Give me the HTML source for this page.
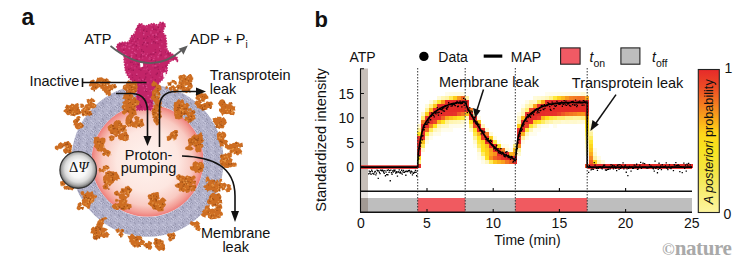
<!DOCTYPE html><html><head><meta charset="utf-8"><style>html,body{margin:0;padding:0;background:#fff;width:751px;height:265px;overflow:hidden}svg{display:block}</style></head><body><svg width="751" height="265" viewBox="0 0 751 265" font-family='"Liberation Sans", sans-serif' fill="#111"><text x="21.5" y="24.8" font-size="23" font-weight="bold">a</text><text x="314.5" y="27" font-size="22" font-weight="bold">b</text><defs>
<radialGradient id="lumen" cx="147.5" cy="160.8" r="56" gradientUnits="userSpaceOnUse">
<stop offset="0" stop-color="#fef3ef"/><stop offset="0.55" stop-color="#fde7e1"/>
<stop offset="0.8" stop-color="#f9cac2"/><stop offset="0.93" stop-color="#f39d95"/><stop offset="1" stop-color="#ee7c7a"/>
</radialGradient>
<filter id="bsoft" x="-2%" y="-2%" width="104%" height="104%"><feGaussianBlur stdDeviation="0.45"/></filter>
<radialGradient id="sph" cx="0.5" cy="0.47" r="0.52">
<stop offset="0" stop-color="#ffffff"/><stop offset="0.45" stop-color="#f7f7f7"/><stop offset="0.7" stop-color="#dcdcdc"/><stop offset="0.86" stop-color="#ababab"/><stop offset="0.96" stop-color="#767676"/><stop offset="1" stop-color="#555555"/>
</radialGradient>
<pattern id="memtex" width="8" height="8" patternUnits="userSpaceOnUse"><rect width="8" height="8" fill="#afafc8"/><rect x="2" y="0" width="1" height="1" fill="#c2c2d8"/><rect x="3" y="0" width="1" height="1" fill="#c2c2d8"/><rect x="7" y="0" width="1" height="1" fill="#9a9ab3"/><rect x="3" y="1" width="1" height="1" fill="#c2c2d8"/><rect x="5" y="1" width="1" height="1" fill="#9a9ab3"/><rect x="3" y="2" width="1" height="1" fill="#9a9ab3"/><rect x="4" y="2" width="1" height="1" fill="#c2c2d8"/><rect x="5" y="2" width="1" height="1" fill="#c2c2d8"/><rect x="7" y="2" width="1" height="1" fill="#9a9ab3"/><rect x="0" y="3" width="1" height="1" fill="#9a9ab3"/><rect x="4" y="3" width="1" height="1" fill="#9a9ab3"/><rect x="5" y="3" width="1" height="1" fill="#c2c2d8"/><rect x="6" y="3" width="1" height="1" fill="#9a9ab3"/><rect x="7" y="3" width="1" height="1" fill="#c2c2d8"/><rect x="3" y="4" width="1" height="1" fill="#c2c2d8"/><rect x="2" y="5" width="1" height="1" fill="#9a9ab3"/><rect x="5" y="5" width="1" height="1" fill="#c2c2d8"/><rect x="6" y="6" width="1" height="1" fill="#9a9ab3"/><rect x="6" y="7" width="1" height="1" fill="#9a9ab3"/><rect x="7" y="7" width="1" height="1" fill="#9a9ab3"/></pattern>
</defs><circle cx="147.5" cy="160.8" r="56" fill="url(#lumen)"/><circle cx="147.5" cy="160.8" r="66" fill="none" stroke="url(#memtex)" stroke-width="20"/><circle cx="147.5" cy="160.8" r="66" fill="none" stroke="#c4c5da" stroke-width="5" opacity="0.3"/><path d="M136.4,29.1 L138.3,24.4 L141.1,23.5 L144.9,26.3 L149.6,24.4 L153.3,23.5 L158,25.4 L160,22.5 L163.7,22.5 L165.6,25.4 L163.7,29.1 L162.8,32.9 L165.6,35.7 L166.5,43.3 L166.5,48 L168.4,51.7 L173.1,54.6 L176.9,57.4 L177.8,62.1 L175.4,59.2 L170.3,61.2 L167.1,65.4 L167.1,71.6 L165,75.8 L162,80 L158.8,83 L157.8,86.2 L154.7,88.2 L153,100 L152,110 L137,110 L136,102.8 L137,92.4 L136,87.2 L133.9,83 L130.8,80 L127.7,75.8 L125.6,71.6 L124.5,63.3 L124.1,60.2 L124.1,55.5 L121.3,52.7 L117.5,50.8 L116.6,46.1 L118.5,43.3 L123.2,42.3 L128.8,42.3 L129.8,39.5 L131.7,35.7 L134.5,33.8 Z" fill="#c22468" stroke="#c22468" stroke-width="1.6" stroke-dasharray="1.5 1.2"/><g clip-path="url(#synclip)"><path fill="#a01856" d="M172.8 63.2h1.3v1.3h-1.3zM169.8 67.6h1.3v1.3h-1.3zM157.6 26.7h1.3v1.3h-1.3zM172.1 81.7h1.3v1.3h-1.3zM159.3 50.0h1.3v1.3h-1.3zM163.7 98.7h1.3v1.3h-1.3zM116.4 30.6h1.3v1.3h-1.3zM153.8 34.9h1.3v1.3h-1.3zM155.9 74.0h1.3v1.3h-1.3zM148.3 69.8h1.3v1.3h-1.3zM161.8 23.0h1.3v1.3h-1.3zM169.6 51.3h1.3v1.3h-1.3zM149.7 100.2h1.3v1.3h-1.3zM169.2 107.4h1.3v1.3h-1.3zM171.6 101.1h1.3v1.3h-1.3zM147.2 42.3h1.3v1.3h-1.3zM148.5 57.8h1.3v1.3h-1.3zM128.2 68.6h1.3v1.3h-1.3zM154.3 67.3h1.3v1.3h-1.3zM145.3 90.1h1.3v1.3h-1.3zM169.1 90.0h1.3v1.3h-1.3zM123.7 27.1h1.3v1.3h-1.3zM142.6 32.4h1.3v1.3h-1.3zM160.4 54.8h1.3v1.3h-1.3zM129.9 32.6h1.3v1.3h-1.3zM157.4 86.3h1.3v1.3h-1.3zM124.9 89.9h1.3v1.3h-1.3zM127.1 23.1h1.3v1.3h-1.3zM122.6 87.7h1.3v1.3h-1.3zM159.5 39.3h1.3v1.3h-1.3zM164.6 99.5h1.3v1.3h-1.3zM156.2 90.2h1.3v1.3h-1.3zM127.6 83.7h1.3v1.3h-1.3zM171.8 43.7h1.3v1.3h-1.3zM135.4 58.7h1.3v1.3h-1.3zM140.2 69.4h1.3v1.3h-1.3zM157.7 68.7h1.3v1.3h-1.3zM157.3 66.3h1.3v1.3h-1.3zM145.9 90.6h1.3v1.3h-1.3zM132.8 29.9h1.3v1.3h-1.3zM151.0 102.0h1.3v1.3h-1.3zM171.5 80.4h1.3v1.3h-1.3zM153.3 85.7h1.3v1.3h-1.3zM124.4 91.5h1.3v1.3h-1.3zM117.6 76.0h1.3v1.3h-1.3zM121.0 95.7h1.3v1.3h-1.3zM177.9 39.3h1.3v1.3h-1.3zM146.1 30.7h1.3v1.3h-1.3zM140.3 63.1h1.3v1.3h-1.3zM143.2 61.5h1.3v1.3h-1.3zM149.1 35.2h1.3v1.3h-1.3zM143.4 37.4h1.3v1.3h-1.3zM141.0 49.3h1.3v1.3h-1.3zM155.0 51.7h1.3v1.3h-1.3zM119.5 59.7h1.3v1.3h-1.3zM152.7 21.3h1.3v1.3h-1.3zM158.2 22.7h1.3v1.3h-1.3zM121.7 82.6h1.3v1.3h-1.3zM135.8 74.5h1.3v1.3h-1.3zM140.8 106.1h1.3v1.3h-1.3zM145.0 76.4h1.3v1.3h-1.3zM167.2 31.0h1.3v1.3h-1.3zM167.2 81.6h1.3v1.3h-1.3zM141.0 79.8h1.3v1.3h-1.3zM166.5 39.3h1.3v1.3h-1.3zM144.8 85.8h1.3v1.3h-1.3zM137.2 38.1h1.3v1.3h-1.3zM131.5 95.6h1.3v1.3h-1.3zM136.8 59.3h1.3v1.3h-1.3zM145.1 73.3h1.3v1.3h-1.3zM173.7 67.2h1.3v1.3h-1.3zM124.2 68.2h1.3v1.3h-1.3zM176.7 90.9h1.3v1.3h-1.3zM142.8 51.1h1.3v1.3h-1.3zM141.9 44.2h1.3v1.3h-1.3zM133.3 36.0h1.3v1.3h-1.3zM127.3 81.9h1.3v1.3h-1.3zM117.9 72.1h1.3v1.3h-1.3zM135.6 45.1h1.3v1.3h-1.3zM131.5 108.2h1.3v1.3h-1.3zM146.7 106.2h1.3v1.3h-1.3zM159.3 31.2h1.3v1.3h-1.3zM155.1 93.8h1.3v1.3h-1.3zM174.4 107.7h1.3v1.3h-1.3zM132.6 69.6h1.3v1.3h-1.3zM156.1 33.7h1.3v1.3h-1.3zM127.3 23.3h1.3v1.3h-1.3zM139.8 104.5h1.3v1.3h-1.3zM154.1 36.8h1.3v1.3h-1.3zM119.4 65.0h1.3v1.3h-1.3zM140.7 54.2h1.3v1.3h-1.3zM116.0 26.7h1.3v1.3h-1.3zM143.0 38.5h1.3v1.3h-1.3zM143.4 81.7h1.3v1.3h-1.3zM153.1 28.6h1.3v1.3h-1.3zM143.0 29.6h1.3v1.3h-1.3zM172.6 77.2h1.3v1.3h-1.3zM128.5 55.9h1.3v1.3h-1.3zM168.2 49.1h1.3v1.3h-1.3zM136.3 43.0h1.3v1.3h-1.3zM119.3 106.9h1.3v1.3h-1.3zM154.9 60.4h1.3v1.3h-1.3zM167.1 39.1h1.3v1.3h-1.3zM150.3 53.5h1.3v1.3h-1.3zM147.3 35.9h1.3v1.3h-1.3zM165.0 86.3h1.3v1.3h-1.3zM122.1 83.6h1.3v1.3h-1.3zM130.0 61.7h1.3v1.3h-1.3zM128.6 35.1h1.3v1.3h-1.3zM132.1 28.7h1.3v1.3h-1.3zM170.8 33.3h1.3v1.3h-1.3zM132.3 83.4h1.3v1.3h-1.3zM167.7 53.2h1.3v1.3h-1.3zM143.3 42.1h1.3v1.3h-1.3zM140.3 56.2h1.3v1.3h-1.3zM165.3 65.5h1.3v1.3h-1.3zM117.3 23.0h1.3v1.3h-1.3zM154.8 28.9h1.3v1.3h-1.3zM147.8 106.6h1.3v1.3h-1.3zM131.0 37.2h1.3v1.3h-1.3zM124.6 99.2h1.3v1.3h-1.3zM155.8 85.8h1.3v1.3h-1.3zM154.0 63.2h1.3v1.3h-1.3zM156.1 84.7h1.3v1.3h-1.3zM128.1 100.3h1.3v1.3h-1.3zM176.7 33.3h1.3v1.3h-1.3zM135.6 60.4h1.3v1.3h-1.3zM135.6 55.3h1.3v1.3h-1.3zM162.7 94.0h1.3v1.3h-1.3zM172.7 70.6h1.3v1.3h-1.3zM131.6 32.1h1.3v1.3h-1.3zM153.2 40.9h1.3v1.3h-1.3zM123.1 49.2h1.3v1.3h-1.3zM177.9 36.0h1.3v1.3h-1.3zM127.5 108.3h1.3v1.3h-1.3zM135.5 53.3h1.3v1.3h-1.3zM168.0 96.2h1.3v1.3h-1.3zM137.6 64.1h1.3v1.3h-1.3zM177.9 81.2h1.3v1.3h-1.3zM122.8 88.9h1.3v1.3h-1.3zM128.5 30.3h1.3v1.3h-1.3zM119.1 60.2h1.3v1.3h-1.3zM163.5 83.1h1.3v1.3h-1.3zM169.3 83.5h1.3v1.3h-1.3zM173.1 76.7h1.3v1.3h-1.3zM153.2 53.4h1.3v1.3h-1.3zM154.8 42.2h1.3v1.3h-1.3zM134.0 79.7h1.3v1.3h-1.3zM137.3 26.7h1.3v1.3h-1.3zM152.0 42.2h1.3v1.3h-1.3zM173.1 95.9h1.3v1.3h-1.3zM138.6 21.7h1.3v1.3h-1.3zM130.2 99.6h1.3v1.3h-1.3zM121.7 54.6h1.3v1.3h-1.3zM143.8 78.7h1.3v1.3h-1.3zM176.9 30.9h1.3v1.3h-1.3zM156.7 72.6h1.3v1.3h-1.3zM121.2 93.9h1.3v1.3h-1.3zM177.3 80.8h1.3v1.3h-1.3zM150.6 59.5h1.3v1.3h-1.3zM120.4 43.5h1.3v1.3h-1.3zM169.6 25.4h1.3v1.3h-1.3zM154.7 79.2h1.3v1.3h-1.3zM128.4 36.1h1.3v1.3h-1.3zM164.4 30.7h1.3v1.3h-1.3zM133.2 100.0h1.3v1.3h-1.3zM167.0 52.5h1.3v1.3h-1.3zM155.7 35.2h1.3v1.3h-1.3zM150.6 58.9h1.3v1.3h-1.3zM121.5 103.6h1.3v1.3h-1.3zM146.4 66.3h1.3v1.3h-1.3zM125.5 81.9h1.3v1.3h-1.3z"/><path fill="#dc4c90" d="M155.6 34.4h1.3v1.3h-1.3zM161.1 72.3h1.3v1.3h-1.3zM170.5 29.7h1.3v1.3h-1.3zM149.1 57.3h1.3v1.3h-1.3zM169.1 109.2h1.3v1.3h-1.3zM142.7 85.1h1.3v1.3h-1.3zM117.2 75.8h1.3v1.3h-1.3zM122.5 93.4h1.3v1.3h-1.3zM174.8 81.1h1.3v1.3h-1.3zM143.2 97.1h1.3v1.3h-1.3zM121.0 87.0h1.3v1.3h-1.3zM170.9 61.1h1.3v1.3h-1.3zM164.8 24.0h1.3v1.3h-1.3zM135.5 95.4h1.3v1.3h-1.3zM166.0 51.7h1.3v1.3h-1.3zM150.7 108.7h1.3v1.3h-1.3zM166.2 25.0h1.3v1.3h-1.3zM116.8 87.3h1.3v1.3h-1.3zM166.3 26.5h1.3v1.3h-1.3zM126.6 91.5h1.3v1.3h-1.3zM165.5 24.2h1.3v1.3h-1.3zM150.1 98.4h1.3v1.3h-1.3zM167.3 42.5h1.3v1.3h-1.3zM125.7 56.7h1.3v1.3h-1.3zM152.4 97.4h1.3v1.3h-1.3zM145.7 55.1h1.3v1.3h-1.3zM145.0 41.4h1.3v1.3h-1.3zM175.4 97.0h1.3v1.3h-1.3zM171.2 90.0h1.3v1.3h-1.3zM160.5 81.4h1.3v1.3h-1.3zM156.0 86.0h1.3v1.3h-1.3zM123.6 103.9h1.3v1.3h-1.3zM146.9 109.6h1.3v1.3h-1.3zM157.5 55.8h1.3v1.3h-1.3zM165.5 69.5h1.3v1.3h-1.3zM122.7 88.3h1.3v1.3h-1.3zM128.3 90.6h1.3v1.3h-1.3zM122.9 46.2h1.3v1.3h-1.3zM136.0 98.5h1.3v1.3h-1.3zM169.4 59.9h1.3v1.3h-1.3zM141.3 96.2h1.3v1.3h-1.3zM129.9 21.2h1.3v1.3h-1.3zM126.6 56.9h1.3v1.3h-1.3zM155.5 33.4h1.3v1.3h-1.3zM118.4 64.9h1.3v1.3h-1.3zM131.0 55.6h1.3v1.3h-1.3zM167.8 70.2h1.3v1.3h-1.3zM138.5 57.9h1.3v1.3h-1.3zM174.9 24.8h1.3v1.3h-1.3zM177.8 21.1h1.3v1.3h-1.3zM121.0 78.8h1.3v1.3h-1.3zM158.7 108.0h1.3v1.3h-1.3zM152.3 22.0h1.3v1.3h-1.3zM164.9 68.6h1.3v1.3h-1.3zM121.3 62.4h1.3v1.3h-1.3zM142.2 78.7h1.3v1.3h-1.3zM131.6 49.8h1.3v1.3h-1.3zM134.1 104.1h1.3v1.3h-1.3zM171.3 23.5h1.3v1.3h-1.3zM145.4 109.9h1.3v1.3h-1.3zM166.0 47.5h1.3v1.3h-1.3zM126.3 25.5h1.3v1.3h-1.3zM117.8 24.3h1.3v1.3h-1.3zM172.6 93.0h1.3v1.3h-1.3zM147.5 95.0h1.3v1.3h-1.3zM128.1 102.9h1.3v1.3h-1.3zM126.8 64.3h1.3v1.3h-1.3zM124.9 101.6h1.3v1.3h-1.3zM127.8 94.2h1.3v1.3h-1.3zM119.0 106.5h1.3v1.3h-1.3zM124.1 33.9h1.3v1.3h-1.3zM177.8 108.2h1.3v1.3h-1.3zM128.4 73.9h1.3v1.3h-1.3zM134.6 97.4h1.3v1.3h-1.3zM135.6 95.8h1.3v1.3h-1.3zM136.2 73.6h1.3v1.3h-1.3zM176.5 47.5h1.3v1.3h-1.3zM136.7 91.2h1.3v1.3h-1.3zM129.1 27.7h1.3v1.3h-1.3zM152.2 34.0h1.3v1.3h-1.3zM161.7 94.7h1.3v1.3h-1.3zM147.6 103.6h1.3v1.3h-1.3zM150.3 31.4h1.3v1.3h-1.3zM119.2 67.1h1.3v1.3h-1.3zM151.6 28.6h1.3v1.3h-1.3zM133.6 108.4h1.3v1.3h-1.3zM128.5 47.6h1.3v1.3h-1.3zM135.5 97.5h1.3v1.3h-1.3zM155.0 64.9h1.3v1.3h-1.3zM130.7 53.7h1.3v1.3h-1.3zM128.9 48.0h1.3v1.3h-1.3zM151.0 42.8h1.3v1.3h-1.3zM129.4 80.7h1.3v1.3h-1.3zM153.1 58.8h1.3v1.3h-1.3zM142.2 53.9h1.3v1.3h-1.3zM160.2 49.8h1.3v1.3h-1.3zM135.8 85.5h1.3v1.3h-1.3zM153.6 83.5h1.3v1.3h-1.3zM130.3 44.2h1.3v1.3h-1.3zM125.1 53.9h1.3v1.3h-1.3zM132.4 90.4h1.3v1.3h-1.3zM136.3 88.8h1.3v1.3h-1.3zM118.6 64.7h1.3v1.3h-1.3zM155.7 39.8h1.3v1.3h-1.3zM146.0 86.7h1.3v1.3h-1.3zM123.2 51.0h1.3v1.3h-1.3zM174.0 85.2h1.3v1.3h-1.3zM155.5 92.2h1.3v1.3h-1.3zM133.6 104.6h1.3v1.3h-1.3zM143.2 32.2h1.3v1.3h-1.3zM123.0 81.6h1.3v1.3h-1.3zM121.2 87.3h1.3v1.3h-1.3zM164.8 87.6h1.3v1.3h-1.3zM175.3 63.4h1.3v1.3h-1.3zM160.6 74.4h1.3v1.3h-1.3zM172.1 55.8h1.3v1.3h-1.3zM143.0 33.9h1.3v1.3h-1.3zM150.6 89.9h1.3v1.3h-1.3zM166.6 42.4h1.3v1.3h-1.3zM125.6 107.2h1.3v1.3h-1.3zM132.5 46.6h1.3v1.3h-1.3zM160.4 91.8h1.3v1.3h-1.3zM133.2 96.4h1.3v1.3h-1.3zM157.1 23.5h1.3v1.3h-1.3zM147.7 104.4h1.3v1.3h-1.3zM129.5 73.2h1.3v1.3h-1.3zM169.3 46.0h1.3v1.3h-1.3zM134.1 51.7h1.3v1.3h-1.3zM175.9 66.4h1.3v1.3h-1.3zM164.5 56.2h1.3v1.3h-1.3zM128.5 44.4h1.3v1.3h-1.3zM116.0 36.8h1.3v1.3h-1.3zM124.8 46.4h1.3v1.3h-1.3zM170.5 86.9h1.3v1.3h-1.3zM159.2 52.7h1.3v1.3h-1.3zM159.0 46.6h1.3v1.3h-1.3zM156.0 89.8h1.3v1.3h-1.3zM156.5 40.0h1.3v1.3h-1.3zM135.3 52.8h1.3v1.3h-1.3zM169.1 62.3h1.3v1.3h-1.3zM132.4 27.1h1.3v1.3h-1.3zM152.6 52.0h1.3v1.3h-1.3zM176.3 21.2h1.3v1.3h-1.3zM157.7 96.5h1.3v1.3h-1.3zM120.5 64.3h1.3v1.3h-1.3zM143.8 89.5h1.3v1.3h-1.3zM170.4 97.2h1.3v1.3h-1.3zM150.4 98.9h1.3v1.3h-1.3zM130.7 57.1h1.3v1.3h-1.3zM117.7 55.3h1.3v1.3h-1.3zM149.7 98.1h1.3v1.3h-1.3zM125.6 43.8h1.3v1.3h-1.3zM165.3 93.3h1.3v1.3h-1.3z"/><path fill="#b01c5e" d="M130.8 69.4h1.3v1.3h-1.3zM134.7 23.8h1.3v1.3h-1.3zM147.4 55.3h1.3v1.3h-1.3zM160.3 39.8h1.3v1.3h-1.3zM160.5 50.5h1.3v1.3h-1.3zM147.3 109.9h1.3v1.3h-1.3zM174.8 107.5h1.3v1.3h-1.3zM176.8 51.2h1.3v1.3h-1.3zM154.4 104.7h1.3v1.3h-1.3zM174.1 59.9h1.3v1.3h-1.3zM164.9 108.9h1.3v1.3h-1.3zM137.9 102.6h1.3v1.3h-1.3zM175.2 22.9h1.3v1.3h-1.3zM131.6 61.6h1.3v1.3h-1.3zM127.0 37.5h1.3v1.3h-1.3zM135.2 40.8h1.3v1.3h-1.3zM156.3 29.6h1.3v1.3h-1.3zM142.1 67.1h1.3v1.3h-1.3zM144.8 77.4h1.3v1.3h-1.3zM118.0 61.6h1.3v1.3h-1.3zM119.1 45.2h1.3v1.3h-1.3zM135.6 49.0h1.3v1.3h-1.3zM139.9 55.7h1.3v1.3h-1.3zM138.4 38.0h1.3v1.3h-1.3zM119.3 76.8h1.3v1.3h-1.3zM117.1 40.5h1.3v1.3h-1.3zM174.1 54.3h1.3v1.3h-1.3zM167.8 105.8h1.3v1.3h-1.3zM131.7 74.4h1.3v1.3h-1.3zM132.6 38.7h1.3v1.3h-1.3zM174.0 96.8h1.3v1.3h-1.3zM157.6 97.1h1.3v1.3h-1.3zM171.1 48.3h1.3v1.3h-1.3zM123.3 44.5h1.3v1.3h-1.3zM118.2 61.3h1.3v1.3h-1.3zM123.0 100.0h1.3v1.3h-1.3zM122.0 104.8h1.3v1.3h-1.3zM134.3 81.2h1.3v1.3h-1.3zM122.6 105.1h1.3v1.3h-1.3zM147.3 43.0h1.3v1.3h-1.3zM149.6 89.7h1.3v1.3h-1.3zM151.2 39.0h1.3v1.3h-1.3zM135.6 101.6h1.3v1.3h-1.3zM155.3 108.0h1.3v1.3h-1.3zM146.9 22.7h1.3v1.3h-1.3zM160.4 86.8h1.3v1.3h-1.3zM160.6 53.7h1.3v1.3h-1.3zM126.2 76.4h1.3v1.3h-1.3zM172.6 73.9h1.3v1.3h-1.3zM131.5 44.7h1.3v1.3h-1.3zM145.9 37.8h1.3v1.3h-1.3zM137.1 63.6h1.3v1.3h-1.3zM174.3 24.0h1.3v1.3h-1.3zM123.1 55.7h1.3v1.3h-1.3zM143.6 83.5h1.3v1.3h-1.3zM144.9 98.3h1.3v1.3h-1.3zM147.3 101.7h1.3v1.3h-1.3zM169.3 30.0h1.3v1.3h-1.3zM155.8 88.8h1.3v1.3h-1.3zM173.3 82.1h1.3v1.3h-1.3zM118.5 87.3h1.3v1.3h-1.3zM162.0 87.5h1.3v1.3h-1.3zM176.7 99.0h1.3v1.3h-1.3zM138.3 96.9h1.3v1.3h-1.3zM117.8 54.2h1.3v1.3h-1.3zM177.0 91.6h1.3v1.3h-1.3zM146.4 42.2h1.3v1.3h-1.3zM139.0 77.3h1.3v1.3h-1.3zM133.3 43.7h1.3v1.3h-1.3zM175.5 34.8h1.3v1.3h-1.3zM168.8 94.7h1.3v1.3h-1.3zM146.2 45.9h1.3v1.3h-1.3zM122.4 80.5h1.3v1.3h-1.3zM127.2 76.8h1.3v1.3h-1.3zM173.9 21.7h1.3v1.3h-1.3zM151.3 62.3h1.3v1.3h-1.3zM177.5 82.0h1.3v1.3h-1.3zM136.0 66.1h1.3v1.3h-1.3zM155.5 73.6h1.3v1.3h-1.3zM169.5 95.3h1.3v1.3h-1.3zM123.6 65.6h1.3v1.3h-1.3zM142.4 96.4h1.3v1.3h-1.3zM142.7 98.2h1.3v1.3h-1.3zM116.7 54.1h1.3v1.3h-1.3zM124.7 28.3h1.3v1.3h-1.3zM145.5 100.2h1.3v1.3h-1.3zM167.6 37.3h1.3v1.3h-1.3zM152.3 105.5h1.3v1.3h-1.3zM120.0 99.1h1.3v1.3h-1.3zM170.7 41.1h1.3v1.3h-1.3zM152.1 53.4h1.3v1.3h-1.3zM143.7 85.2h1.3v1.3h-1.3zM127.0 43.3h1.3v1.3h-1.3zM146.4 72.5h1.3v1.3h-1.3zM137.0 86.2h1.3v1.3h-1.3zM122.7 68.0h1.3v1.3h-1.3zM139.2 24.7h1.3v1.3h-1.3zM159.5 107.8h1.3v1.3h-1.3zM152.2 81.3h1.3v1.3h-1.3zM149.6 109.0h1.3v1.3h-1.3zM173.3 58.6h1.3v1.3h-1.3zM133.0 63.7h1.3v1.3h-1.3zM157.4 43.0h1.3v1.3h-1.3zM176.6 59.3h1.3v1.3h-1.3zM147.3 105.8h1.3v1.3h-1.3zM131.9 76.9h1.3v1.3h-1.3zM126.6 23.9h1.3v1.3h-1.3zM149.8 74.2h1.3v1.3h-1.3zM122.0 57.1h1.3v1.3h-1.3zM129.8 61.4h1.3v1.3h-1.3zM130.0 67.8h1.3v1.3h-1.3zM172.2 25.3h1.3v1.3h-1.3zM134.9 63.1h1.3v1.3h-1.3zM164.3 92.4h1.3v1.3h-1.3zM155.1 28.4h1.3v1.3h-1.3zM173.4 58.5h1.3v1.3h-1.3zM137.3 104.5h1.3v1.3h-1.3zM134.9 86.7h1.3v1.3h-1.3zM131.8 99.6h1.3v1.3h-1.3zM139.4 93.9h1.3v1.3h-1.3zM161.4 87.8h1.3v1.3h-1.3zM123.6 73.9h1.3v1.3h-1.3zM131.7 22.6h1.3v1.3h-1.3zM131.1 40.7h1.3v1.3h-1.3zM130.2 101.2h1.3v1.3h-1.3zM150.7 56.5h1.3v1.3h-1.3zM165.1 51.6h1.3v1.3h-1.3zM144.0 39.2h1.3v1.3h-1.3zM117.5 98.6h1.3v1.3h-1.3zM141.2 50.7h1.3v1.3h-1.3zM168.5 54.4h1.3v1.3h-1.3zM159.2 86.1h1.3v1.3h-1.3zM116.6 27.6h1.3v1.3h-1.3zM156.9 36.4h1.3v1.3h-1.3zM136.2 60.6h1.3v1.3h-1.3zM157.5 33.2h1.3v1.3h-1.3zM163.0 69.5h1.3v1.3h-1.3zM143.2 55.7h1.3v1.3h-1.3zM156.3 61.8h1.3v1.3h-1.3zM164.2 87.0h1.3v1.3h-1.3zM175.5 101.7h1.3v1.3h-1.3zM153.1 102.2h1.3v1.3h-1.3zM138.5 68.8h1.3v1.3h-1.3zM125.8 29.4h1.3v1.3h-1.3zM116.7 69.5h1.3v1.3h-1.3zM137.7 90.8h1.3v1.3h-1.3zM176.5 44.8h1.3v1.3h-1.3zM118.6 44.6h1.3v1.3h-1.3zM127.4 101.8h1.3v1.3h-1.3zM162.4 93.5h1.3v1.3h-1.3zM131.2 35.0h1.3v1.3h-1.3zM129.1 88.4h1.3v1.3h-1.3zM167.2 52.7h1.3v1.3h-1.3zM155.9 67.0h1.3v1.3h-1.3zM177.1 49.7h1.3v1.3h-1.3zM148.4 54.2h1.3v1.3h-1.3zM175.2 94.7h1.3v1.3h-1.3zM163.7 80.9h1.3v1.3h-1.3zM154.7 49.0h1.3v1.3h-1.3zM151.9 76.8h1.3v1.3h-1.3zM117.4 30.3h1.3v1.3h-1.3zM159.6 70.9h1.3v1.3h-1.3zM143.6 28.8h1.3v1.3h-1.3zM170.8 41.5h1.3v1.3h-1.3zM130.0 99.9h1.3v1.3h-1.3zM166.3 36.6h1.3v1.3h-1.3zM166.8 93.8h1.3v1.3h-1.3zM145.2 83.2h1.3v1.3h-1.3zM120.8 101.7h1.3v1.3h-1.3zM152.7 26.5h1.3v1.3h-1.3zM135.6 27.1h1.3v1.3h-1.3zM160.3 55.2h1.3v1.3h-1.3zM137.3 96.1h1.3v1.3h-1.3zM128.7 86.9h1.3v1.3h-1.3zM140.1 106.6h1.3v1.3h-1.3zM144.7 79.7h1.3v1.3h-1.3zM162.1 66.7h1.3v1.3h-1.3zM177.1 68.5h1.3v1.3h-1.3zM120.9 94.3h1.3v1.3h-1.3z"/><path fill="#d03a7e" d="M153.5 101.9h1.3v1.3h-1.3zM132.1 41.9h1.3v1.3h-1.3zM149.5 69.9h1.3v1.3h-1.3zM145.3 85.0h1.3v1.3h-1.3zM160.3 103.0h1.3v1.3h-1.3zM146.7 44.0h1.3v1.3h-1.3zM164.3 97.1h1.3v1.3h-1.3zM133.7 26.6h1.3v1.3h-1.3zM121.5 92.3h1.3v1.3h-1.3zM171.6 22.8h1.3v1.3h-1.3zM153.5 88.8h1.3v1.3h-1.3zM175.4 100.8h1.3v1.3h-1.3zM139.4 98.4h1.3v1.3h-1.3zM119.7 76.8h1.3v1.3h-1.3zM168.3 44.5h1.3v1.3h-1.3zM130.8 37.7h1.3v1.3h-1.3zM142.0 57.4h1.3v1.3h-1.3zM125.7 21.4h1.3v1.3h-1.3zM137.2 43.5h1.3v1.3h-1.3zM167.1 21.7h1.3v1.3h-1.3zM169.0 28.7h1.3v1.3h-1.3zM151.1 24.8h1.3v1.3h-1.3zM153.5 90.7h1.3v1.3h-1.3zM155.5 24.9h1.3v1.3h-1.3zM142.1 82.8h1.3v1.3h-1.3zM159.1 27.4h1.3v1.3h-1.3zM123.5 82.5h1.3v1.3h-1.3zM166.3 84.8h1.3v1.3h-1.3zM148.7 71.2h1.3v1.3h-1.3zM117.6 31.2h1.3v1.3h-1.3zM156.1 61.4h1.3v1.3h-1.3zM150.5 107.0h1.3v1.3h-1.3zM147.0 107.6h1.3v1.3h-1.3zM168.3 107.1h1.3v1.3h-1.3zM158.8 88.3h1.3v1.3h-1.3zM126.1 65.3h1.3v1.3h-1.3zM172.8 67.0h1.3v1.3h-1.3zM151.3 42.3h1.3v1.3h-1.3zM164.0 33.8h1.3v1.3h-1.3zM145.8 85.1h1.3v1.3h-1.3zM116.4 50.8h1.3v1.3h-1.3zM139.5 27.9h1.3v1.3h-1.3zM170.8 27.8h1.3v1.3h-1.3zM158.1 53.8h1.3v1.3h-1.3zM127.1 100.2h1.3v1.3h-1.3zM173.1 78.4h1.3v1.3h-1.3zM150.4 78.6h1.3v1.3h-1.3zM122.7 37.1h1.3v1.3h-1.3zM138.3 44.7h1.3v1.3h-1.3zM119.3 33.2h1.3v1.3h-1.3zM170.3 105.1h1.3v1.3h-1.3zM127.5 37.8h1.3v1.3h-1.3zM152.7 34.0h1.3v1.3h-1.3zM138.9 47.1h1.3v1.3h-1.3zM171.3 105.5h1.3v1.3h-1.3zM146.5 67.6h1.3v1.3h-1.3zM118.3 65.5h1.3v1.3h-1.3zM149.3 58.6h1.3v1.3h-1.3zM134.9 62.3h1.3v1.3h-1.3zM143.8 53.2h1.3v1.3h-1.3zM132.0 53.9h1.3v1.3h-1.3zM159.6 25.5h1.3v1.3h-1.3zM133.1 91.1h1.3v1.3h-1.3zM164.9 106.6h1.3v1.3h-1.3zM128.4 107.7h1.3v1.3h-1.3zM162.6 77.2h1.3v1.3h-1.3zM121.4 47.1h1.3v1.3h-1.3zM149.3 90.3h1.3v1.3h-1.3zM126.8 86.8h1.3v1.3h-1.3zM132.7 36.1h1.3v1.3h-1.3zM160.1 23.0h1.3v1.3h-1.3zM170.5 98.6h1.3v1.3h-1.3zM137.0 48.7h1.3v1.3h-1.3zM133.8 39.6h1.3v1.3h-1.3zM134.1 105.1h1.3v1.3h-1.3zM161.0 98.9h1.3v1.3h-1.3zM173.7 68.7h1.3v1.3h-1.3zM138.8 38.0h1.3v1.3h-1.3zM146.0 89.8h1.3v1.3h-1.3zM134.2 67.2h1.3v1.3h-1.3zM146.5 24.3h1.3v1.3h-1.3zM124.9 60.5h1.3v1.3h-1.3zM143.5 39.3h1.3v1.3h-1.3zM163.3 83.3h1.3v1.3h-1.3zM174.5 59.4h1.3v1.3h-1.3zM153.4 93.2h1.3v1.3h-1.3zM135.3 43.0h1.3v1.3h-1.3zM175.1 87.2h1.3v1.3h-1.3zM146.1 26.4h1.3v1.3h-1.3zM145.0 80.2h1.3v1.3h-1.3zM141.3 52.3h1.3v1.3h-1.3zM124.7 24.4h1.3v1.3h-1.3zM118.1 64.3h1.3v1.3h-1.3zM156.5 104.8h1.3v1.3h-1.3zM174.5 49.2h1.3v1.3h-1.3zM150.4 24.2h1.3v1.3h-1.3zM142.7 108.6h1.3v1.3h-1.3zM158.8 62.6h1.3v1.3h-1.3zM139.7 30.5h1.3v1.3h-1.3zM120.0 69.6h1.3v1.3h-1.3zM122.4 96.4h1.3v1.3h-1.3zM117.3 51.7h1.3v1.3h-1.3zM143.4 68.6h1.3v1.3h-1.3zM119.3 108.1h1.3v1.3h-1.3zM125.8 31.9h1.3v1.3h-1.3zM121.7 69.1h1.3v1.3h-1.3zM161.2 43.1h1.3v1.3h-1.3zM175.9 61.3h1.3v1.3h-1.3zM177.2 68.0h1.3v1.3h-1.3zM177.7 25.6h1.3v1.3h-1.3zM119.7 97.0h1.3v1.3h-1.3zM149.4 103.0h1.3v1.3h-1.3zM165.4 55.1h1.3v1.3h-1.3zM124.7 39.1h1.3v1.3h-1.3zM120.1 21.8h1.3v1.3h-1.3zM167.2 50.5h1.3v1.3h-1.3zM166.9 94.4h1.3v1.3h-1.3zM127.4 30.2h1.3v1.3h-1.3zM123.4 102.3h1.3v1.3h-1.3zM126.9 87.8h1.3v1.3h-1.3zM120.9 68.7h1.3v1.3h-1.3zM148.2 58.3h1.3v1.3h-1.3zM129.8 93.8h1.3v1.3h-1.3zM137.4 109.6h1.3v1.3h-1.3zM163.0 31.2h1.3v1.3h-1.3zM145.6 69.0h1.3v1.3h-1.3zM131.5 83.1h1.3v1.3h-1.3zM149.6 62.4h1.3v1.3h-1.3zM150.2 31.4h1.3v1.3h-1.3zM169.8 66.9h1.3v1.3h-1.3zM174.8 63.4h1.3v1.3h-1.3zM139.1 98.5h1.3v1.3h-1.3zM147.3 82.2h1.3v1.3h-1.3zM149.7 73.1h1.3v1.3h-1.3zM125.5 23.8h1.3v1.3h-1.3zM159.3 77.0h1.3v1.3h-1.3zM159.9 70.2h1.3v1.3h-1.3zM120.3 81.7h1.3v1.3h-1.3zM165.7 55.6h1.3v1.3h-1.3zM137.4 41.5h1.3v1.3h-1.3zM155.7 108.8h1.3v1.3h-1.3zM157.1 86.5h1.3v1.3h-1.3zM123.6 65.5h1.3v1.3h-1.3zM165.8 86.9h1.3v1.3h-1.3zM119.6 66.2h1.3v1.3h-1.3zM146.7 53.2h1.3v1.3h-1.3zM150.8 55.8h1.3v1.3h-1.3zM138.2 78.9h1.3v1.3h-1.3zM177.9 25.3h1.3v1.3h-1.3zM156.6 102.3h1.3v1.3h-1.3zM153.5 56.7h1.3v1.3h-1.3zM139.5 65.8h1.3v1.3h-1.3zM150.1 32.4h1.3v1.3h-1.3zM158.8 76.8h1.3v1.3h-1.3zM133.5 28.6h1.3v1.3h-1.3zM144.2 43.3h1.3v1.3h-1.3zM157.2 30.5h1.3v1.3h-1.3zM117.2 60.4h1.3v1.3h-1.3zM123.5 36.2h1.3v1.3h-1.3zM145.7 65.1h1.3v1.3h-1.3zM176.7 25.7h1.3v1.3h-1.3zM126.2 78.0h1.3v1.3h-1.3zM159.5 52.0h1.3v1.3h-1.3zM134.3 27.6h1.3v1.3h-1.3zM161.2 73.9h1.3v1.3h-1.3zM154.3 65.1h1.3v1.3h-1.3zM121.4 82.5h1.3v1.3h-1.3zM116.1 60.1h1.3v1.3h-1.3zM164.5 36.9h1.3v1.3h-1.3zM152.3 65.2h1.3v1.3h-1.3zM167.0 36.9h1.3v1.3h-1.3zM151.9 34.3h1.3v1.3h-1.3zM157.5 57.0h1.3v1.3h-1.3zM141.2 24.9h1.3v1.3h-1.3zM163.1 82.1h1.3v1.3h-1.3zM128.1 71.7h1.3v1.3h-1.3zM176.7 88.6h1.3v1.3h-1.3zM170.8 35.7h1.3v1.3h-1.3zM167.7 109.2h1.3v1.3h-1.3zM168.1 83.2h1.3v1.3h-1.3zM161.1 38.2h1.3v1.3h-1.3zM132.0 103.9h1.3v1.3h-1.3zM148.5 35.4h1.3v1.3h-1.3zM138.0 100.8h1.3v1.3h-1.3zM126.5 108.0h1.3v1.3h-1.3zM128.8 90.9h1.3v1.3h-1.3zM124.8 41.1h1.3v1.3h-1.3zM134.3 60.0h1.3v1.3h-1.3zM122.1 62.7h1.3v1.3h-1.3zM123.4 97.7h1.3v1.3h-1.3zM155.1 97.0h1.3v1.3h-1.3zM164.5 47.7h1.3v1.3h-1.3zM158.3 38.4h1.3v1.3h-1.3zM131.0 66.0h1.3v1.3h-1.3zM139.1 83.8h1.3v1.3h-1.3zM170.5 28.1h1.3v1.3h-1.3z"/></g><clipPath id="synclip"><path d="M136.4,29.1 L138.3,24.4 L141.1,23.5 L144.9,26.3 L149.6,24.4 L153.3,23.5 L158,25.4 L160,22.5 L163.7,22.5 L165.6,25.4 L163.7,29.1 L162.8,32.9 L165.6,35.7 L166.5,43.3 L166.5,48 L168.4,51.7 L173.1,54.6 L176.9,57.4 L177.8,62.1 L175.4,59.2 L170.3,61.2 L167.1,65.4 L167.1,71.6 L165,75.8 L162,80 L158.8,83 L157.8,86.2 L154.7,88.2 L153,100 L152,110 L137,110 L136,102.8 L137,92.4 L136,87.2 L133.9,83 L130.8,80 L127.7,75.8 L125.6,71.6 L124.5,63.3 L124.1,60.2 L124.1,55.5 L121.3,52.7 L117.5,50.8 L116.6,46.1 L118.5,43.3 L123.2,42.3 L128.8,42.3 L129.8,39.5 L131.7,35.7 L134.5,33.8 Z"/></clipPath><path d="M140,63 L143,62.8 L143.2,66.5 L140.5,67.5 Z" fill="#fff"/><path d="M163,73 L165.5,72 L166,77 L163.5,77.5 Z" fill="#fff"/><g filter="url(#bsoft)"><path d="M105.6 86.5L105.7 87.5L104.8 88.5L102.7 89.6L101.7 89.3L101.9 86.8L101.9 86.3L102.3 85.3L103.6 84.3L105.0 83.4L106.3 84.4zM102.7 82.3L102.4 83.3L101.8 83.9L100.7 83.7L99.8 84.1L99.9 82.8L99.6 81.7L99.9 81.1L101.1 81.2L101.6 80.7L102.5 81.7zM101.4 85.3L101.0 87.7L99.1 86.9L97.8 87.4L96.0 87.0L95.3 86.0L94.4 83.7L96.0 83.2L97.5 82.9L98.7 83.3L100.4 84.0zM100.4 85.3L99.2 87.0L97.8 88.4L95.5 88.9L94.6 87.9L94.4 85.8L93.6 84.0L94.8 82.7L96.4 82.2L97.9 82.3L98.3 84.7zM97.4 87.3L96.8 89.4L95.0 89.8L94.1 90.3L91.5 90.0L90.4 88.8L91.6 87.1L91.8 85.9L93.8 84.7L95.0 84.6L96.8 85.6zM95.4 83.6L95.2 85.1L93.7 87.4L92.0 85.8L89.9 86.7L88.8 85.3L90.0 82.8L91.1 82.3L92.2 81.9L94.1 81.4L94.3 82.6zM94.4 82.2L94.0 82.7L93.9 84.5L92.3 84.8L91.2 83.4L89.8 82.7L89.9 81.1L90.8 80.5L92.6 79.7L93.7 79.5L94.8 80.5zM104.8 86.0L104.9 87.3L104.3 87.8L103.3 88.0L101.9 87.4L101.2 87.0L101.7 85.3L101.8 84.4L103.2 83.8L103.9 84.9L105.6 85.0zM105.1 88.0L104.6 88.8L104.4 89.3L102.3 91.1L102.0 88.9L99.9 88.3L100.6 87.3L101.7 85.1L102.6 85.0L103.7 85.8L105.8 86.1zM108.5 87.4L107.4 90.3L106.1 91.0L104.8 90.0L102.3 91.1L102.0 88.0L100.8 87.4L102.3 85.7L103.8 84.4L106.3 84.9L107.4 85.9zM105.5 83.5L105.2 85.5L103.8 84.9L103.1 85.1L101.8 85.2L101.9 83.9L101.2 82.9L102.5 82.1L103.2 81.9L104.1 81.5L104.5 83.3zM110.8 81.5L110.0 83.0L109.0 84.7L106.1 84.8L104.4 84.4L104.3 82.6L103.1 80.8L105.7 79.8L106.6 77.7L107.7 79.1L108.6 80.5zM106.2 80.8L105.1 82.5L104.4 83.6L102.9 83.2L102.3 82.5L101.5 81.8L100.6 80.5L101.4 78.7L102.2 77.8L104.3 78.9L104.8 80.2zM106.8 80.8L107.2 82.2L106.1 82.4L105.8 82.0L104.7 82.2L104.4 81.5L104.7 80.9L104.9 80.0L105.5 79.5L106.1 79.8L107.2 80.3zM103.8 80.4L104.3 81.2L103.5 81.9L101.8 82.1L101.0 81.9L100.5 80.3L100.8 80.0L101.5 78.7L101.7 78.1L102.8 79.3L103.5 79.2zM102.8 80.5L103.3 81.6L102.8 82.4L101.4 81.4L100.3 81.6L100.2 80.5L100.3 79.7L100.8 79.3L101.7 79.2L102.7 78.3L103.0 79.5zM99.2 81.4L98.9 82.1L98.7 83.0L97.7 82.7L96.4 82.4L95.3 82.0L96.3 80.6L96.5 79.5L97.1 79.2L99.3 78.9L99.8 79.6zM104.5 80.6L103.6 82.0L103.0 83.0L101.7 82.1L100.9 82.8L100.1 81.2L100.9 80.3L101.1 79.3L101.4 78.4L102.7 79.6L103.8 79.1zM101.7 80.0L101.3 81.6L100.2 82.3L98.8 82.4L98.0 82.8L96.6 81.0L96.5 79.9L97.3 77.4L98.9 78.1L100.9 77.8L102.2 79.0zM103.4 80.7L103.0 82.1L101.7 83.7L100.2 83.1L100.0 82.5L99.7 81.4L99.7 80.8L99.1 79.4L100.6 79.6L101.3 79.8L102.3 80.2zM103.2 80.9L103.7 82.5L101.2 83.4L99.9 83.3L99.0 82.3L97.8 80.9L96.5 78.9L97.7 78.5L99.2 77.5L102.4 77.3L102.3 79.3zM105.7 81.2L105.8 82.3L104.9 83.1L103.9 82.6L102.7 82.6L102.7 82.1L103.2 81.2L103.2 80.6L103.9 80.2L104.9 80.3L105.3 80.4zM108.6 80.5L108.4 80.9L107.1 81.2L106.1 82.0L105.3 81.4L105.0 80.7L104.8 79.6L105.5 79.0L106.5 79.2L107.3 79.1L108.4 79.0zM107.2 80.6L105.5 82.5L104.4 83.2L102.3 84.4L101.4 82.4L100.7 81.4L100.4 80.3L101.4 79.0L102.9 79.0L104.8 78.8L106.1 78.8zM105.4 84.5L105.1 86.0L105.2 87.6L103.3 86.5L102.3 86.7L100.9 85.2L101.5 83.8L102.1 83.4L102.8 81.5L104.8 83.1L105.8 82.7zM111.2 89.3L110.3 90.5L109.8 90.6L109.0 91.1L107.2 90.7L106.7 89.8L107.6 88.7L107.0 87.3L108.6 87.7L109.7 87.7L110.1 88.7zM114.7 86.4L113.2 88.8L111.8 88.4L110.1 89.8L109.8 87.9L108.4 87.9L107.6 85.5L109.4 84.6L110.9 84.7L113.2 83.8L112.9 85.8zM110.3 88.1L110.6 89.2L109.6 89.7L108.3 90.3L107.5 90.6L106.5 89.4L107.2 88.2L106.9 86.5L108.6 86.7L109.5 86.5L110.7 86.7zM111.6 86.4L110.8 87.5L110.7 88.0L109.2 88.5L108.3 87.5L108.0 87.0L108.1 86.2L108.9 85.6L109.0 84.6L110.0 85.1L111.1 85.9zM114.5 86.1L114.5 87.4L113.1 88.3L112.2 88.1L111.3 87.8L111.6 86.5L111.4 86.2L111.5 85.1L112.3 85.1L113.2 85.1L113.5 85.6zM116.9 86.0L116.6 87.5L115.3 88.5L114.6 88.3L113.4 88.0L113.0 87.0L113.5 85.9L113.2 84.7L114.4 84.1L115.8 84.1L115.8 85.4zM113.1 86.6L112.7 87.5L111.9 88.4L110.4 89.2L109.1 88.2L108.3 87.4L108.5 86.2L109.6 85.4L110.4 84.5L111.5 84.7L112.6 84.6zM113.5 87.1L114.6 88.4L112.1 88.6L110.6 90.3L109.9 89.0L108.2 87.5L108.1 85.2L108.6 84.3L110.9 85.1L112.2 84.2L113.9 84.5zM109.8 91.8L110.4 93.8L108.2 93.3L106.1 95.4L105.4 93.1L104.4 92.6L103.1 89.9L104.2 88.6L106.6 86.9L107.9 88.9L110.0 89.5zM110.4 93.5L111.1 94.2L110.3 95.6L108.5 96.3L107.4 94.6L107.1 94.0L106.7 92.6L107.3 91.9L108.5 91.4L109.9 91.5L110.9 92.0zM110.0 88.9L111.1 90.7L109.5 92.4L107.9 92.0L105.7 91.3L105.7 90.2L106.1 88.7L106.8 88.1L107.5 87.1L109.3 86.4L110.8 87.3zM112.3 88.8L112.9 89.4L112.4 90.5L111.4 90.1L110.3 89.9L110.4 89.2L110.0 88.5L110.0 87.5L110.9 87.3L111.8 88.0L112.7 87.8zM112.1 86.6L111.3 88.4L110.4 89.5L109.3 89.9L108.1 87.9L106.5 87.9L106.1 86.6L108.2 85.7L109.1 85.4L110.0 85.2L111.0 86.1zM114.0 87.0L112.5 87.9L112.4 89.6L110.8 88.8L108.9 89.2L108.7 87.4L108.4 85.7L109.1 84.5L110.5 84.4L111.4 85.0L113.4 85.4zM79.6 104.7L78.4 105.7L77.6 107.2L76.2 107.4L75.1 107.1L75.6 105.3L75.0 104.3L76.0 103.6L76.5 103.5L78.2 102.7L78.4 104.2zM78.6 108.7L79.7 110.4L78.0 110.9L75.6 112.0L75.2 109.9L74.0 109.6L73.5 107.1L75.7 107.2L76.0 106.3L78.0 105.9L79.5 107.1zM85.6 111.1L85.2 113.2L85.1 114.7L83.1 113.6L82.2 113.6L81.7 112.3L81.0 110.6L81.5 109.2L83.4 109.3L84.9 109.2L85.2 110.2zM81.5 112.6L80.6 113.7L80.5 114.6L79.0 114.2L78.1 114.9L76.8 113.6L77.3 111.7L78.0 111.4L79.4 110.7L79.8 111.5L81.1 111.6zM78.8 108.8L77.8 109.7L77.7 110.1L76.9 110.7L76.0 109.9L74.8 109.1L75.4 108.5L76.0 108.0L76.9 107.8L77.2 107.5L78.7 108.0zM88.5 112.4L86.2 114.0L85.5 114.8L83.2 116.6L81.9 115.2L81.6 113.6L81.2 111.7L81.9 110.6L84.6 109.2L85.8 110.1L86.8 111.5zM89.2 109.5L89.2 110.4L88.0 110.7L87.3 110.5L86.9 110.1L86.4 109.4L86.4 108.7L86.6 108.1L87.2 107.3L88.1 108.0L88.9 108.7zM87.6 109.2L86.8 110.6L86.1 111.5L84.9 110.9L83.4 111.0L83.3 109.7L83.3 108.9L84.3 107.6L85.1 107.8L85.9 108.0L86.4 108.0zM84.4 105.4L84.2 106.5L83.1 107.5L81.5 107.9L80.1 107.3L80.5 105.8L80.2 104.6L80.6 103.4L81.9 103.7L82.9 103.7L83.6 104.4zM88.0 109.1L88.6 110.8L87.3 111.2L85.3 111.8L84.6 111.4L83.1 109.6L82.3 108.3L84.4 107.2L85.4 106.8L87.3 106.5L88.8 106.8zM89.0 112.6L88.3 113.7L87.7 115.8L86.3 114.7L84.7 114.5L83.7 113.7L83.1 111.3L85.1 111.6L86.3 109.7L87.5 111.2L89.2 111.6zM91.3 112.8L90.8 113.5L90.4 114.1L89.7 114.9L88.7 114.5L87.9 113.3L88.4 112.6L88.5 111.4L89.5 110.5L90.9 111.0L91.8 111.8zM92.4 113.5L91.0 114.5L90.5 115.3L89.2 116.3L88.1 115.1L86.8 114.0L87.7 112.9L88.6 112.2L89.2 111.9L90.4 111.6L90.5 112.5zM87.7 113.1L87.4 114.6L87.3 115.5L85.4 116.0L84.6 114.9L84.2 114.0L84.3 112.6L85.0 112.0L85.3 110.9L87.3 111.0L87.4 112.0zM88.8 109.8L89.0 110.9L88.3 111.4L87.5 111.3L86.9 111.0L86.9 110.1L86.4 109.1L86.8 108.3L87.6 108.6L88.2 108.3L89.2 109.3zM90.2 108.2L90.6 109.8L89.4 109.9L88.7 110.4L86.9 109.7L86.4 108.8L87.3 107.9L87.7 106.8L88.5 106.0L89.5 106.3L90.0 107.1zM93.1 104.4L92.5 105.5L92.6 108.4L89.7 107.2L88.0 106.5L88.6 105.2L87.4 104.1L88.8 101.9L89.7 101.5L92.0 102.0L93.2 103.3zM89.8 106.8L90.0 108.4L88.8 109.7L86.3 108.5L84.9 109.5L84.2 107.0L85.1 105.6L85.1 105.1L86.0 104.3L87.5 104.1L89.0 105.0zM92.0 107.0L91.5 108.3L90.5 108.5L90.0 108.2L88.5 108.3L88.3 107.3L88.2 106.2L89.3 106.3L89.9 105.7L90.8 105.2L91.0 106.3zM96.6 105.0L95.8 107.5L93.7 108.3L92.9 108.4L91.1 107.5L89.4 106.1L89.0 104.5L90.5 102.5L92.9 102.6L93.5 102.8L94.9 103.9zM91.1 101.9L90.8 103.6L90.2 104.1L89.2 103.5L87.9 103.6L87.7 102.6L88.1 101.8L88.1 101.1L89.2 100.8L90.1 100.4L90.7 101.6zM90.1 100.4L88.8 101.5L88.8 102.3L87.3 102.8L86.9 101.9L86.8 101.2L86.8 100.2L86.5 99.1L87.4 99.3L89.0 98.8L89.9 99.9zM80.2 111.2L79.1 112.8L78.0 114.4L76.1 114.9L74.1 113.4L74.1 112.0L74.2 110.5L75.1 109.0L76.5 109.3L77.8 107.7L79.8 109.3zM79.1 112.3L79.1 114.0L77.1 114.4L76.4 115.2L74.9 114.0L73.5 113.5L74.5 112.5L74.4 110.0L76.4 111.3L77.2 110.3L78.7 110.9zM76.1 112.8L76.7 114.6L75.0 115.7L74.3 116.2L71.7 115.0L71.4 113.4L72.0 112.0L73.0 111.3L73.7 111.4L75.2 110.4L76.3 111.9zM94.6 99.7L94.5 101.7L92.3 101.7L91.6 102.0L90.5 101.9L89.9 100.4L89.9 99.4L90.4 98.9L91.9 97.4L92.2 98.3L92.9 99.2zM91.5 102.5L91.1 103.3L90.5 104.1L89.5 103.5L88.4 103.2L87.2 102.7L88.3 102.0L87.9 100.8L89.2 101.1L90.5 100.2L90.4 101.3zM91.8 105.2L91.9 105.9L91.3 106.6L90.4 106.0L89.7 105.9L89.7 105.5L89.2 104.7L89.5 103.6L90.6 102.9L91.1 103.6L91.8 104.5zM95.4 100.6L94.8 102.0L93.7 102.0L92.8 102.1L92.6 101.6L91.7 100.9L91.5 100.2L92.4 99.5L93.0 98.6L94.0 99.5L94.2 100.3zM95.1 104.9L95.2 106.1L94.1 105.9L93.8 106.4L92.9 106.6L92.6 105.2L92.2 104.7L92.5 103.5L93.8 103.3L94.6 103.4L95.5 104.2zM75.1 106.8L75.2 108.7L73.9 109.4L72.2 110.0L71.1 109.0L69.9 107.3L68.7 106.3L70.7 105.3L71.3 103.5L73.7 103.9L75.5 105.4zM78.2 106.6L77.8 108.1L76.5 110.3L75.3 109.4L73.8 109.2L72.6 107.5L72.6 105.8L73.8 104.4L75.1 104.7L76.1 104.7L77.8 105.8zM73.6 107.3L73.2 107.6L71.7 108.2L71.2 108.3L70.2 108.2L69.6 107.7L69.5 105.9L69.5 105.3L71.2 104.6L72.5 105.2L73.3 105.2zM70.5 107.0L69.1 108.5L68.2 109.7L67.3 109.4L66.2 108.7L64.6 107.6L65.9 106.8L65.9 105.5L66.6 104.4L68.2 105.1L70.1 105.9zM70.0 110.7L69.6 111.7L68.9 112.1L67.9 111.7L67.1 112.1L66.5 110.7L66.5 109.9L66.8 109.5L68.0 109.4L68.4 109.5L69.0 110.1zM71.6 109.7L70.9 110.4L70.3 111.5L69.7 110.9L68.8 110.6L67.9 110.2L68.2 109.1L68.5 108.5L69.3 108.6L70.5 108.4L71.3 108.9zM71.0 110.6L70.9 112.8L68.3 113.7L66.7 114.4L65.2 112.6L63.2 111.3L64.0 110.1L65.4 109.1L67.1 108.2L68.6 108.0L69.1 109.8zM69.9 112.6L69.8 113.6L69.9 114.9L67.7 115.3L66.6 114.5L66.7 113.1L66.5 112.2L67.3 110.9L68.1 110.8L69.3 111.4L69.7 111.6zM72.4 110.7L72.7 112.4L72.1 112.5L70.4 112.2L68.5 112.9L68.5 111.4L68.4 109.3L69.5 108.8L70.3 107.8L72.2 108.3L72.1 109.2zM74.7 112.7L74.2 114.3L74.9 116.3L72.1 115.4L70.5 116.0L70.3 113.9L69.0 111.2L70.1 111.0L71.2 109.3L73.9 109.5L74.7 111.5zM75.5 112.2L76.0 114.9L73.9 115.1L72.7 115.8L71.8 114.3L70.9 113.0L70.8 112.5L71.4 110.6L73.2 108.9L73.6 110.9L75.3 111.5zM73.6 111.6L74.2 113.0L73.3 112.4L72.5 112.7L71.2 113.0L71.5 111.9L70.9 111.0L72.0 110.6L72.7 110.2L73.5 110.2L73.7 110.9zM74.9 110.9L74.2 111.1L73.5 111.6L72.9 112.2L71.6 112.0L72.0 110.8L71.3 110.3L72.2 109.7L72.7 109.0L73.3 109.5L74.6 109.7zM72.3 113.0L73.1 114.2L72.5 115.1L71.0 115.5L70.1 113.8L69.5 113.7L69.7 112.3L70.2 112.1L70.5 111.1L71.5 111.5L72.8 111.5zM77.2 113.8L75.6 115.1L75.0 116.5L73.9 115.5L71.7 115.5L70.3 114.2L71.6 112.6L71.5 110.8L73.8 111.1L75.2 110.4L76.6 111.4zM80.0 120.2L79.2 120.6L79.0 121.3L77.6 121.9L77.5 120.9L77.2 120.5L77.3 120.0L77.5 119.2L77.9 119.1L79.0 118.7L79.5 119.0zM80.8 117.7L79.6 118.6L78.6 119.3L77.7 120.2L76.3 120.2L76.2 118.0L76.6 117.3L76.8 116.7L77.6 116.2L78.5 116.0L80.0 116.2zM78.6 121.3L77.8 122.5L77.2 123.0L76.5 122.8L75.5 122.8L74.9 122.2L74.4 121.5L75.6 120.8L76.6 120.6L77.1 120.8L78.2 120.4zM78.1 121.9L77.8 123.8L77.5 124.7L75.7 124.3L74.7 123.8L73.1 122.6L72.9 120.7L74.4 119.7L74.9 118.8L77.4 119.3L77.4 120.9zM82.7 124.9L82.2 125.8L82.0 127.6L79.6 127.2L78.5 126.8L78.4 125.1L76.7 123.8L79.0 122.7L79.8 122.7L81.2 122.7L81.9 124.1zM81.9 124.7L82.4 126.2L81.7 126.5L80.8 125.8L79.5 126.6L79.6 125.1L79.0 124.1L80.0 123.5L80.6 123.3L81.7 123.0L82.2 124.1zM84.1 125.5L82.7 126.4L82.9 128.0L81.6 127.0L80.2 127.3L80.6 125.9L79.5 125.0L81.0 124.5L81.5 124.2L82.1 124.5L83.3 125.0zM83.8 125.4L83.2 126.8L82.2 127.8L81.6 127.1L79.7 127.4L78.5 126.4L80.0 125.3L80.2 123.1L81.1 124.1L82.7 123.6L83.1 124.3zM82.7 125.1L82.0 126.7L81.9 128.2L79.6 128.3L77.6 127.5L78.4 125.9L76.9 123.5L77.9 123.2L80.1 122.2L80.9 122.2L81.9 124.3zM77.1 124.7L76.7 125.6L76.4 126.1L75.3 126.3L74.7 125.6L73.4 125.3L73.7 123.7L74.2 122.7L75.7 122.4L76.0 123.6L77.4 123.3zM80.4 125.6L80.2 127.6L80.2 128.7L77.2 129.4L75.4 128.0L74.6 126.1L75.9 125.2L76.2 122.6L77.4 122.6L79.2 124.1L80.7 124.2zM77.5 121.8L78.0 123.0L76.8 123.2L75.8 124.0L75.3 123.0L74.0 122.3L74.2 121.6L74.6 120.7L76.1 120.3L77.0 120.6L78.2 121.0zM60.8 147.0L60.1 148.7L58.5 148.8L57.6 150.6L55.8 149.4L54.9 148.8L54.7 146.8L56.1 145.4L57.6 145.7L59.2 144.5L60.1 146.3zM62.4 147.3L62.2 147.9L62.0 148.7L61.0 148.2L60.3 148.8L59.4 147.7L60.1 146.9L60.0 146.3L61.2 146.3L62.3 145.6L62.3 146.8zM68.5 144.4L67.1 145.9L65.6 146.8L64.5 146.5L63.8 146.3L62.8 145.9L62.0 143.6L63.5 143.2L64.5 141.7L66.5 142.0L66.8 144.0zM68.6 144.6L68.9 146.5L68.0 146.9L66.7 146.3L65.1 146.9L64.1 145.8L64.6 144.2L65.6 142.8L66.3 143.0L67.7 142.8L68.0 143.7zM63.9 146.0L62.9 147.3L62.1 147.3L60.2 149.3L59.4 148.3L57.4 147.1L58.2 144.2L58.7 143.4L60.9 141.9L62.0 143.3L63.6 143.8zM66.0 144.4L65.7 145.5L65.3 146.0L64.0 145.8L63.4 145.5L63.1 144.8L63.3 143.8L63.6 143.6L64.4 143.2L65.0 143.3L65.4 143.8zM71.2 144.0L70.3 145.4L69.0 146.5L67.0 147.3L66.7 145.9L64.6 145.5L64.5 143.3L65.6 142.3L67.6 140.9L68.7 142.5L69.9 142.5zM72.1 145.0L72.0 147.6L70.7 148.4L68.1 148.5L67.1 147.5L66.8 145.9L66.2 144.1L66.9 143.2L68.8 142.4L70.5 143.4L70.7 144.4zM70.8 147.5L70.3 147.9L69.4 148.6L68.1 148.8L67.3 148.4L66.5 147.7L67.6 146.9L67.9 146.1L68.1 144.9L69.1 145.9L70.1 145.7zM71.8 147.2L71.7 148.5L71.1 151.1L68.7 150.3L67.6 150.7L66.7 148.6L66.8 146.7L67.2 145.2L69.5 144.1L70.6 145.5L72.3 145.0zM70.3 147.1L69.8 147.9L69.3 148.7L68.5 149.2L67.4 148.6L67.5 147.2L67.2 146.5L67.4 145.3L68.2 144.9L69.2 145.6L70.5 145.8zM70.1 147.6L69.0 148.5L68.5 149.2L67.9 149.0L67.1 149.0L66.2 148.9L66.7 147.4L67.2 146.4L67.9 146.1L69.0 146.3L69.3 147.0zM69.5 151.4L68.8 152.9L66.9 152.7L65.9 153.9L63.8 152.5L63.3 151.6L62.9 149.6L64.5 148.9L64.7 147.3L66.7 147.7L69.2 149.1zM68.8 148.2L68.9 149.5L67.8 150.3L66.6 150.1L66.1 149.5L65.5 149.0L65.2 148.1L65.9 147.4L66.6 146.3L68.0 146.2L68.4 147.6zM71.5 150.9L71.8 151.7L70.9 153.2L69.0 153.5L67.5 152.8L67.3 150.8L67.4 149.9L68.2 148.7L69.1 147.6L70.2 149.1L71.2 149.2zM68.6 145.9L69.0 146.6L68.0 147.3L67.0 147.7L66.2 146.7L65.5 146.4L64.8 145.4L65.5 144.0L66.6 144.2L67.6 143.6L68.6 144.7zM69.8 143.9L69.6 144.3L68.6 146.0L67.4 146.3L67.0 144.8L65.8 144.0L66.1 143.3L67.0 142.1L67.6 141.3L68.9 140.9L69.6 142.9zM69.4 145.5L69.8 146.7L68.5 147.2L67.4 147.1L66.7 146.9L65.7 146.1L66.4 145.0L66.8 143.7L67.1 142.5L69.6 142.6L69.4 144.5zM127.4 126.6L126.0 127.2L125.8 128.5L124.4 128.9L123.4 127.9L122.9 126.9L122.7 125.7L124.1 125.1L124.8 125.3L126.3 124.4L125.8 125.7zM124.6 129.4L124.1 131.3L122.9 131.2L121.6 131.9L120.9 130.5L119.8 129.9L119.3 128.7L120.7 127.9L122.0 127.9L122.8 127.9L123.2 128.8zM120.8 126.9L120.1 128.3L119.3 128.6L118.3 129.3L116.2 129.6L115.5 128.6L115.9 126.0L116.6 125.2L118.0 123.9L118.9 124.8L119.8 126.0zM122.1 129.0L122.2 130.6L121.6 131.2L120.2 130.7L118.4 131.0L118.7 129.4L118.8 128.9L118.9 127.5L119.8 126.6L121.5 127.0L121.8 128.4zM124.8 128.5L125.5 130.0L124.4 130.7L122.7 131.2L121.8 129.6L121.3 128.7L121.6 128.1L121.7 126.5L122.6 126.0L124.0 125.7L124.8 126.8zM122.0 129.2L122.1 130.7L120.9 130.5L120.5 130.9L119.8 130.2L118.5 129.6L118.5 128.6L119.9 128.2L119.8 127.0L120.9 128.1L121.5 128.7zM126.8 129.7L126.7 130.7L125.4 131.2L124.2 131.5L123.0 131.8L123.0 130.3L122.9 129.5L122.7 127.9L124.0 126.9L125.1 128.5L125.6 129.2zM121.9 129.3L123.5 131.3L121.1 131.0L120.3 132.7L118.1 132.3L117.8 130.4L116.6 128.9L118.6 128.1L120.1 127.5L121.8 126.5L123.5 127.5zM119.6 128.7L118.3 130.7L117.3 131.1L116.3 130.8L114.4 131.6L113.4 129.3L112.4 127.8L114.1 126.2L115.8 125.5L117.0 126.6L118.3 127.0zM118.9 124.3L118.3 125.5L116.9 126.4L115.9 127.9L114.1 127.0L113.9 125.7L113.2 124.1L114.4 121.6L116.2 121.7L117.3 122.5L118.8 123.4zM120.3 128.5L121.0 129.1L119.5 130.3L118.2 130.4L117.6 130.0L116.7 128.7L117.1 128.0L117.8 127.0L118.6 126.1L120.0 126.3L120.4 127.5zM121.2 123.9L120.7 124.9L119.5 125.8L118.6 125.6L117.1 125.4L116.4 124.3L116.9 123.0L118.0 122.6L118.9 121.0L119.6 121.7L121.0 122.4zM120.8 123.5L121.2 125.6L119.1 126.3L118.4 125.9L115.9 126.2L115.5 124.9L116.6 123.1L116.7 121.7L118.4 120.1L120.6 120.7L121.1 122.6zM119.9 123.2L120.0 124.9L118.7 126.2L116.4 126.2L114.9 125.7L115.1 123.9L114.6 122.5L115.0 121.6L116.5 120.1L118.6 121.1L120.0 121.4zM123.4 125.1L123.2 126.5L122.0 127.3L120.8 127.5L119.0 126.9L119.5 125.3L119.0 124.7L119.2 123.3L120.7 123.2L122.4 122.8L122.0 124.4zM125.2 127.5L125.2 128.8L123.3 131.1L122.1 130.3L119.7 130.6L120.2 128.2L119.4 126.5L120.7 125.7L121.3 123.8L123.2 125.6L124.2 126.3zM121.0 127.2L120.1 127.7L119.6 128.3L118.5 129.2L117.8 128.5L118.0 127.6L117.8 126.5L118.2 125.5L118.8 126.0L119.7 126.2L120.5 126.5zM117.4 128.0L118.3 129.0L117.3 130.2L115.8 129.1L115.2 128.8L115.0 128.1L114.7 127.7L114.6 126.6L116.3 125.6L116.9 125.4L117.6 126.7zM122.1 137.3L121.5 138.2L120.2 138.8L119.3 139.3L118.4 139.2L118.2 137.8L118.0 136.4L117.6 135.2L119.3 134.4L120.5 135.0L121.5 136.1zM125.2 138.2L125.2 139.4L124.5 140.8L123.3 141.1L122.2 140.0L121.7 139.1L121.4 138.2L121.5 136.8L123.0 136.3L124.0 136.4L124.3 137.6zM123.3 134.2L123.1 135.6L122.4 135.8L122.0 136.5L120.8 135.5L120.4 134.6L120.7 133.9L121.1 133.6L122.0 133.1L122.7 132.6L123.1 133.6zM115.5 137.1L113.2 138.5L113.2 140.7L110.5 140.5L109.9 139.1L109.0 137.8L108.5 137.1L110.3 135.8L111.1 135.2L112.6 135.6L114.3 136.2zM112.5 137.5L112.2 138.2L112.0 138.5L111.2 139.6L110.1 139.4L109.6 138.3L109.4 137.4L110.4 136.0L110.9 136.0L112.1 135.9L112.9 136.6zM112.6 138.6L112.6 139.3L112.0 140.1L110.9 140.5L109.5 140.5L109.7 139.1L109.5 137.8L109.7 136.5L110.8 136.9L112.5 136.3L113.3 137.6zM114.5 138.5L114.0 139.9L112.1 140.2L111.3 141.6L109.9 140.0L109.2 139.5L110.3 138.2L110.8 137.3L111.6 137.1L113.2 135.8L113.3 137.3zM114.9 128.7L114.0 130.3L113.6 132.5L111.9 132.3L109.9 131.5L108.2 130.0L108.1 127.6L109.9 127.0L111.7 125.1L112.7 126.3L115.2 126.5zM114.8 129.7L114.0 131.2L112.5 131.9L110.8 132.3L109.4 131.2L109.3 130.3L108.3 127.7L110.1 127.4L110.3 125.3L112.3 127.2L113.0 128.0zM113.2 125.7L112.7 126.2L112.6 127.5L111.1 127.0L109.7 127.1L109.4 126.3L109.3 125.0L110.7 124.9L111.2 123.8L111.8 124.3L112.2 125.0zM113.4 129.7L113.1 131.2L112.1 131.8L110.9 132.2L109.2 131.0L108.2 130.3L107.9 128.1L108.8 126.7L110.1 126.6L112.1 126.8L112.3 128.4zM117.4 131.9L116.7 133.3L117.0 135.2L114.5 133.8L113.8 133.8L112.4 133.0L111.1 130.8L113.1 129.8L115.1 128.8L116.7 129.4L117.4 130.6zM117.4 128.7L118.6 131.3L117.2 131.9L115.5 131.5L113.0 131.3L113.2 129.5L112.9 128.3L113.4 126.6L114.8 125.7L117.4 125.9L118.0 126.9zM120.9 132.7L119.7 134.3L118.2 134.3L116.9 134.6L116.6 134.2L114.9 133.0L114.9 131.7L116.5 130.4L117.7 130.4L119.4 129.6L120.0 131.5zM125.4 136.9L125.6 138.2L124.0 140.5L120.9 140.1L119.6 140.5L119.8 137.1L118.3 135.3L119.5 133.8L121.5 133.6L123.1 133.8L124.3 135.0zM128.8 135.3L128.8 137.9L125.9 138.3L124.8 139.8L123.7 137.4L122.1 136.5L121.8 134.0L123.4 133.3L124.7 131.3L126.7 131.6L127.6 134.3zM128.5 137.7L129.3 139.6L126.2 139.5L125.4 141.7L123.7 139.0L122.0 138.8L123.2 136.9L124.2 135.1L125.3 134.7L126.2 135.1L128.8 135.3zM128.4 137.8L128.6 138.9L127.4 140.7L124.7 141.0L123.3 141.0L121.7 138.1L123.4 137.1L123.4 133.9L125.6 134.1L127.2 135.3L128.5 134.9zM126.7 137.8L126.6 138.7L125.8 138.5L124.7 138.6L124.3 138.8L123.7 138.1L123.9 137.1L124.0 135.9L125.1 136.1L125.6 136.0L126.5 136.7zM117.6 133.9L118.4 135.2L116.8 137.0L115.6 137.0L114.2 135.3L113.2 134.4L112.9 133.1L113.6 131.6L115.3 132.3L116.2 132.1L117.3 132.5zM115.8 131.1L115.8 133.1L113.7 133.3L112.1 134.2L110.1 133.5L109.8 131.9L109.8 130.0L111.1 129.1L112.5 126.9L114.0 127.8L114.5 129.9zM117.3 129.1L116.3 129.9L114.7 130.4L113.4 132.6L111.5 131.4L111.5 128.9L111.8 128.2L112.2 126.7L113.5 125.4L114.8 126.3L116.8 127.0zM113.9 129.0L114.0 130.8L113.3 132.0L110.6 131.3L109.2 130.5L108.1 129.2L107.5 127.0L108.7 125.8L110.1 125.0L113.4 124.9L115.0 126.8zM113.6 125.6L112.6 127.0L112.7 127.8L110.8 128.1L110.6 127.3L110.2 126.4L110.1 125.6L110.2 124.5L111.4 123.9L112.3 123.9L112.5 125.4zM114.6 128.6L113.9 129.4L113.8 130.2L112.7 129.6L112.3 129.7L111.9 129.0L111.6 128.6L112.4 127.8L112.6 127.0L113.2 127.8L114.4 128.1zM117.2 128.9L117.2 130.9L115.7 131.7L114.6 130.2L113.9 130.3L113.3 129.1L112.9 128.2L112.9 126.7L114.9 126.6L116.2 126.1L117.4 126.9zM104.2 146.0L102.1 147.0L101.4 149.1L99.5 147.9L98.6 147.2L96.6 145.8L98.1 145.0L98.9 143.8L100.2 143.2L101.1 142.4L103.2 143.8zM99.8 148.8L100.0 150.2L99.8 151.1L98.5 151.5L96.7 150.6L96.6 149.8L96.4 148.6L97.3 147.2L98.1 147.3L99.0 147.3L100.7 147.9zM104.9 149.5L103.6 149.9L102.4 151.0L101.0 152.6L99.7 150.0L98.0 149.9L97.7 148.4L98.9 146.8L100.7 146.1L102.7 145.8L103.1 147.2zM107.8 151.2L107.0 152.3L106.2 155.2L104.7 154.4L103.7 152.4L103.3 152.0L102.2 150.5L103.0 147.6L104.6 147.5L105.9 148.8L107.2 150.3zM110.1 151.8L109.6 153.6L108.0 153.4L107.2 154.6L105.8 153.8L106.1 152.8L105.9 151.9L106.4 151.0L107.3 149.8L108.2 150.2L109.4 150.8zM110.3 153.5L110.0 154.7L109.2 155.2L108.5 155.0L106.7 155.2L106.7 154.0L106.1 152.6L107.5 152.2L108.6 152.0L109.6 151.1L110.0 152.6zM110.5 153.6L110.3 154.3L109.2 155.1L108.5 157.2L106.2 155.3L105.2 154.8L106.3 152.3L106.9 151.0L107.6 150.9L108.9 151.2L110.8 151.6zM109.4 152.9L110.0 154.8L109.0 155.0L106.8 155.5L106.4 154.8L105.0 153.0L105.5 151.8L106.6 151.1L107.2 150.6L108.8 150.3L109.9 151.7zM107.1 153.3L107.0 154.2L106.2 154.5L105.7 154.1L105.0 154.2L104.4 153.4L104.9 152.6L104.2 151.8L105.8 150.9L106.6 151.4L107.2 152.2zM105.2 153.8L105.1 154.3L104.9 155.7L103.8 155.9L102.9 155.6L102.2 154.4L102.2 153.2L103.1 152.9L103.9 152.6L104.6 151.9L105.9 152.8zM104.4 143.6L103.8 145.1L103.8 146.8L101.7 146.8L100.6 145.3L99.4 145.2L100.4 143.6L100.0 141.4L102.2 141.9L103.3 142.1L105.4 142.5zM100.4 143.7L100.5 144.8L99.4 145.5L97.5 147.1L95.6 146.0L96.1 143.6L94.6 141.8L96.4 141.2L98.1 141.4L98.9 141.5L101.2 141.3zM101.5 146.2L100.2 146.9L99.7 148.9L96.5 149.1L95.2 147.7L93.7 146.4L94.5 145.2L95.6 142.8L96.9 143.5L98.2 143.0L100.0 144.3zM103.9 143.5L103.1 143.9L102.3 145.3L101.6 144.5L100.4 145.1L100.6 143.5L100.6 142.6L100.7 142.1L101.5 142.0L102.5 141.3L103.0 142.5zM101.4 139.7L99.5 141.7L100.3 144.0L97.2 142.7L95.8 142.0L94.9 141.0L94.0 139.3L95.6 137.8L97.4 137.8L98.9 137.0L99.8 139.1zM101.1 142.8L100.0 144.3L98.4 144.5L97.2 145.9L96.1 143.9L94.6 143.6L94.7 141.4L95.4 140.6L97.4 139.6L98.3 141.2L100.4 141.2zM98.6 141.2L98.5 142.3L97.8 142.8L96.5 143.4L96.2 142.3L95.6 141.6L95.8 140.5L96.3 139.8L97.0 139.8L97.7 140.0L98.5 139.7zM99.1 140.2L99.8 142.0L97.8 143.5L96.4 144.8L93.5 143.2L93.6 141.6L94.2 139.3L93.5 137.6L96.5 136.7L98.6 137.0L99.7 138.8zM100.4 141.2L100.2 142.7L98.3 142.8L97.3 143.0L95.9 143.2L96.1 142.0L94.5 141.1L95.8 139.3L97.5 139.1L98.1 139.6L99.8 140.4zM101.2 141.2L102.2 142.7L99.9 143.3L99.2 144.5L97.5 142.8L96.9 141.9L97.2 140.5L96.7 137.9L98.2 137.2L99.8 138.8L101.9 138.9zM105.4 141.8L104.3 142.6L103.7 143.7L102.3 145.3L100.1 144.2L98.5 142.4L98.5 140.3L99.7 138.8L102.1 137.4L105.0 137.9L105.5 139.6zM131.4 100.5L130.8 101.1L130.1 101.6L128.9 102.2L128.2 101.8L127.0 100.7L127.3 100.0L127.8 98.1L129.6 98.4L130.1 97.6L131.4 98.5zM134.6 103.6L135.2 104.9L134.6 105.4L132.6 105.8L132.4 104.7L132.0 103.7L131.6 103.1L132.3 101.7L132.6 100.8L133.9 101.8L135.4 102.5zM138.4 101.6L137.5 102.6L136.7 103.6L134.7 104.0L133.2 103.5L132.5 103.2L132.4 100.7L132.9 99.1L135.3 98.6L136.7 100.0L137.9 100.1zM136.9 102.7L136.3 103.5L135.2 103.8L134.3 104.6L133.9 103.7L132.8 102.9L132.2 101.6L133.7 100.5L134.8 100.9L135.7 100.5L136.2 101.7zM137.2 104.4L136.5 105.1L136.2 106.3L135.4 106.2L134.4 105.5L133.8 105.3L134.3 104.4L134.3 103.0L135.2 102.7L136.0 103.6L137.3 103.5zM139.8 101.6L139.0 104.4L137.4 105.5L135.2 105.0L133.7 103.9L132.4 102.5L131.8 100.9L133.6 98.2L135.7 99.6L136.9 99.9L137.8 99.9zM136.4 97.9L136.3 99.6L135.6 99.8L134.3 99.3L133.5 99.2L133.4 98.7L133.3 98.0L133.3 97.1L134.5 97.0L135.1 97.2L136.0 97.6zM135.1 100.9L134.2 103.1L133.0 104.7L131.0 104.6L130.2 103.0L128.6 102.4L128.9 100.8L130.3 99.8L131.6 99.4L133.1 97.9L133.3 99.9zM129.8 98.0L129.4 98.4L128.3 100.5L127.3 99.2L125.8 98.9L125.2 98.6L124.6 97.1L126.3 96.2L126.7 96.0L128.3 95.1L129.6 96.0zM129.1 97.1L127.9 98.5L126.8 99.1L125.0 99.7L124.4 98.7L122.3 99.0L123.5 96.3L123.4 94.8L125.6 93.7L127.2 94.2L127.1 96.7zM129.8 99.2L130.0 100.3L129.3 100.2L128.4 100.8L127.1 100.9L127.3 99.4L126.0 98.6L127.5 97.8L128.5 97.3L129.3 97.1L129.9 98.4zM131.1 102.9L129.9 104.3L130.0 106.5L127.3 106.0L126.0 104.9L124.6 104.2L125.7 102.4L124.9 99.7L128.0 99.0L129.7 100.3L129.8 101.4zM127.1 102.4L126.8 103.2L126.0 103.9L125.3 105.1L123.3 104.5L123.7 102.9L123.2 101.3L124.7 101.0L124.7 99.7L126.3 100.4L127.6 101.3zM127.2 106.6L126.4 107.3L126.1 108.3L124.4 108.0L122.0 108.7L121.5 106.8L122.1 105.7L123.3 104.6L124.6 104.3L125.9 104.3L127.0 105.4zM129.7 110.0L128.8 111.1L128.3 111.1L127.5 112.1L127.1 111.3L126.9 110.6L127.0 109.9L127.3 109.4L127.8 109.1L128.6 108.4L129.2 109.4zM130.1 107.7L129.9 109.8L128.6 110.7L125.8 110.5L125.5 108.8L123.5 107.7L124.8 106.1L123.4 104.4L126.7 105.0L128.1 104.9L129.7 105.7zM131.2 107.0L130.8 107.6L130.8 108.8L129.4 108.2L128.3 108.8L127.9 107.6L128.4 106.8L128.4 105.4L129.1 105.0L130.0 105.8L131.1 106.3zM136.3 110.9L135.2 112.4L133.3 113.6L130.8 114.9L130.8 112.9L130.0 111.9L129.9 110.2L129.6 108.7L132.2 108.1L134.4 107.3L134.2 110.0zM133.5 89.1L133.2 90.6L131.9 92.0L130.4 90.8L128.9 90.9L128.9 89.3L128.7 88.0L129.8 87.3L131.0 87.4L131.8 86.1L132.6 87.9zM138.1 86.8L137.7 87.7L135.7 88.6L134.4 90.6L133.2 89.3L131.3 88.2L132.6 85.6L133.4 84.1L135.1 84.6L137.0 83.1L137.2 85.7zM137.4 89.1L137.2 90.3L136.2 92.0L134.1 91.4L132.9 92.1L131.9 90.5L131.1 88.4L132.8 86.4L133.8 86.8L135.7 86.5L136.7 87.5zM135.4 91.8L134.7 93.3L134.1 93.9L133.0 94.1L131.0 94.0L130.5 93.5L130.7 91.5L131.6 90.4L132.4 89.3L134.3 90.5L134.8 90.7zM134.0 88.6L133.8 89.4L132.9 90.7L131.7 90.6L130.7 90.0L129.3 88.9L130.1 87.8L130.8 86.9L131.4 86.3L133.1 86.4L134.1 87.1zM134.7 85.2L134.7 86.9L134.6 88.0L132.7 87.5L130.4 88.6L129.6 85.7L130.6 84.3L131.5 83.1L132.2 81.4L133.7 83.0L135.1 83.9zM133.6 87.3L132.3 88.1L131.3 88.5L130.2 89.8L129.8 88.1L129.4 87.3L128.7 86.4L128.5 85.4L130.4 85.0L131.8 85.3L131.9 86.4zM136.9 84.5L136.8 85.7L135.9 86.9L133.8 86.8L133.1 85.2L131.7 84.5L132.5 83.7L133.2 82.8L133.7 80.9L136.2 81.4L137.4 82.7zM132.2 101.1L133.4 103.1L131.0 103.3L129.0 104.7L128.5 103.3L126.4 102.4L127.7 100.7L126.8 98.6L129.4 99.2L130.8 97.8L132.6 99.2zM135.7 104.6L135.9 105.4L135.5 106.4L134.3 106.0L133.5 105.8L132.2 105.4L131.7 104.3L133.2 102.8L133.8 102.3L134.9 103.1L136.2 103.4zM136.4 108.1L135.1 108.8L135.0 110.5L133.6 109.8L133.0 109.7L131.5 108.8L132.2 108.0L132.8 107.2L133.9 106.1L134.4 106.6L135.1 107.3zM134.3 104.1L134.6 105.2L134.1 105.7L132.6 106.0L132.3 105.4L131.6 104.8L131.3 104.0L132.4 103.5L132.8 103.4L134.0 102.9L134.4 103.6zM135.3 84.9L134.8 85.5L134.5 87.2L133.2 86.8L133.1 85.7L132.7 85.0L132.4 84.8L133.2 83.8L133.5 83.5L134.4 83.1L135.0 84.4zM131.3 89.2L131.2 89.7L130.9 90.3L130.3 91.0L129.4 90.5L129.2 89.4L129.3 88.9L129.2 88.0L130.1 88.1L130.7 88.2L131.1 88.6zM136.8 86.7L136.3 89.0L135.2 90.2L133.5 88.7L132.3 88.3L129.3 87.0L130.6 85.9L130.8 84.1L132.7 82.5L135.6 82.9L136.1 85.3zM130.1 105.1L129.8 106.0L127.9 107.9L126.4 107.8L125.2 106.1L124.5 105.8L123.5 103.1L124.7 102.0L126.8 102.7L127.6 103.0L130.2 103.3zM127.1 105.6L126.4 106.3L125.8 106.9L125.3 107.9L123.8 107.2L122.7 105.9L123.5 104.8L123.6 104.0L124.8 103.2L126.1 102.4L126.7 104.1zM126.6 106.9L126.6 108.1L125.8 108.7L124.3 109.3L124.1 108.5L123.1 107.7L123.3 106.8L123.5 106.1L124.7 106.1L125.8 105.7L126.0 106.8zM127.5 110.6L126.7 111.9L126.3 112.4L124.6 112.4L123.6 112.3L122.9 111.4L123.6 110.2L122.8 108.5L124.5 107.6L125.8 108.1L127.0 109.1zM127.2 112.3L126.1 113.3L125.2 113.7L124.6 114.6L123.5 114.2L121.9 113.2L122.1 111.5L122.9 110.6L124.5 110.2L125.9 110.1L126.1 111.3zM130.8 103.7L129.8 105.4L130.0 107.2L127.7 107.1L126.9 105.8L126.6 104.3L125.8 103.5L126.8 101.9L128.2 100.6L130.0 101.6L130.5 102.8zM127.6 103.1L127.7 105.2L126.0 105.7L125.1 106.1L123.1 105.0L123.4 103.9L122.0 102.5L124.1 101.5L125.0 101.5L126.0 100.0L126.4 102.1zM131.9 87.0L131.0 88.1L129.0 88.6L128.1 88.9L127.4 88.3L125.6 88.1L125.4 85.8L126.8 85.5L128.2 84.4L129.9 84.0L131.5 85.5zM126.3 88.3L126.4 88.9L125.6 89.2L124.8 90.5L124.1 89.7L122.6 88.7L122.7 87.6L123.4 86.9L124.8 85.8L125.8 86.5L126.5 87.1zM125.7 88.2L125.3 89.0L125.5 90.0L124.5 89.8L123.6 89.6L123.0 89.0L123.0 88.1L123.1 86.8L124.0 86.1L125.3 86.8L125.7 87.2zM128.8 88.7L128.4 90.2L128.1 90.7L126.5 90.7L125.3 90.8L125.2 89.8L125.5 88.5L125.7 87.3L126.4 86.3L127.6 87.5L128.5 87.6zM128.3 86.9L128.1 88.9L127.9 90.5L125.5 91.0L124.6 88.9L123.6 87.8L122.7 86.3L123.9 85.1L125.1 84.4L127.6 84.2L128.8 85.2zM131.2 84.6L132.2 86.2L131.0 87.0L129.6 87.7L129.1 86.1L128.5 85.0L128.1 84.2L128.8 83.4L130.0 82.7L131.0 82.2L132.1 82.8zM134.0 87.4L133.6 88.0L133.6 89.8L132.4 88.9L131.6 88.4L131.3 88.0L131.0 87.1L131.4 85.6L132.1 85.2L133.6 85.3L134.1 86.5zM133.4 87.5L134.5 89.7L131.8 90.1L130.1 89.9L127.6 90.7L126.6 88.4L126.6 86.3L128.2 85.2L130.2 85.7L132.1 84.0L133.3 86.0zM140.8 121.9L139.9 122.6L139.7 123.9L138.6 123.5L137.6 123.5L137.3 122.6L136.8 121.5L137.7 120.5L138.4 120.6L139.6 120.9L139.8 121.2zM140.3 123.6L140.8 124.9L139.2 126.0L138.3 126.1L136.9 125.4L135.0 124.4L134.2 121.9L135.1 120.5L137.6 119.5L139.1 120.9L140.3 122.0zM135.9 124.8L136.1 125.6L135.5 126.4L134.5 126.1L133.5 125.8L133.1 125.5L133.0 124.2L134.1 123.5L134.4 123.7L135.3 123.3L135.9 124.1zM134.6 122.8L133.8 123.6L133.1 124.2L132.2 125.5L130.5 124.6L129.7 123.4L130.7 122.7L130.4 120.9L131.9 121.2L132.8 121.5L133.7 122.1zM137.0 126.0L135.6 126.3L135.0 127.6L133.6 127.3L132.0 127.1L131.7 125.8L131.0 124.6L132.7 123.8L133.5 123.6L135.5 122.3L135.2 124.1zM131.8 124.7L131.5 125.7L130.3 126.9L129.5 126.3L128.2 127.2L128.1 125.2L126.9 123.9L128.2 122.8L129.5 121.9L130.3 123.5L131.0 123.6zM135.6 125.1L135.7 126.1L134.9 126.8L133.7 126.6L132.6 127.2L132.5 125.8L131.8 124.1L133.1 123.7L133.8 123.7L135.2 122.7L136.2 123.9zM139.0 119.2L138.8 119.9L138.3 121.6L137.4 121.1L136.2 120.5L135.0 120.0L134.0 117.6L135.0 116.6L136.8 116.0L138.0 116.8L139.7 116.9zM143.1 121.0L142.6 122.7L141.5 122.8L140.3 123.0L139.8 122.5L138.2 121.5L138.1 120.1L139.4 119.8L140.6 119.3L142.0 118.5L143.1 119.2zM144.6 125.3L143.0 126.3L142.7 126.6L141.6 127.0L140.5 126.6L139.0 126.4L138.8 124.0L140.2 123.2L140.8 122.1L143.1 121.8L143.8 123.6zM140.4 124.5L140.2 126.4L139.4 127.3L137.8 126.6L136.0 127.3L135.5 126.2L135.7 124.6L136.4 122.9L137.7 122.3L138.9 123.3L139.8 123.9zM139.9 123.0L139.4 123.7L139.0 124.3L138.1 124.2L137.7 123.9L136.8 123.6L137.4 123.1L137.0 122.0L137.8 121.6L139.4 121.6L139.7 122.1zM137.5 125.7L137.5 126.8L136.8 128.4L135.4 127.4L134.2 127.2L133.3 126.4L133.5 125.1L134.1 123.7L135.5 123.6L136.1 123.9L137.6 123.9zM133.1 121.7L132.1 122.4L131.1 123.1L130.6 123.6L129.2 123.6L128.7 121.7L128.0 121.1L129.1 119.2L130.3 119.0L131.9 119.5L132.4 120.7zM131.7 120.7L131.2 121.7L130.4 123.1L128.9 123.5L128.9 122.1L127.2 121.1L128.1 120.5L128.2 119.3L129.8 118.6L130.7 119.4L131.6 119.3zM130.8 119.4L130.7 121.3L129.3 121.7L128.5 122.5L126.4 121.9L126.9 120.2L125.8 118.4L127.4 118.5L128.7 117.5L129.6 117.1L130.5 118.6zM132.0 119.1L131.6 119.6L130.5 120.2L129.8 120.7L129.2 119.7L128.4 119.0L128.7 118.6L129.1 117.4L129.4 117.0L130.4 116.7L130.7 118.0zM129.9 123.4L130.3 124.1L129.5 125.7L127.9 126.4L126.6 124.9L126.0 124.2L125.2 122.7L126.4 120.9L127.8 121.1L129.8 120.9L129.7 121.7zM160.4 97.7L159.3 98.2L158.8 98.8L157.6 99.7L156.3 99.6L156.8 97.8L156.0 96.8L156.6 95.4L158.1 95.5L158.9 96.2L159.3 96.4zM159.5 93.5L159.6 94.0L159.2 95.0L158.3 94.6L156.9 94.8L156.6 94.1L157.3 92.8L157.2 91.8L158.2 92.2L159.4 91.9L160.4 92.4zM156.8 117.7L157.1 119.0L156.2 119.5L155.6 119.1L154.7 118.6L153.6 118.2L153.6 117.0L154.5 116.3L155.7 115.9L156.5 115.5L157.4 116.4zM156.5 116.7L155.8 117.4L155.5 118.1L154.2 119.0L153.3 118.1L152.0 117.6L153.1 116.2L153.1 114.0L154.1 114.0L155.9 114.0L156.3 115.2zM156.4 114.3L155.6 115.2L154.9 115.7L153.1 116.2L152.6 115.7L152.0 114.4L151.8 113.6L152.0 112.0L153.1 111.6L154.5 112.3L156.0 112.6zM156.3 109.7L155.4 110.6L154.4 111.8L153.4 111.5L151.2 111.8L152.1 110.3L152.1 109.4L152.7 108.6L153.8 108.0L154.5 107.3L155.8 108.6zM160.7 105.9L160.1 108.1L158.4 107.8L158.0 108.9L156.6 107.4L156.2 106.8L156.1 105.8L156.7 104.5L158.0 104.1L158.8 104.3L159.9 104.7zM161.0 109.0L160.4 110.7L159.1 112.3L157.9 111.2L155.9 111.6L155.3 110.6L155.5 108.7L156.3 107.5L157.9 108.0L158.9 107.4L160.1 107.7zM162.3 107.4L160.9 108.1L159.8 108.9L158.4 110.5L157.6 109.8L157.7 108.0L157.5 106.5L157.8 106.0L159.1 105.5L159.8 105.7L161.5 106.0zM159.2 109.7L159.4 110.1L158.9 111.1L157.8 110.7L157.0 110.7L155.9 110.0L155.8 109.1L156.5 108.2L157.6 107.2L158.3 107.9L158.7 108.8zM158.0 121.3L158.1 122.7L157.3 122.6L156.5 123.5L155.4 122.8L153.7 121.7L154.5 121.1L155.4 120.4L155.8 119.5L157.1 120.1L158.9 120.2zM157.0 120.4L156.7 121.2L155.8 121.8L155.1 121.6L154.5 121.3L153.6 121.2L153.1 119.6L153.5 119.0L155.1 119.1L156.1 118.6L156.1 120.0zM158.4 118.9L158.2 120.3L157.5 120.6L156.6 120.8L155.0 120.7L155.5 119.7L154.8 118.9L155.7 118.2L156.4 118.1L157.3 117.9L157.8 118.6zM157.0 116.8L156.7 117.4L156.4 118.3L154.7 119.0L154.1 118.3L153.9 117.4L153.9 116.5L154.5 115.3L154.8 114.3L156.0 115.2L157.0 115.6zM156.1 115.2L155.0 115.5L155.1 116.6L153.6 116.8L152.6 116.6L152.7 115.5L152.1 114.4L153.5 113.9L153.8 113.4L154.6 113.9L155.6 114.1zM154.6 111.0L154.6 112.2L153.7 112.7L153.2 113.1L152.2 112.7L152.1 111.3L152.4 110.9L151.9 109.9L153.0 110.2L153.6 110.2L154.6 110.0zM157.4 110.5L157.2 112.3L156.4 112.9L154.9 112.8L153.6 112.5L153.5 110.6L152.1 109.6L153.6 109.2L154.8 107.2L155.8 108.5L157.5 108.2zM158.4 110.3L157.9 111.0L157.7 111.6L156.5 111.4L156.0 110.9L155.4 110.3L155.3 109.6L156.0 108.8L156.6 108.3L157.5 109.0L157.9 109.3zM157.5 115.7L158.1 116.9L157.1 116.6L156.4 117.8L155.1 117.4L154.6 115.8L155.1 114.9L155.2 113.6L156.2 113.1L157.3 113.3L157.9 114.1zM161.6 111.6L161.3 112.2L160.9 113.7L159.3 112.8L158.3 112.5L156.4 111.9L157.5 110.4L158.5 110.1L159.4 109.0L160.1 108.9L160.5 110.6zM161.3 115.1L160.6 115.9L159.7 116.2L159.2 115.9L158.1 116.5L158.1 114.9L157.3 114.0L158.4 113.2L158.6 112.9L159.7 113.8L160.7 113.6zM161.0 116.4L160.8 117.5L160.2 118.0L159.7 117.8L158.2 117.9L158.3 117.2L158.6 116.1L158.7 115.6L159.3 115.4L160.2 115.4L161.6 115.0zM161.9 116.4L161.4 117.4L160.0 118.1L158.9 118.4L157.6 117.8L157.2 116.8L157.2 115.5L158.6 114.6L159.1 113.7L160.7 114.1L160.9 115.5zM159.7 114.9L158.8 115.6L158.8 116.2L157.7 116.2L156.2 116.1L156.2 114.8L156.5 114.1L156.6 113.3L157.6 113.2L158.5 113.5L160.0 113.7zM156.5 114.7L156.1 115.0L155.3 115.8L154.3 116.0L152.8 116.8L152.8 115.0L151.6 113.7L153.3 113.0L154.3 111.4L155.6 111.8L156.9 113.2zM157.4 91.9L156.9 92.8L156.5 93.2L155.9 93.1L155.1 93.5L154.5 92.3L154.8 91.8L155.4 91.5L156.0 90.8L156.6 91.1L157.4 91.3zM157.1 116.8L157.9 117.6L156.1 118.2L155.1 118.0L154.7 117.8L153.7 116.9L153.2 115.6L154.5 115.1L155.5 114.6L156.4 114.1L157.0 115.5zM158.6 114.0L158.0 114.8L157.3 115.1L156.9 115.4L155.3 115.3L155.0 114.7L154.6 113.4L155.1 112.4L156.2 111.7L157.3 112.8L157.9 113.4zM158.1 98.8L157.5 99.8L156.8 101.4L155.2 100.5L153.9 101.2L153.3 99.7L152.6 97.8L153.9 97.0L154.9 97.0L155.9 97.5L157.1 97.8zM156.1 96.4L156.4 98.7L154.6 98.1L153.4 98.9L151.9 99.4L150.6 97.7L151.4 96.2L152.5 95.1L153.6 94.9L154.7 93.2L155.9 94.7zM156.4 92.5L156.3 93.3L155.6 94.2L154.9 94.2L153.8 93.4L152.3 93.8L151.8 92.0L152.7 90.5L154.0 89.5L155.9 90.6L157.0 91.2zM160.5 95.0L160.1 95.7L159.7 96.3L159.3 97.0L157.9 96.2L158.2 95.4L157.3 94.3L157.8 93.6L158.8 93.6L159.7 94.1L160.7 94.0zM182.2 83.3L181.1 84.0L180.2 84.6L179.8 84.5L178.2 84.3L178.6 83.4L178.4 82.4L178.8 81.6L179.3 80.4L180.2 81.3L182.1 81.3zM191.2 82.4L191.2 83.2L190.2 84.4L189.6 84.6L189.0 83.7L188.4 82.9L187.7 81.9L188.9 81.7L189.4 81.2L190.1 81.3L190.8 81.9zM189.8 80.5L190.1 81.5L189.1 82.2L187.9 83.0L186.5 82.6L185.8 81.0L185.2 79.8L186.2 78.7L187.7 78.3L188.6 77.8L190.2 79.3zM188.2 77.7L188.2 78.1L187.8 79.2L187.1 79.5L186.1 79.3L185.4 78.2L185.9 77.4L186.6 77.0L186.9 75.7L187.5 76.7L188.5 77.1zM192.6 77.6L191.7 78.6L191.1 79.3L189.6 79.6L187.5 79.8L186.6 78.0L188.1 76.7L188.1 75.3L189.8 73.9L190.9 74.1L192.2 76.0zM193.6 78.9L192.1 80.1L190.7 81.6L189.1 81.9L188.6 80.8L187.6 79.9L187.5 78.9L188.0 76.4L189.6 76.9L191.5 76.0L192.1 77.2zM193.6 77.7L192.0 79.3L190.5 80.2L189.6 80.3L188.0 80.5L186.4 79.2L186.7 76.6L187.7 75.7L189.8 75.9L190.7 76.2L191.7 77.2zM192.3 78.7L193.0 79.9L191.3 81.1L189.3 80.5L188.7 79.7L188.1 78.9L187.7 77.8L187.7 76.0L189.1 75.5L191.1 75.9L192.2 75.9zM190.3 79.8L190.2 80.4L189.0 82.0L188.2 81.3L186.9 81.3L186.6 80.2L187.3 79.1L187.8 78.6L188.1 77.5L189.0 78.1L189.6 78.7zM192.0 80.6L192.5 81.8L190.8 82.9L189.7 82.8L188.0 82.4L187.1 81.1L187.8 80.1L187.8 78.1L189.3 78.9L190.8 78.8L192.0 78.9zM191.6 84.6L191.3 85.5L189.8 85.5L189.0 86.2L188.3 86.1L188.4 84.7L187.8 83.8L188.7 83.2L189.4 82.4L189.9 83.5L190.3 83.7zM188.0 82.6L187.1 85.2L185.6 85.7L183.8 85.6L183.4 85.1L182.2 84.2L182.9 82.6L183.6 81.5L184.1 81.6L185.6 81.6L186.9 82.3zM183.4 78.7L183.5 80.2L182.7 81.6L181.5 80.8L179.5 80.7L179.7 79.4L179.8 78.1L180.5 77.0L181.3 76.0L182.3 77.2L183.1 77.7zM185.6 77.6L184.6 79.1L183.9 82.2L181.9 80.3L179.8 81.5L178.9 79.8L179.9 77.1L180.0 75.1L182.3 75.5L183.9 74.1L186.1 75.8zM187.5 80.4L186.6 80.9L186.5 81.3L185.5 81.6L184.2 82.0L184.4 80.5L184.3 79.9L184.0 78.0L185.1 77.2L186.3 78.0L187.2 79.4zM184.7 77.0L184.3 79.6L182.1 79.2L181.0 81.2L179.8 79.8L178.2 77.9L178.7 76.4L178.7 75.4L181.0 75.5L183.0 74.8L182.7 76.5zM175.8 87.9L175.4 89.1L174.6 90.0L173.7 90.4L172.8 89.4L172.5 88.4L171.8 87.1L172.1 85.8L173.5 85.1L174.8 86.8L176.4 87.1zM172.0 88.2L172.6 90.0L171.7 90.6L170.2 90.7L169.3 89.5L168.9 89.0L169.0 87.8L169.2 86.9L170.3 86.9L171.3 85.7L173.0 87.0zM168.0 87.4L167.9 88.3L167.1 88.3L166.3 89.3L165.2 88.6L165.6 87.6L165.4 86.7L165.9 86.5L166.4 86.0L167.3 85.6L167.4 86.7zM171.2 84.2L171.7 85.2L170.2 85.9L168.9 85.3L168.1 85.4L168.0 84.4L167.2 83.1L167.8 81.9L169.3 82.4L170.5 81.4L171.9 82.8zM175.1 80.9L175.3 82.2L173.7 82.3L173.2 82.9L171.7 82.6L171.2 82.1L171.7 80.8L171.9 79.7L173.0 79.9L173.7 80.1L174.9 80.2zM184.3 85.9L184.0 87.1L183.1 88.0L182.3 88.3L181.2 87.5L180.9 86.1L180.1 85.1L181.2 85.0L181.9 84.4L182.8 84.4L184.0 84.9zM184.9 89.6L184.7 90.6L184.4 91.1L183.0 90.9L182.1 91.2L182.3 89.9L181.5 89.0L182.1 87.5L183.1 88.3L184.3 87.9L184.8 88.7zM188.3 89.1L187.6 91.6L186.9 92.2L184.5 91.6L183.8 91.2L183.5 90.2L181.8 88.7L182.7 87.5L185.2 86.4L185.8 87.6L188.3 88.4zM183.0 87.7L182.4 88.7L182.0 90.3L180.9 89.0L179.5 88.9L178.2 87.8L179.3 87.0L179.2 85.7L180.9 85.3L181.7 85.9L183.2 86.6zM179.4 86.9L179.5 88.1L178.5 88.8L177.7 89.0L177.0 87.8L176.1 87.0L176.5 86.4L176.7 84.9L177.2 85.1L178.8 84.6L179.7 85.1zM178.8 90.6L177.7 92.3L175.9 92.3L175.2 93.0L173.4 92.0L172.5 90.9L173.8 89.9L174.1 89.4L175.1 88.1L175.9 89.0L176.7 89.5zM180.7 86.7L179.0 87.5L178.8 88.2L177.9 89.3L177.0 87.9L176.1 87.5L176.5 86.5L176.9 85.8L177.7 84.4L179.1 84.9L180.2 85.3zM176.6 83.1L177.1 84.0L175.8 85.1L175.4 84.4L174.7 84.3L174.0 83.4L173.0 83.0L174.6 82.4L174.8 81.1L176.0 81.1L176.9 82.7zM182.8 87.4L181.3 88.3L180.8 89.9L179.8 89.3L177.7 89.7L178.2 87.8L177.4 86.6L178.6 85.9L179.2 85.2L181.3 84.1L181.3 86.2zM184.6 83.1L184.8 84.6L183.1 84.6L182.4 85.0L181.2 85.0L180.2 83.9L180.9 82.7L181.2 81.8L182.4 81.7L183.4 82.0L184.8 81.8zM187.5 82.9L186.1 85.3L184.3 84.6L183.3 85.0L182.4 84.4L180.7 83.6L179.6 82.2L182.1 80.9L183.6 80.9L185.1 80.2L186.8 81.0zM189.3 82.2L189.3 83.2L187.7 84.6L186.6 84.2L185.4 84.0L185.4 82.7L184.8 82.0L185.1 80.7L186.6 80.8L187.7 80.9L188.9 81.5zM192.7 85.1L192.7 87.3L191.2 88.5L189.6 87.0L188.3 86.7L187.8 85.8L187.1 84.9L187.9 82.7L189.1 83.0L190.8 82.3L191.7 84.0zM191.7 88.5L189.8 89.9L189.9 91.7L187.5 92.1L186.1 92.2L185.5 89.5L184.2 88.2L186.8 87.1L187.6 86.1L188.7 86.8L190.3 88.0zM189.3 89.4L189.8 91.0L188.4 91.7L186.7 93.2L185.1 92.5L185.1 90.3L185.8 88.9L184.8 86.9L187.3 88.0L188.1 87.6L188.9 88.2zM188.1 89.7L188.0 90.9L186.7 91.8L184.8 92.2L183.6 91.8L182.5 90.4L182.5 89.4L183.5 87.4L184.6 85.9L186.2 87.6L188.2 88.7zM185.3 89.4L185.4 91.3L185.1 92.0L183.2 92.3L181.1 91.7L181.9 90.1L180.7 89.2L181.6 87.0L183.6 87.6L185.3 87.0L184.7 88.5zM203.7 100.3L202.9 101.3L202.5 101.9L201.4 101.5L201.1 100.8L200.4 100.7L200.5 99.6L201.2 99.5L201.6 99.0L202.5 99.3L203.6 99.4zM204.6 96.4L204.7 98.5L202.7 98.7L201.5 99.6L200.9 98.1L199.0 96.5L199.2 95.2L200.5 93.6L201.4 93.1L203.5 93.5L205.3 94.6zM202.0 97.0L200.3 98.6L199.7 100.2L197.8 99.9L196.2 99.4L195.2 97.9L196.3 96.6L196.4 94.8L198.1 93.7L199.5 95.1L201.8 95.5zM200.1 96.0L201.3 97.7L199.7 98.4L197.4 99.5L195.6 98.8L196.3 96.6L195.7 95.0L195.7 93.9L197.7 94.5L200.1 93.0L199.7 94.7zM201.0 101.6L202.0 102.8L199.9 103.1L198.8 103.8L198.4 103.0L196.8 102.2L197.8 101.1L198.3 100.4L198.7 99.1L200.5 100.0L201.0 100.4zM200.7 104.1L199.9 104.9L198.4 106.8L197.2 107.8L196.0 105.1L194.3 104.1L194.9 102.2L195.8 100.9L196.7 100.5L199.3 100.9L200.8 101.0zM201.1 105.3L200.5 106.5L199.3 107.3L198.2 108.6L197.1 107.7L196.8 106.5L196.2 105.3L197.0 103.3L198.4 104.1L199.6 104.0L200.8 104.2zM202.3 108.1L202.6 108.7L201.2 109.1L200.6 108.9L199.8 109.1L199.0 108.5L199.7 107.8L200.2 107.3L200.7 106.3L201.3 107.1L202.0 107.2zM208.6 105.7L208.5 108.1L206.1 108.4L203.8 110.0L203.3 108.1L201.1 107.8L201.7 105.7L202.4 104.1L204.4 102.9L206.5 103.0L206.6 104.9zM204.1 107.5L204.4 108.8L202.5 109.0L201.7 110.0L200.9 109.1L199.6 108.4L199.9 106.5L201.2 106.4L201.9 106.1L202.9 106.3L204.4 106.1zM205.6 107.6L205.7 108.2L204.2 108.8L203.7 109.2L201.4 109.5L202.2 108.0L201.9 107.1L202.4 105.7L203.7 104.8L204.8 104.6L205.6 106.2zM204.5 106.5L203.9 107.6L203.3 109.0L202.1 109.8L200.0 108.7L198.8 107.9L199.1 105.4L200.2 104.4L201.9 103.9L203.5 104.0L204.9 105.2zM204.5 107.3L204.8 108.4L203.7 109.6L202.6 109.2L201.0 108.9L200.8 108.2L200.7 106.8L201.4 106.1L202.6 105.7L203.3 106.3L204.5 106.7zM204.6 108.7L204.6 109.7L203.5 110.5L202.8 110.9L202.2 109.5L200.4 109.1L201.4 107.9L201.5 107.2L202.3 106.6L203.5 106.8L204.0 107.6zM207.1 107.5L207.5 109.2L205.6 110.1L203.4 110.1L202.2 109.9L201.3 107.4L201.5 106.2L202.1 105.1L203.4 105.1L206.1 103.9L207.5 104.4zM209.2 102.8L208.7 103.6L208.2 104.3L207.3 104.2L206.8 103.8L205.8 103.8L205.8 102.6L206.6 101.6L207.4 101.3L208.1 101.9L209.0 101.6zM205.5 99.7L204.7 100.3L204.4 102.5L203.3 101.6L202.8 100.9L202.3 100.1L201.4 99.4L202.4 98.7L203.2 97.8L204.3 97.6L205.5 98.4zM208.2 96.3L208.5 98.5L206.5 98.9L204.5 98.5L202.3 98.7L202.3 96.8L202.9 95.9L203.3 94.6L204.8 93.2L206.0 93.6L207.0 95.2zM204.9 96.4L204.7 97.7L203.6 97.4L202.5 97.7L201.7 98.1L201.0 97.1L201.0 96.0L201.9 95.3L202.9 94.6L203.9 94.5L204.8 95.4zM211.2 104.9L211.1 106.5L210.3 106.5L209.4 106.3L208.7 105.8L208.4 105.5L208.3 104.5L208.5 104.1L209.4 103.1L209.8 103.7L210.7 103.9zM211.2 104.9L212.2 106.6L211.5 108.9L209.3 107.3L207.8 106.8L205.4 106.4L205.5 104.1L206.9 102.2L208.5 102.4L210.3 101.6L212.6 103.6zM212.6 104.8L211.6 105.8L210.3 106.7L209.7 108.1L207.7 107.9L207.0 105.6L207.3 104.0L207.8 101.9L209.3 101.9L211.5 101.5L212.8 103.1zM186.3 108.5L186.3 109.8L184.9 109.8L183.9 110.1L183.4 109.4L182.4 109.3L183.4 108.2L183.2 107.2L184.0 106.5L184.7 107.3L185.9 108.0zM187.9 108.0L188.1 109.5L186.3 110.2L184.9 110.9L182.9 110.4L183.2 108.3L181.6 107.0L183.6 105.2L184.2 103.7L186.5 103.9L187.3 105.7zM185.7 105.2L185.3 107.3L183.8 107.1L182.8 107.4L181.8 106.9L180.3 105.6L180.1 104.3L181.8 103.9L182.6 102.1L183.5 103.8L185.7 104.0zM189.4 119.2L188.1 120.1L187.6 120.8L186.7 120.6L185.4 120.9L185.9 119.4L185.7 118.6L186.0 118.3L186.5 117.1L188.1 117.5L188.0 118.7zM192.7 119.8L192.3 121.2L191.1 122.1L190.4 122.2L189.7 121.5L188.9 120.4L187.0 119.4L188.5 118.1L190.1 117.2L191.5 118.7L192.3 119.3zM191.2 118.4L191.4 119.3L190.4 119.2L189.7 119.5L188.8 119.4L188.3 118.9L188.6 117.6L188.9 116.5L189.6 116.8L190.4 117.0L191.6 117.4zM188.7 119.2L187.5 119.5L187.7 120.9L186.3 120.3L185.2 120.8L184.1 119.6L185.0 118.4L184.9 117.0L186.1 116.5L186.8 116.8L187.7 118.1zM191.4 121.0L190.5 121.7L189.6 122.4L188.3 123.6L187.8 122.5L187.3 121.4L186.2 120.3L187.4 118.8L187.9 117.4L189.8 118.5L190.5 119.9zM194.9 117.6L194.1 118.4L193.6 120.5L191.7 120.4L190.7 119.8L190.2 118.4L191.2 116.9L191.0 115.2L192.1 115.4L193.7 115.7L194.1 116.4zM192.0 114.9L191.0 116.4L189.6 117.0L188.6 118.4L187.9 116.9L187.1 116.0L186.8 115.0L188.0 114.1L188.9 113.6L190.3 113.3L191.0 114.2zM190.0 112.5L188.7 113.4L188.3 115.4L186.3 115.1L185.3 115.1L185.6 113.2L184.9 111.5L185.0 110.8L186.9 109.7L187.8 111.2L189.8 111.3zM191.7 109.8L191.6 110.7L190.7 110.8L189.8 110.8L188.2 111.1L187.6 110.2L187.8 109.1L188.8 107.9L189.5 108.5L191.1 107.9L191.5 108.8zM194.5 112.6L194.9 114.1L193.7 114.4L192.8 114.2L192.0 113.8L191.4 112.5L190.4 111.3L191.0 110.6L192.8 110.3L193.8 110.1L195.4 110.9zM194.8 116.9L196.0 118.3L193.5 119.9L192.0 120.4L190.0 119.1L189.8 117.3L191.0 116.4L190.0 114.0L192.0 113.9L193.7 115.1L195.6 115.1zM193.5 113.8L192.6 115.3L192.0 115.4L191.1 115.9L190.0 115.9L189.6 115.0L189.2 113.8L190.1 112.3L191.1 111.5L192.4 112.5L193.6 113.0zM178.5 117.1L177.9 117.8L177.2 119.2L176.3 119.0L175.5 118.9L175.0 117.8L174.7 116.7L175.3 115.3L176.5 115.2L177.7 114.8L178.4 115.9zM182.5 117.5L181.4 117.9L180.6 118.5L179.9 119.4L179.2 118.8L178.2 118.1L178.3 116.9L179.4 116.2L180.0 115.6L180.6 116.2L182.1 116.2zM180.4 113.7L179.2 115.0L178.4 115.9L176.7 115.8L175.9 115.2L175.9 114.5L174.7 112.6L176.0 111.8L176.9 111.6L178.3 112.4L179.2 112.7zM184.1 108.9L183.7 110.8L182.5 112.8L180.9 110.8L178.7 111.6L179.6 109.8L178.9 108.8L180.1 107.1L181.3 107.6L182.3 106.2L184.1 107.4zM181.0 108.5L181.1 109.3L180.0 109.6L179.5 110.5L178.5 109.9L177.1 109.1L178.1 107.8L178.3 107.0L179.3 106.6L180.3 105.7L181.5 106.9zM182.2 111.0L181.9 111.3L181.7 111.9L180.4 112.3L180.0 111.6L179.7 111.1L179.1 110.6L179.5 109.4L180.7 109.3L181.3 109.9L182.2 110.2zM179.4 114.5L179.6 115.3L179.2 116.3L178.1 116.5L177.1 115.8L176.1 114.7L176.0 113.9L177.2 113.4L177.6 112.5L179.1 112.5L179.4 113.1zM183.4 107.7L182.6 109.3L180.9 110.9L179.5 110.7L177.3 109.3L175.4 108.0L176.0 106.6L176.6 105.2L179.7 104.5L180.7 104.9L181.0 106.2zM179.3 110.7L179.2 112.7L178.1 113.4L176.5 113.8L174.6 113.7L175.0 111.4L174.1 110.0L174.9 109.9L175.8 109.2L177.8 108.7L179.5 109.6zM184.0 113.3L183.0 115.2L182.5 116.5L180.9 115.9L180.1 115.0L179.5 114.3L177.7 112.6L179.4 110.8L181.1 110.5L181.9 112.2L183.1 111.6zM182.2 116.1L182.7 118.3L179.8 118.9L178.4 119.5L177.5 118.6L175.6 117.6L175.0 115.8L177.3 114.6L179.2 114.5L180.1 113.5L182.6 114.9zM179.6 115.1L179.4 116.4L178.9 116.5L178.0 116.5L177.2 116.6L176.2 115.5L177.2 115.0L177.4 114.1L177.7 113.7L178.4 114.5L179.3 114.8zM178.0 117.1L177.6 118.0L177.4 119.4L176.5 118.6L175.2 118.7L175.2 117.7L175.5 117.0L175.8 116.2L176.6 116.3L177.1 116.3L177.6 116.8zM179.0 113.4L178.1 114.6L176.9 115.0L175.7 116.5L174.4 116.0L174.1 113.5L174.3 112.8L174.7 111.7L175.0 110.1L176.7 111.5L179.1 112.0zM180.7 103.2L180.0 104.1L179.4 105.2L178.0 105.8L176.9 103.9L176.1 103.9L176.6 102.5L176.7 101.1L177.5 100.9L178.2 101.9L179.4 102.4zM180.3 101.4L179.4 102.2L178.8 103.4L177.8 103.2L177.3 102.9L176.0 102.2L176.8 101.0L177.5 100.2L178.2 99.3L179.3 99.3L179.9 99.9zM178.7 105.0L179.0 106.8L178.0 107.1L176.2 106.2L175.4 106.0L173.5 105.5L174.2 103.5L173.8 102.5L175.9 102.1L177.7 102.6L179.0 102.9zM179.9 106.0L179.7 106.8L178.7 109.1L176.6 109.7L174.9 109.4L174.0 107.9L173.5 105.3L175.8 103.4L177.3 102.9L179.0 103.2L180.7 103.8zM178.8 108.8L178.9 110.0L177.9 110.6L176.0 110.7L175.2 110.5L174.3 109.0L174.9 107.7L175.0 107.0L175.9 105.8L177.2 107.1L178.5 107.2zM179.3 109.1L178.8 112.0L177.5 112.0L175.9 113.4L174.4 112.5L173.7 110.6L173.4 109.0L174.1 106.6L175.8 107.8L177.3 107.0L178.0 107.8zM179.5 110.6L178.2 111.4L177.0 112.7L175.9 111.9L174.5 112.6L174.5 110.7L174.2 109.4L174.7 108.8L175.9 106.9L177.5 108.2L178.1 108.4zM178.4 111.6L178.4 112.2L178.0 113.2L176.5 114.0L176.5 112.6L175.1 112.4L176.0 111.1L175.8 109.9L176.9 109.9L177.7 109.8L179.3 110.2zM183.3 113.3L182.3 113.6L181.2 114.2L180.3 115.5L178.3 114.8L178.0 113.5L178.6 112.5L178.3 110.7L180.0 110.2L181.6 110.4L181.8 111.7zM185.7 111.4L183.7 113.3L182.8 115.1L181.3 115.2L179.4 113.8L178.4 113.2L178.0 111.2L180.5 109.7L181.8 108.8L182.5 110.0L183.5 110.5zM185.7 111.3L185.9 113.2L184.6 113.1L184.0 113.3L182.7 113.7L182.2 112.4L182.3 111.1L182.8 109.5L184.1 109.1L184.9 109.2L185.9 110.2zM182.9 112.8L182.3 113.8L181.5 114.1L181.0 115.1L180.6 114.0L179.9 113.8L179.2 112.6L180.1 111.7L181.1 112.2L181.6 111.9L181.9 112.5zM184.5 109.0L183.9 109.5L183.6 110.0L182.9 110.8L181.7 110.7L181.0 109.1L181.5 108.2L181.9 107.8L182.6 107.8L183.3 107.1L184.1 108.1zM189.8 105.1L188.7 106.3L188.0 108.0L187.3 108.6L185.8 107.8L184.9 106.1L185.3 104.7L186.5 104.5L186.9 102.8L188.0 103.1L188.8 104.6zM188.9 105.9L187.8 106.8L186.8 106.9L185.8 107.1L185.0 106.9L183.7 106.1L184.4 104.9L183.9 103.3L185.6 104.0L186.7 102.5L188.3 104.3zM183.9 102.4L184.8 103.6L182.9 104.6L181.7 103.6L180.9 104.0L179.7 102.6L179.4 101.6L180.8 100.3L181.7 99.2L183.0 99.4L183.8 100.8zM182.5 109.9L181.8 110.8L181.3 111.1L180.4 111.3L179.6 111.5L179.0 110.5L179.7 110.1L179.1 108.8L180.5 109.0L181.7 108.3L181.7 109.4zM183.6 107.1L184.0 108.0L183.4 108.9L182.2 108.8L181.3 108.7L180.8 108.1L180.3 106.6L181.3 106.0L182.4 105.9L183.2 105.7L184.1 105.9zM185.9 109.3L185.3 110.6L183.8 112.3L182.6 111.7L181.5 111.2L179.1 109.7L179.5 108.5L180.4 106.7L182.6 106.3L183.5 107.7L184.9 107.6zM181.6 108.5L181.9 109.4L180.7 109.8L179.5 110.0L178.9 109.5L177.5 108.9L177.6 108.0L178.1 106.6L179.5 106.8L180.7 106.9L181.1 107.3zM181.4 106.2L180.9 107.1L179.8 107.6L178.3 106.9L177.1 107.9L175.8 106.3L176.6 104.8L177.5 104.7L178.4 104.1L179.5 104.4L180.2 104.4zM181.6 108.7L181.8 109.8L181.1 110.2L180.4 110.4L180.0 109.8L179.6 109.3L178.9 108.6L179.2 107.3L180.5 107.8L181.1 107.1L181.6 108.1zM185.8 113.3L185.1 114.2L185.0 115.1L183.3 115.1L182.8 114.3L182.4 113.4L182.1 112.4L182.0 111.5L183.5 110.7L184.7 111.5L185.7 112.1zM181.9 105.8L180.1 106.5L179.1 107.4L177.6 108.0L176.9 107.4L175.6 106.2L176.8 105.1L177.2 103.8L178.3 102.8L179.2 103.4L180.1 104.8zM177.8 104.0L177.4 104.9L176.6 105.6L175.9 106.4L175.2 105.7L173.9 105.2L174.3 104.0L175.3 103.0L175.4 102.1L176.7 102.9L177.8 103.1zM176.7 133.7L175.3 134.4L174.5 135.5L173.4 135.5L172.5 135.4L170.9 134.4L172.5 133.0L172.6 131.6L173.6 131.4L175.4 130.7L175.8 132.7zM177.4 133.0L177.0 134.7L175.1 134.9L174.3 135.9L173.0 135.9L172.0 134.4L171.0 132.9L173.3 132.1L174.1 131.5L176.1 131.1L176.1 132.7zM178.2 132.4L177.1 133.2L177.0 134.0L175.4 134.5L174.9 133.1L174.1 132.3L173.9 131.4L174.3 130.0L175.8 130.0L177.2 130.0L177.7 130.5zM175.4 136.4L174.9 136.9L174.5 138.2L173.3 137.9L172.4 137.9L171.8 137.2L172.3 135.8L172.5 135.1L173.8 135.0L174.5 134.8L175.6 135.5zM175.3 132.9L175.1 134.2L174.8 135.2L173.4 134.4L172.3 134.6L172.2 133.3L172.2 132.3L172.5 131.5L173.1 130.9L174.3 131.1L175.2 131.9zM173.7 134.3L173.9 135.1L172.9 135.7L171.7 136.2L170.4 136.0L169.4 134.4L170.2 133.8L170.3 132.7L171.5 131.9L172.9 131.6L173.7 132.4zM172.0 137.1L172.3 138.4L171.3 138.8L170.8 139.1L170.0 138.1L169.2 138.0L169.5 137.0L169.5 135.7L170.8 136.2L171.8 135.4L172.6 136.1zM176.2 137.7L176.7 139.0L175.2 139.7L174.5 139.9L173.7 138.7L172.5 138.4L172.5 137.0L173.3 136.6L174.5 136.5L175.7 135.6L175.4 137.0zM178.1 135.4L177.1 136.6L176.6 137.7L175.7 137.8L174.8 136.9L173.8 136.1L173.7 134.9L175.0 134.7L175.6 134.4L177.1 133.3L177.6 134.3zM174.8 135.4L174.8 136.2L173.5 137.2L172.7 137.6L171.8 136.9L171.2 135.8L171.5 135.0L171.7 133.7L172.5 133.3L173.4 134.0L174.1 134.5zM170.7 137.6L171.3 139.5L169.8 140.3L168.4 141.0L166.9 140.5L166.9 138.0L166.4 136.6L167.7 136.3L168.8 135.4L169.9 135.5L171.0 136.4zM191.0 148.3L191.1 149.5L190.5 150.6L188.8 150.3L187.2 149.9L185.1 149.3L185.5 147.1L187.6 146.3L188.9 145.0L189.7 145.2L191.1 146.0zM193.8 148.5L192.7 149.7L191.0 150.5L189.7 150.3L188.4 149.8L187.5 148.9L187.5 147.2L188.0 146.0L188.8 144.4L190.6 145.4L191.6 146.7zM194.3 143.4L194.1 145.1L191.9 145.2L190.8 146.4L190.3 145.2L188.5 144.3L188.3 142.1L189.0 141.3L191.5 140.8L192.0 141.9L194.1 141.9zM193.4 142.4L193.5 143.3L192.1 143.3L191.8 143.3L191.1 142.8L190.5 142.5L189.9 141.2L190.9 140.6L191.6 140.2L192.8 140.3L192.8 141.3zM197.3 142.1L198.6 144.4L196.2 146.2L193.9 146.7L193.2 144.7L191.0 143.1L191.8 142.3L191.5 139.9L194.1 140.2L196.3 139.8L198.7 141.1zM195.0 142.5L194.1 143.2L194.0 144.0L192.8 144.2L191.9 144.2L191.9 142.7L191.7 142.1L192.2 141.2L193.2 140.5L193.7 140.8L193.9 141.7zM197.8 140.5L197.9 142.5L196.9 142.9L195.6 143.5L195.1 141.9L193.5 141.3L193.4 140.4L194.7 139.1L195.9 139.4L197.4 138.7L197.2 139.8zM202.3 137.6L201.6 139.5L200.7 140.4L198.5 140.4L197.3 140.1L196.5 138.6L197.8 136.8L198.2 135.5L198.8 135.6L200.9 134.9L201.7 135.8zM202.9 139.4L202.7 140.5L201.3 141.6L199.5 141.6L198.0 142.0L197.0 140.1L197.0 138.0L198.2 137.2L199.5 136.8L201.2 137.0L202.6 136.7zM201.6 142.9L201.1 144.0L200.5 144.8L199.4 145.5L198.4 144.1L197.0 144.0L198.4 142.5L198.5 141.6L199.6 140.3L200.2 141.2L202.2 141.7zM201.0 146.4L200.3 148.4L198.9 148.9L197.8 149.7L195.7 149.1L195.4 147.8L194.7 145.8L195.7 144.1L197.8 144.7L199.0 144.6L200.9 144.4zM200.9 150.0L201.3 151.0L200.3 152.2L199.2 152.1L197.1 151.5L196.1 150.7L196.5 149.3L198.0 148.4L199.1 147.8L199.9 146.7L200.7 148.5zM201.2 150.0L199.5 150.8L198.9 151.4L197.5 152.4L196.3 152.2L195.3 150.6L195.1 149.0L195.8 147.8L197.3 146.3L198.3 148.1L200.8 148.5zM200.4 146.2L199.2 147.2L198.9 148.0L197.8 147.6L196.1 147.6L195.2 146.3L194.6 145.1L196.1 143.4L197.7 144.3L198.8 144.0L199.6 144.5zM193.0 141.2L193.4 143.1L191.4 144.7L189.7 143.0L188.9 142.7L188.1 141.7L187.9 140.9L187.9 139.4L189.7 138.0L192.0 137.9L192.0 140.0zM193.1 139.4L193.3 140.5L192.7 141.4L191.6 141.0L191.2 140.8L190.7 140.2L190.0 138.6L190.3 138.2L192.1 137.4L192.4 138.4L192.9 138.7zM196.1 137.4L195.3 137.8L195.6 138.7L194.3 138.5L193.3 138.3L193.1 137.7L192.7 136.7L194.0 136.2L194.6 135.2L194.9 135.9L195.6 136.7zM198.2 137.1L198.3 139.4L196.8 140.7L194.0 141.0L192.4 140.2L191.3 137.9L191.2 136.9L193.1 135.4L194.5 134.1L195.9 135.5L196.9 135.9zM198.8 137.4L199.2 138.6L197.8 138.4L196.9 139.2L196.3 138.7L195.6 138.0L194.7 136.8L195.2 135.8L197.0 136.2L198.0 135.2L198.2 136.9zM199.9 140.6L199.6 141.3L198.9 142.3L197.2 143.0L196.9 142.2L195.9 141.4L195.9 139.9L196.4 138.8L197.8 138.4L198.5 139.5L199.8 139.0zM198.2 141.4L197.4 142.5L196.8 143.8L195.0 144.3L194.6 142.7L193.9 142.2L192.9 141.0L194.7 140.0L195.6 139.8L196.6 139.6L197.7 139.7zM202.6 137.9L202.2 139.7L201.1 140.1L199.9 140.5L198.0 140.1L196.9 138.6L196.2 136.1L197.9 134.7L199.0 134.8L200.9 134.0L202.3 136.5zM199.8 136.3L200.2 137.4L199.2 137.5L198.6 138.0L197.7 137.3L197.0 136.7L197.5 136.1L197.3 135.1L198.6 134.5L199.0 135.4L200.0 135.2zM198.1 139.6L197.7 140.4L196.8 141.2L196.2 140.9L195.1 141.2L193.8 140.5L194.3 138.9L194.9 137.9L195.7 137.1L196.9 138.5L197.7 138.1zM199.7 142.2L200.0 144.3L198.2 144.2L196.8 145.2L196.5 143.8L195.5 143.5L195.9 142.0L196.5 141.3L197.6 139.7L198.9 140.0L199.8 141.7zM201.4 139.2L201.6 140.1L200.9 141.2L200.1 140.8L199.1 140.2L198.4 139.6L198.6 138.9L198.6 137.4L199.9 137.8L200.6 137.7L201.8 138.2zM202.8 135.9L201.7 137.4L201.5 140.3L199.3 138.7L198.4 139.0L195.8 136.8L196.6 134.7L198.7 134.5L200.2 132.5L201.6 132.3L202.1 134.7zM201.9 139.4L201.6 141.0L200.3 142.9L198.6 141.3L197.1 141.3L197.0 140.4L195.6 138.8L197.0 136.3L198.1 136.0L200.4 135.9L202.1 137.3zM196.9 139.3L196.9 140.6L196.1 142.4L193.9 142.1L192.7 141.9L193.0 139.7L193.2 138.4L193.2 137.3L194.6 135.9L196.8 136.1L196.2 137.9zM196.4 138.4L195.5 139.0L195.2 139.1L194.0 140.2L193.9 139.0L193.0 138.5L192.4 137.9L193.8 136.8L194.4 137.2L195.4 136.8L196.4 137.1zM195.6 140.1L195.2 140.8L194.8 141.9L193.8 142.1L193.2 141.6L192.9 140.8L192.0 139.5L192.9 138.6L193.7 138.0L194.9 139.1L196.3 138.9zM199.5 141.9L199.4 142.6L199.6 143.6L198.2 143.4L196.9 143.3L197.6 142.2L196.8 141.3L197.4 141.0L198.1 140.9L199.4 140.0L199.8 140.9zM203.2 141.8L202.8 142.6L201.8 143.3L200.3 143.4L199.0 144.4L197.1 142.3L197.0 140.9L199.5 139.3L200.2 139.4L201.5 139.5L204.3 140.0zM201.2 145.6L201.9 147.2L200.3 147.0L198.9 147.3L197.4 148.1L197.0 146.4L196.7 144.6L197.3 143.7L199.3 142.5L200.3 143.7L201.7 143.9zM202.2 141.6L202.1 142.9L200.7 143.5L200.0 144.8L199.0 143.2L198.3 142.5L198.4 141.8L198.8 141.1L199.8 139.5L201.0 140.4L201.7 140.9zM203.6 146.0L202.7 147.5L201.6 148.0L200.5 148.6L199.0 148.0L197.9 147.0L198.0 145.5L198.7 144.0L200.4 144.2L201.5 143.9L202.8 144.1zM229.0 106.2L228.9 107.5L227.2 108.8L225.6 108.3L224.6 107.3L222.9 107.1L223.9 105.4L223.8 103.9L225.3 103.6L226.6 103.7L228.7 104.7zM226.0 103.6L225.5 104.3L224.4 104.7L223.3 105.0L222.1 104.1L220.9 104.3L221.7 102.9L221.4 101.5L223.0 100.6L224.3 100.4L225.1 102.0zM224.1 102.4L224.1 104.5L222.7 104.5L221.5 105.3L219.3 105.2L218.0 103.5L219.1 101.6L219.7 100.6L220.9 99.5L222.9 99.2L224.7 100.5zM225.2 110.8L225.0 111.8L224.0 112.0L223.3 113.2L221.7 112.0L220.3 111.1L220.6 110.3L222.2 109.4L222.5 108.5L224.1 109.0L224.9 109.3zM228.8 107.4L229.1 108.9L227.7 109.3L226.4 109.0L225.7 108.8L224.3 107.5L225.1 106.5L225.5 106.0L226.6 104.3L227.9 104.4L228.6 106.2zM233.1 104.1L231.1 104.7L230.8 105.4L229.8 106.1L228.2 105.8L228.3 104.6L228.6 103.0L229.2 102.3L229.6 102.3L230.6 102.3L231.7 102.7zM223.8 109.9L224.3 110.8L223.2 112.4L221.7 112.4L220.7 111.4L219.0 111.0L219.1 108.5L220.6 108.8L221.1 106.8L222.9 107.0L224.5 107.9zM226.5 112.1L225.1 113.9L223.6 114.3L222.2 116.2L221.7 114.4L221.1 113.3L219.3 111.6L220.6 109.4L222.6 108.7L223.8 110.6L224.9 111.2zM227.6 110.1L226.9 111.3L226.6 113.1L224.6 112.7L222.3 112.6L223.1 111.2L222.6 110.0L223.0 107.7L224.5 107.9L225.4 108.1L227.3 108.7zM228.4 113.0L227.4 113.8L227.0 114.3L226.0 114.0L225.5 114.0L224.5 113.4L225.3 112.8L225.6 111.8L226.0 111.9L227.1 111.7L227.3 112.1zM226.6 109.1L225.8 109.7L225.1 110.2L224.0 111.2L223.2 110.3L223.1 109.1L223.3 108.0L223.6 107.2L224.5 106.7L225.3 107.6L225.7 107.9zM232.0 108.9L230.8 110.6L231.0 112.8L228.2 111.8L226.8 111.8L225.3 110.0L225.4 108.6L226.4 106.7L228.0 107.1L230.9 106.0L231.2 108.2zM232.5 111.6L232.2 112.8L231.2 114.4L230.0 114.4L228.2 113.5L227.9 112.6L227.5 111.4L228.1 109.5L229.9 109.3L230.9 110.4L231.3 111.1zM231.9 110.1L231.6 111.1L230.7 111.7L229.4 113.3L227.3 112.5L226.0 111.7L227.4 109.4L226.7 107.3L229.0 106.9L231.3 106.6L232.2 108.8zM234.7 113.3L234.0 115.2L232.8 115.0L231.4 115.0L230.3 114.9L229.4 114.1L229.4 112.2L229.6 110.2L231.4 110.3L232.7 111.0L234.9 111.9zM224.0 105.5L223.5 106.9L222.7 107.4L221.5 108.9L220.6 106.8L219.8 106.0L219.0 105.4L220.3 104.6L221.5 103.3L222.5 104.4L223.4 104.8zM227.6 109.7L227.2 111.2L225.8 111.7L225.1 112.1L222.7 112.3L223.0 110.9L223.1 109.3L223.2 108.3L224.5 108.0L225.8 107.2L228.0 108.0zM231.3 110.7L229.9 111.9L229.4 112.8L228.1 114.3L226.2 113.2L225.7 110.9L226.1 109.6L226.9 108.6L228.1 108.6L229.1 108.0L230.6 109.4zM233.1 107.9L233.9 110.6L232.5 110.9L229.5 112.1L228.9 111.4L228.1 109.4L228.1 107.2L229.6 106.7L230.4 106.0L231.5 106.3L232.8 107.3zM231.9 105.6L231.6 106.4L231.4 106.9L230.3 107.2L229.2 107.3L228.4 106.9L228.5 105.5L229.7 105.0L230.6 104.2L230.9 104.6L231.8 105.3zM234.9 108.3L235.4 110.7L233.1 110.3L232.0 111.0L231.6 110.1L230.2 109.7L230.2 108.0L230.5 105.9L232.1 105.2L233.8 106.4L235.4 106.2zM219.9 126.3L219.8 127.0L218.5 128.0L216.9 128.1L215.9 127.4L215.0 126.5L215.9 125.7L215.7 124.3L217.5 123.9L218.5 123.3L220.2 124.1zM219.6 122.3L220.2 124.7L218.4 125.9L217.1 125.8L215.0 124.7L213.9 122.4L212.8 121.5L213.8 119.0L217.0 118.2L218.9 118.0L219.2 119.9zM223.1 125.5L223.4 127.5L220.7 127.7L219.2 129.3L218.4 127.9L217.2 126.5L217.0 124.6L217.7 123.2L219.6 122.8L221.3 122.0L222.8 124.2zM223.1 121.2L223.6 123.6L223.0 124.3L220.6 124.3L219.7 123.1L218.6 121.6L219.1 120.8L220.1 119.6L221.2 118.0L221.6 119.3L223.0 119.7zM222.5 124.4L222.8 125.5L221.6 126.8L220.0 126.6L219.1 125.7L218.4 125.3L218.8 123.5L219.3 122.1L219.9 121.3L221.3 121.9L222.8 123.1zM225.2 121.5L224.3 123.1L223.1 124.0L221.8 124.3L220.1 124.4L218.9 122.6L219.4 121.2L219.9 119.8L222.2 118.7L223.4 119.6L224.8 120.5zM226.4 120.2L225.8 121.3L223.8 121.8L223.0 121.7L220.3 122.1L220.9 121.0L220.1 118.5L221.5 118.6L223.1 117.4L223.8 117.0L224.8 118.5zM227.1 122.0L225.7 124.5L224.1 125.2L222.7 124.9L220.5 125.6L220.9 123.5L220.1 121.8L221.3 121.2L222.6 120.7L223.8 119.4L225.5 121.1zM224.7 125.8L224.0 127.4L223.3 128.4L222.2 128.2L220.8 128.2L220.4 127.1L221.3 125.6L221.0 124.2L221.8 123.9L223.8 124.3L223.6 125.4zM224.0 124.3L224.2 125.8L223.2 125.7L222.1 126.4L221.7 125.5L220.9 125.1L220.6 124.1L221.3 123.5L222.2 123.1L223.0 122.6L223.6 123.9zM220.7 122.6L220.8 123.7L220.1 124.3L218.4 124.3L217.8 123.5L216.6 123.4L216.3 122.1L217.1 120.6L218.7 120.9L219.9 120.5L221.0 121.0zM219.2 119.7L218.9 120.7L218.4 121.3L216.9 121.4L215.6 121.5L215.6 120.4L215.8 119.1L215.9 117.6L216.8 118.3L217.8 117.9L218.4 118.9zM218.7 119.6L219.3 120.6L218.2 121.1L217.1 121.2L217.0 120.3L216.3 120.2L215.7 119.1L216.4 118.1L217.1 118.0L218.7 118.0L218.7 118.6zM221.1 118.9L222.0 121.1L220.2 122.0L218.4 121.8L217.0 121.3L217.0 119.5L216.8 118.7L217.3 116.5L219.2 116.9L219.9 116.6L221.8 117.5zM217.0 119.8L216.3 120.9L215.7 122.9L215.0 121.7L212.9 122.0L213.3 120.6L212.8 119.7L212.6 118.3L214.7 117.9L215.9 117.4L216.2 119.2zM225.6 141.8L226.0 143.4L224.9 144.4L223.5 144.1L221.4 144.5L220.8 143.4L221.3 141.2L221.2 139.8L222.7 138.0L224.6 139.8L227.1 140.1zM224.5 140.8L223.9 142.2L223.0 142.0L222.4 142.8L221.5 141.6L221.0 141.6L220.6 140.3L220.9 139.2L222.1 139.5L222.9 139.7L224.1 139.8zM223.4 144.6L224.1 145.9L223.1 146.6L221.8 146.1L220.3 147.1L219.6 145.0L219.8 144.2L220.5 143.3L221.7 143.2L223.3 142.5L224.1 143.1zM227.1 143.0L226.9 144.5L226.4 145.9L224.9 145.0L224.2 144.5L223.7 143.4L223.0 142.4L223.5 140.1L225.4 140.1L226.5 140.2L228.2 140.9zM223.4 141.9L222.9 142.8L222.0 143.3L220.6 144.8L219.7 144.3L219.6 142.2L219.7 141.8L219.9 140.6L220.5 139.4L222.4 139.8L223.4 140.6zM222.3 138.6L221.6 139.1L220.8 139.8L219.3 141.0L218.8 140.0L217.2 138.6L218.1 138.0L217.4 135.8L219.1 135.8L221.6 135.4L222.8 137.0zM223.6 139.6L222.4 140.6L221.2 141.5L219.2 142.8L219.0 141.6L218.3 140.3L216.7 139.3L217.7 137.6L220.1 137.2L221.1 138.3L221.6 138.6zM222.5 135.7L221.3 136.7L220.8 137.3L219.8 138.9L219.0 137.2L218.1 136.4L217.5 135.6L218.5 134.7L219.5 134.3L221.1 133.7L221.4 135.1zM226.4 134.9L225.8 137.2L224.8 137.0L223.0 136.6L220.8 136.6L219.4 136.1L220.5 134.1L221.8 133.3L221.9 131.2L223.9 132.0L225.2 132.6zM222.7 135.0L221.8 136.0L221.3 137.5L220.2 136.6L218.2 137.0L217.8 136.3L218.0 134.6L218.8 133.6L219.8 133.5L221.4 132.9L222.0 133.9zM225.3 137.3L224.4 138.3L223.9 139.9L222.1 140.5L221.2 139.5L219.9 138.2L221.3 137.2L221.8 136.2L222.3 135.5L223.6 135.1L224.9 136.0zM222.8 135.4L222.6 136.4L220.6 137.4L219.5 137.8L218.1 137.2L217.1 136.5L216.7 134.3L217.5 132.9L219.1 132.5L221.2 132.9L221.7 134.2zM222.1 134.7L223.0 136.4L221.7 138.0L219.2 137.0L218.5 136.8L218.2 135.1L217.5 134.1L218.7 133.3L219.8 131.5L220.8 132.4L221.9 134.0zM222.0 137.7L223.2 139.0L221.1 140.5L219.4 140.4L218.5 140.0L217.3 138.1L216.8 136.0L218.6 135.8L219.3 135.2L221.2 135.8L222.2 136.3zM222.9 134.9L223.3 137.5L221.5 137.7L219.4 138.4L218.2 136.9L217.6 135.7L218.2 135.1L218.1 132.6L219.1 131.6L221.2 132.4L222.5 133.5zM222.6 135.6L222.2 137.1L221.1 137.1L220.5 137.7L219.1 137.4L218.3 136.8L218.5 134.6L219.7 134.9L220.4 134.1L221.0 134.5L221.5 134.9zM234.0 149.3L234.0 150.6L233.0 151.7L231.0 151.9L230.6 150.8L230.5 150.0L229.6 149.2L231.0 149.0L231.5 147.7L232.5 148.5L233.1 148.8zM232.5 150.7L232.5 151.3L231.8 151.8L231.5 152.3L229.8 151.9L230.0 151.2L230.1 150.5L230.2 149.4L231.0 148.7L232.3 149.3L232.6 149.8zM233.0 151.3L232.7 152.6L232.3 152.9L230.9 153.5L229.9 152.7L229.3 151.8L229.9 151.0L229.6 149.9L231.2 149.5L232.6 149.1L232.8 149.7zM237.4 152.9L237.3 153.7L236.6 154.6L235.4 153.8L234.0 154.5L233.5 153.3L234.2 152.0L234.5 151.2L234.9 150.7L236.1 150.2L236.7 151.7zM242.3 151.5L241.1 153.4L239.6 153.7L238.1 155.4L236.3 154.9L236.0 152.8L236.2 150.7L237.5 150.4L237.9 149.2L240.3 149.1L241.2 149.7zM236.6 148.4L235.8 149.0L235.3 150.0L234.2 150.0L233.2 149.9L231.8 148.8L231.9 147.7L233.3 147.2L234.2 145.5L235.1 146.5L236.9 147.3zM234.4 146.1L235.5 147.2L233.8 149.2L232.4 148.3L230.3 148.2L229.9 146.2L229.7 145.2L231.2 144.7L232.0 143.5L233.7 142.7L234.4 144.2zM236.1 147.5L236.1 148.2L235.3 148.2L234.5 148.3L233.9 148.9L232.9 148.1L233.4 146.9L233.6 146.2L234.4 146.1L235.7 145.4L235.6 146.8zM239.5 146.4L238.1 147.0L237.6 148.6L235.6 149.3L234.4 147.9L232.7 146.8L234.1 145.5L234.3 143.2L235.4 142.1L237.1 142.8L239.9 144.4zM234.5 145.9L234.3 147.6L234.9 149.6L231.7 150.0L230.3 148.0L228.7 146.4L229.9 145.0L231.3 144.1L232.4 144.0L235.0 142.6L235.3 144.3zM236.5 147.5L235.0 148.2L234.6 149.5L232.8 149.3L231.0 149.8L231.2 147.8L231.3 146.4L232.0 145.8L232.8 144.3L233.7 145.4L235.7 145.7zM240.0 149.6L239.9 151.7L239.3 153.1L236.8 153.8L235.5 152.5L233.7 151.7L235.8 149.0L236.3 147.9L237.1 147.0L238.6 147.9L239.5 148.1zM235.4 150.3L235.3 151.0L234.6 152.8L232.8 152.0L232.0 151.6L230.4 150.8L230.6 149.3L230.7 148.0L232.6 148.3L233.9 147.4L235.7 148.1zM234.9 148.4L234.7 149.6L233.4 149.8L232.4 150.3L231.6 150.5L231.5 148.9L230.8 147.4L231.6 147.2L232.9 146.7L233.6 147.2L234.3 147.3zM233.8 146.2L234.2 147.7L232.8 148.4L232.3 147.8L231.3 148.0L230.0 147.1L230.0 146.2L230.6 144.4L231.6 143.9L233.1 144.2L234.5 144.4zM232.9 146.5L232.6 147.4L232.1 149.9L230.1 149.7L227.1 149.5L227.4 147.3L227.9 145.7L229.0 144.8L230.1 144.1L231.6 144.5L232.9 144.1zM230.5 146.8L229.7 147.7L228.0 148.3L227.2 148.7L225.7 148.3L224.7 147.3L225.0 145.2L225.3 144.8L227.6 143.6L227.9 144.9L228.9 145.5zM233.3 147.2L231.7 147.3L231.1 148.2L230.1 149.4L228.8 148.6L227.7 147.2L228.4 145.9L229.0 145.6L229.6 143.3L230.9 144.0L232.1 145.4zM240.8 149.8L239.3 151.2L238.9 151.9L237.2 153.1L236.2 151.8L234.6 151.3L234.5 148.6L235.7 148.4L237.8 148.3L238.4 148.5L240.3 148.4zM242.2 145.9L242.2 146.4L241.5 146.9L239.8 147.9L239.5 147.5L238.9 146.1L239.0 145.3L238.7 144.0L240.5 143.3L242.3 142.6L242.8 144.7zM239.0 143.9L239.3 145.8L238.2 145.6L236.8 147.1L235.5 145.6L234.8 145.2L234.2 143.2L235.5 142.1L236.4 141.5L237.7 142.3L239.5 142.7zM65.8 183.6L65.2 185.0L64.1 185.3L62.7 186.4L62.3 185.5L61.4 184.4L60.8 183.4L62.1 182.3L62.8 181.7L63.8 182.5L64.6 182.8zM67.3 182.1L66.8 182.8L66.0 183.4L64.3 185.0L63.3 183.8L61.6 182.1L62.3 181.0L63.7 179.5L64.7 178.7L66.5 179.0L68.3 180.0zM63.3 183.3L63.4 184.8L62.7 184.8L61.7 185.3L60.5 185.5L60.4 184.3L60.1 182.7L60.4 181.3L62.0 181.3L62.6 182.1L63.7 182.2zM66.8 187.3L67.3 188.4L66.2 188.8L64.9 189.9L64.2 188.9L63.6 188.1L63.2 187.0L64.4 186.1L64.8 185.1L65.8 186.3L67.5 186.4zM69.8 187.6L68.7 188.6L68.3 189.3L67.3 189.6L66.0 189.8L65.9 187.7L66.3 186.9L66.6 185.9L67.2 185.3L67.8 186.2L69.0 186.7zM72.0 187.4L71.5 188.8L70.5 188.7L70.0 189.0L69.2 188.5L68.9 187.7L68.4 186.9L68.7 185.9L69.7 186.3L70.6 185.1L71.4 186.6zM73.2 187.9L73.2 188.8L72.0 188.6L71.5 188.8L70.7 189.0L70.6 188.0L69.7 187.1L70.3 186.5L71.3 186.1L72.3 186.2L73.0 186.3zM73.6 188.0L73.7 188.5L72.6 190.5L71.0 189.9L70.5 189.0L68.9 188.7L69.2 187.0L69.7 186.0L71.6 185.9L72.3 186.3L74.3 186.6zM73.2 187.0L72.4 187.3L71.7 188.1L71.3 189.1L69.8 188.5L68.8 187.1L69.9 186.3L69.4 185.0L71.2 185.1L72.1 185.4L73.2 185.6zM73.1 187.3L73.9 188.6L72.5 188.9L71.2 189.7L70.5 189.2L69.7 188.0L69.3 187.0L70.6 186.5L71.3 184.6L72.4 185.7L72.8 186.9zM69.2 187.0L68.3 187.8L67.6 188.8L66.7 188.6L65.6 188.7L66.0 187.5L65.5 187.1L66.2 185.9L67.2 186.2L67.6 185.7L68.6 186.5zM72.2 187.6L72.6 188.4L71.9 190.0L70.6 189.8L68.9 189.6L69.4 188.2L69.5 187.3L70.0 186.6L70.8 185.6L71.5 185.6L72.6 186.1zM71.5 184.0L70.8 184.6L70.8 186.0L69.1 186.4L69.1 185.1L68.6 184.0L68.0 183.3L68.5 181.9L69.3 181.4L70.2 182.2L71.7 182.0zM72.2 187.3L72.9 188.5L72.2 188.8L71.3 188.4L70.2 189.1L69.3 188.2L69.9 187.2L70.3 186.0L71.2 185.7L72.1 185.6L72.6 186.3zM73.0 187.8L72.7 188.3L72.7 189.6L71.2 189.8L70.7 189.2L70.4 188.2L70.5 187.4L70.8 186.6L71.4 185.7L72.2 186.7L73.4 186.5zM89.6 202.5L90.3 203.9L88.9 204.4L88.2 204.6L86.9 203.8L86.9 203.1L87.0 202.3L87.5 201.3L88.2 200.9L88.8 201.2L89.6 202.1zM93.9 200.1L92.8 201.4L92.0 202.3L91.3 202.3L90.1 201.5L89.1 200.7L89.1 200.0L90.3 199.2L91.3 199.1L92.0 198.9L92.6 199.6zM90.5 199.9L91.1 202.0L90.6 202.5L88.5 202.0L85.9 201.8L84.9 200.9L86.2 199.4L86.5 197.4L88.4 197.3L90.4 197.2L90.9 198.0zM92.8 195.6L92.0 197.4L90.5 199.1L88.2 198.9L87.5 198.2L86.1 197.0L85.4 195.1L87.8 194.4L88.5 192.7L90.1 193.2L92.5 193.8zM90.0 196.8L89.6 198.3L87.2 199.1L85.7 199.8L85.4 198.9L84.2 197.7L82.7 196.0L85.1 195.1L86.2 194.8L87.7 194.5L89.5 195.2zM91.6 199.9L91.7 201.2L90.9 202.6L89.2 202.8L88.1 202.1L87.6 200.3L87.5 198.7L88.1 198.3L89.0 197.3L90.7 198.2L91.2 199.1zM91.1 200.1L90.1 201.1L89.0 201.7L88.4 201.7L87.1 201.8L87.5 200.4L86.2 200.0L87.3 199.2L88.4 199.1L89.4 198.9L89.9 199.6zM86.7 202.9L86.6 204.6L85.7 205.9L84.3 206.2L83.1 204.9L81.9 204.4L82.8 202.4L83.5 201.7L83.9 201.1L85.5 201.5L87.5 201.3zM90.4 201.5L88.7 202.3L88.7 204.0L86.4 203.5L85.5 203.4L85.0 201.0L84.4 199.6L85.4 198.9L86.3 198.3L88.1 197.7L89.7 198.6zM85.5 203.7L86.7 204.8L85.6 206.1L84.1 206.1L82.5 204.9L82.1 203.8L81.6 203.0L82.7 202.1L84.0 200.6L85.1 202.1L85.9 202.2zM89.1 204.0L89.2 205.6L88.0 206.2L86.7 206.3L85.9 206.0L85.1 205.0L85.4 203.5L85.2 202.7L86.7 202.9L88.1 201.8L89.1 202.9zM90.2 205.8L90.2 206.8L89.3 209.0L87.5 208.6L87.0 207.6L85.3 206.8L86.8 205.2L87.4 204.6L88.1 203.4L88.8 204.4L90.3 205.0zM89.4 196.7L89.5 197.3L89.0 198.6L87.6 198.2L87.0 198.0L86.1 197.4L86.4 196.2L86.9 194.9L87.7 194.7L89.0 195.0L90.3 195.7zM90.0 197.6L89.6 198.3L89.7 199.8L87.5 199.7L86.6 198.8L86.7 197.7L86.7 196.9L86.6 195.5L88.1 194.1L89.0 195.2L90.0 195.8zM94.7 200.9L92.5 202.0L91.8 202.3L90.7 203.9L88.5 202.8L87.9 201.5L87.3 198.7L87.6 197.9L90.4 198.2L91.7 197.7L93.3 198.9zM91.8 198.3L92.0 199.7L90.3 201.1L88.6 200.6L87.4 200.7L87.2 198.8L87.0 197.6L87.9 196.0L89.0 195.5L90.1 196.0L91.2 197.6zM94.0 197.7L93.1 198.8L91.9 199.7L90.5 200.5L89.8 198.8L88.6 197.9L88.6 196.3L89.1 195.3L90.6 195.2L92.3 195.0L92.6 196.5zM92.6 201.5L91.5 203.3L90.6 204.4L89.9 205.4L88.1 203.4L88.2 202.7L87.5 201.3L88.4 199.3L89.4 198.5L90.6 200.1L93.2 200.5zM81.5 205.0L82.0 205.7L80.1 206.0L79.0 206.5L78.1 206.9L77.6 205.5L77.7 203.8L78.7 203.1L79.3 202.6L80.8 202.0L81.2 203.1zM80.0 208.5L80.4 209.0L79.8 210.0L79.0 210.1L77.6 209.7L77.8 208.8L78.0 207.9L78.2 207.3L78.7 207.4L79.9 206.8L80.7 207.0zM82.0 207.7L81.8 209.1L79.7 209.4L79.0 210.6L77.3 209.5L76.6 208.7L76.9 206.7L77.7 205.9L78.9 204.5L80.4 206.2L81.0 206.8zM84.0 208.1L83.5 208.7L83.3 209.7L82.5 210.0L81.8 209.1L81.2 208.8L81.3 207.7L81.0 206.9L82.5 206.9L83.3 206.6L84.1 207.3zM88.4 204.9L88.4 205.7L86.6 205.8L86.0 206.3L84.8 206.3L84.2 204.9L84.2 204.2L84.7 202.4L85.9 203.1L87.2 202.4L87.5 204.0zM87.7 201.0L87.2 203.9L86.0 204.5L83.3 204.9L81.7 204.6L82.2 201.6L81.5 200.9L82.7 199.1L84.0 197.9L84.9 199.2L87.3 198.6zM88.6 201.8L88.1 202.3L87.0 203.3L86.2 203.1L85.6 203.2L85.2 202.0L83.8 200.9L85.3 199.8L86.6 199.2L87.6 199.5L88.2 200.3zM89.1 198.6L89.2 199.5L88.8 200.6L87.3 199.6L86.3 199.8L85.4 198.9L85.4 197.9L86.6 197.4L87.4 196.6L88.6 196.9L89.3 197.7zM92.7 198.6L91.5 199.2L90.6 199.8L89.4 201.3L88.0 200.0L88.1 199.2L87.4 197.3L88.1 196.4L89.3 196.2L90.5 196.9L92.0 197.4zM93.5 199.7L93.4 200.8L92.1 201.1L91.0 202.1L90.8 201.3L90.4 200.4L90.1 199.5L90.4 198.5L91.3 198.1L92.3 198.2L92.9 199.4zM93.6 195.3L94.3 197.1L93.0 197.2L91.6 197.3L89.6 197.3L90.6 196.2L90.3 195.3L89.6 193.9L91.2 193.2L92.7 194.3L93.4 194.5zM93.3 199.3L93.5 200.7L92.7 201.4L91.9 200.7L91.1 200.2L90.3 199.6L90.9 198.8L91.2 198.1L92.1 198.3L92.6 198.2L93.2 198.5zM92.7 199.0L91.7 199.8L90.8 202.5L89.7 202.4L87.5 200.8L86.1 199.6L86.2 197.4L87.3 196.4L89.0 196.1L91.9 195.7L91.7 197.9zM93.8 199.7L93.3 202.2L91.0 202.7L90.1 203.7L88.6 201.5L87.5 201.4L86.6 199.3L88.2 198.5L90.1 196.9L91.5 197.9L92.5 198.1zM95.5 197.4L94.5 198.6L94.2 200.0L92.4 200.0L91.0 199.1L90.0 198.2L90.3 196.5L91.1 195.1L92.6 194.0L94.5 194.2L94.2 196.4zM86.5 197.3L86.4 198.2L85.9 198.8L84.5 198.8L84.0 198.4L83.5 197.9L82.4 196.7L83.6 196.0L84.8 195.3L85.8 195.3L86.2 196.4zM84.1 193.4L84.3 194.5L82.7 195.5L81.9 195.6L81.3 194.4L80.7 193.9L80.5 192.5L80.9 191.3L82.0 191.4L82.9 190.7L84.3 192.3zM88.7 196.0L87.5 197.5L86.2 197.8L85.6 198.0L84.0 198.1L83.7 197.0L83.9 195.4L83.6 193.9L85.3 194.0L86.8 193.7L87.6 195.1zM90.5 194.1L90.9 196.1L89.8 196.8L87.7 196.7L85.5 196.2L84.2 194.6L85.3 193.4L86.4 192.4L87.9 190.6L88.9 192.4L90.6 191.9zM89.0 197.0L88.8 197.8L88.2 200.3L86.3 199.8L85.4 198.4L84.3 197.5L83.4 195.3L84.3 193.8L87.2 194.5L87.9 194.8L90.1 194.2zM90.9 195.7L90.8 196.5L90.3 196.4L89.7 197.5L88.7 197.1L88.8 195.9L88.5 195.3L88.8 194.3L89.4 194.2L90.7 193.9L91.1 194.6zM93.1 194.1L93.2 194.8L92.5 196.1L91.6 196.6L89.9 196.6L89.5 194.8L90.0 193.3L90.7 192.4L91.6 191.3L92.9 191.6L93.1 192.6zM97.2 196.5L96.5 197.4L95.6 198.4L95.0 198.1L94.1 198.4L94.0 197.1L93.7 196.3L94.3 196.0L95.0 194.7L95.4 195.6L96.7 195.3zM108.0 229.5L106.0 231.1L105.1 231.6L104.2 233.9L102.6 231.9L100.7 230.9L100.8 229.3L102.8 228.0L103.6 227.5L104.9 228.1L106.4 228.6zM106.5 234.3L105.4 235.7L105.0 237.9L103.3 238.0L101.1 236.1L100.0 235.1L100.0 233.4L99.9 231.5L102.6 231.5L104.0 231.6L104.9 233.4zM104.9 232.5L104.2 233.4L102.9 234.4L101.8 233.8L101.1 233.6L99.3 233.4L100.7 231.9L100.6 229.6L102.0 228.8L103.9 229.2L104.5 230.9zM110.0 234.8L108.7 235.3L108.1 237.5L105.8 237.6L104.2 236.4L104.0 235.4L103.4 233.9L105.4 232.4L105.9 231.2L107.7 232.2L108.6 233.6zM104.4 219.9L104.2 220.8L103.6 221.8L102.8 222.0L101.8 221.3L100.3 220.2L101.3 219.0L101.2 218.4L102.7 217.8L103.5 217.7L104.5 218.9zM107.3 218.6L106.5 219.2L105.7 219.4L105.2 219.8L104.2 219.3L103.6 218.6L103.3 217.7L104.3 217.3L105.1 217.2L105.9 216.9L106.7 217.8zM104.9 231.1L104.7 231.9L103.9 232.1L103.0 232.8L102.0 233.0L101.8 231.6L101.5 230.5L102.2 230.2L103.1 230.0L104.1 229.6L104.6 230.1zM101.2 233.6L101.6 234.2L100.0 234.9L99.6 234.6L98.2 234.6L98.3 233.9L98.4 233.1L98.8 232.3L99.3 231.5L100.2 232.4L100.4 232.6zM97.4 234.8L97.1 235.7L97.0 236.8L96.0 236.0L95.1 236.1L94.6 235.6L95.1 234.3L95.5 234.1L96.0 233.2L96.8 233.4L98.2 233.8zM98.4 237.1L97.9 239.0L96.3 239.2L95.1 238.9L93.3 239.3L92.7 237.6L93.0 236.1L93.7 234.6L95.2 234.9L96.5 233.6L97.7 235.6zM96.8 235.6L96.5 236.4L95.3 237.2L94.7 237.0L94.2 236.5L93.3 236.3L93.2 235.0L93.8 234.1L94.4 234.0L95.3 234.6L96.1 234.4zM100.0 237.2L99.4 237.9L98.0 238.8L96.7 240.4L95.2 239.0L94.5 238.1L94.2 235.5L96.4 235.2L96.8 233.8L98.3 234.1L99.1 236.0zM103.3 234.6L103.3 236.8L101.0 236.7L99.7 237.3L99.2 236.1L98.6 235.2L97.7 234.2L98.4 231.6L99.5 231.0L102.0 231.7L103.5 232.7zM99.8 236.2L99.7 237.1L98.9 237.7L97.1 237.6L96.7 237.3L94.9 236.8L95.7 234.9L96.1 233.2L97.5 233.1L98.5 233.4L98.8 235.0zM96.9 236.5L97.6 237.4L96.5 237.7L94.9 238.0L94.3 237.5L93.9 237.0L93.1 235.9L94.3 235.2L95.2 234.1L96.2 234.9L97.6 235.1zM98.4 231.7L97.8 233.9L96.9 234.8L95.4 234.0L94.6 233.2L94.4 232.2L92.9 231.8L94.9 230.4L95.4 230.3L97.3 229.5L98.2 230.5zM95.3 231.8L95.0 232.6L94.1 232.8L92.6 234.1L92.4 233.0L90.9 232.1L92.1 231.3L91.5 229.7L92.9 230.0L94.0 229.8L94.5 230.8zM98.2 233.3L98.4 234.9L97.0 236.9L94.6 237.3L92.9 235.1L93.3 233.8L92.3 232.5L92.6 231.0L95.3 231.0L96.0 231.1L97.3 231.0zM97.6 230.7L97.5 231.7L96.6 232.4L95.7 232.7L94.8 231.6L94.8 231.0L93.9 230.2L95.2 229.8L95.5 229.0L96.6 229.4L97.2 229.8zM100.1 226.7L100.3 227.8L99.0 227.7L98.7 227.8L97.5 227.6L96.5 226.9L96.9 226.4L97.6 224.9L98.6 225.4L99.7 224.4L100.3 225.6zM102.4 228.7L102.2 229.7L100.6 231.1L99.6 230.3L98.5 229.6L98.4 228.6L96.9 227.7L98.3 225.7L99.0 225.6L101.0 226.6L101.0 227.4zM102.8 227.6L101.3 229.4L99.4 230.6L98.6 231.6L96.2 229.7L94.7 228.8L95.1 226.8L96.5 225.5L97.9 224.3L99.9 225.4L102.0 225.6zM95.6 229.2L96.4 229.9L95.4 231.3L94.1 230.2L93.1 230.9L92.5 229.8L93.1 228.4L92.9 227.2L93.8 226.4L94.7 227.8L96.3 228.0zM98.5 231.4L98.3 232.9L96.8 233.7L94.7 234.3L94.1 233.7L93.5 232.0L93.7 230.9L93.8 228.6L95.0 228.4L96.2 229.2L97.9 229.7zM96.0 229.8L96.2 231.7L94.9 233.8L93.3 233.4L90.3 233.2L91.3 230.5L90.8 229.3L91.3 228.6L92.6 226.9L94.2 227.2L94.7 228.9zM98.9 231.6L98.9 232.8L97.5 233.9L96.4 233.2L95.1 233.6L94.8 232.1L95.0 231.2L95.2 229.9L96.6 229.5L97.6 229.7L98.5 230.1zM97.6 230.8L96.3 232.3L95.3 233.8L94.4 234.8L92.0 233.1L91.6 231.7L91.9 230.6L92.1 229.0L93.4 227.5L95.5 228.9L96.9 228.9zM101.4 228.4L99.8 228.8L99.8 229.5L98.8 229.5L97.5 229.1L96.6 229.0L96.8 227.7L97.6 226.6L98.4 226.1L99.2 226.5L101.2 227.0zM103.0 226.0L102.1 227.0L101.9 229.0L99.4 228.9L97.3 227.9L96.6 227.3L96.9 224.3L98.2 222.8L99.7 223.1L100.8 222.4L102.6 224.6zM104.3 223.8L103.1 224.4L102.4 225.6L100.8 224.9L100.2 224.7L98.8 224.4L99.7 223.0L99.2 221.2L100.6 221.2L101.8 221.7L103.0 221.8zM100.7 223.9L100.6 225.1L100.2 226.2L98.9 226.4L97.6 225.2L96.0 224.6L96.4 223.9L97.7 222.7L98.7 221.7L99.5 222.1L101.0 223.3zM103.4 232.4L104.0 234.2L103.1 234.6L101.2 234.1L100.3 233.8L99.3 233.0L100.3 231.9L100.7 231.4L101.5 229.7L102.4 230.7L103.8 231.4zM102.5 228.6L102.4 229.6L101.6 230.4L100.9 230.2L98.5 230.3L98.3 229.3L98.4 227.8L98.8 226.3L100.5 226.7L101.7 227.0L102.7 227.7zM100.6 226.2L99.2 226.6L99.2 228.0L97.9 228.2L97.0 226.8L95.9 226.6L96.5 225.4L96.7 223.9L97.4 223.7L98.5 224.8L99.5 224.9zM103.6 221.9L102.4 224.0L101.2 226.0L100.0 225.5L99.0 224.0L97.3 222.8L97.1 221.9L99.0 220.0L99.5 219.1L100.9 219.8L103.9 220.2zM107.7 186.4L108.8 188.5L107.5 188.9L106.0 189.5L103.3 189.0L103.1 187.7L102.4 186.0L104.0 184.9L104.9 183.3L107.9 183.4L107.9 185.5zM110.4 182.8L108.5 183.6L107.5 184.5L106.4 184.1L104.8 183.6L103.5 182.8L103.5 180.7L104.3 179.2L105.8 179.3L107.2 179.8L108.4 181.2zM111.7 179.6L111.7 180.9L111.6 182.8L108.6 182.3L107.5 182.0L106.0 179.6L107.2 178.2L108.2 177.0L109.8 175.5L110.8 176.7L113.6 177.2zM115.8 178.8L115.6 179.8L114.8 180.4L113.9 179.9L113.1 179.8L113.1 178.9L112.9 178.6L112.8 177.5L113.9 177.5L114.5 177.9L115.6 177.4zM114.4 175.8L115.2 177.2L113.9 177.4L112.7 177.9L111.4 178.0L111.4 176.4L110.8 174.8L111.8 174.0L112.7 172.7L113.9 173.0L114.4 175.0zM110.4 173.8L111.1 176.1L110.0 176.1L108.2 176.4L107.0 176.5L105.4 174.9L105.1 172.3L106.7 171.9L108.2 171.5L109.4 170.6L111.2 171.5zM110.7 174.3L110.3 175.5L108.9 176.3L108.5 175.4L107.2 175.4L107.0 174.9L107.5 173.7L107.5 172.7L108.1 172.4L108.8 173.3L110.1 172.7zM111.2 176.0L111.1 177.1L110.5 178.6L108.5 178.4L107.2 177.8L107.3 176.4L107.7 175.4L107.4 174.5L108.9 173.3L109.9 173.5L110.5 174.6zM115.2 173.8L113.3 174.7L112.7 175.5L111.3 176.1L110.5 176.3L108.8 174.6L108.6 173.4L109.5 171.8L111.7 171.8L113.6 171.2L114.3 172.0zM111.3 173.6L111.2 176.2L109.5 175.7L108.3 176.3L107.3 175.9L105.2 175.5L105.5 173.0L107.0 172.1L107.9 170.5L109.9 171.9L111.6 172.3zM111.1 174.5L110.7 175.0L110.0 176.3L108.7 176.1L107.8 176.0L106.1 174.8L107.7 173.6L108.0 173.1L108.5 171.7L109.9 172.8L110.6 173.2zM114.8 178.5L114.3 178.8L113.9 180.2L112.7 179.9L112.6 179.2L112.2 178.7L111.9 177.7L112.5 177.1L113.0 177.2L113.9 177.4L114.6 177.6zM117.6 179.2L117.8 179.7L117.2 181.1L116.5 180.4L115.6 180.1L115.0 179.8L114.8 178.5L115.8 178.2L116.5 177.2L117.5 177.3L118.2 178.1zM119.5 178.0L120.6 179.2L117.9 179.1L116.8 179.8L115.2 178.8L113.4 178.6L113.0 177.1L115.3 175.1L116.7 173.5L117.7 175.1L119.1 175.4zM118.4 174.7L118.1 177.0L116.9 178.5L114.7 178.1L114.6 176.8L112.0 177.0L112.8 173.8L112.9 172.7L115.0 171.9L116.7 171.8L117.6 173.8zM112.8 174.2L112.2 175.2L111.6 175.8L111.1 175.9L109.6 176.0L108.8 175.2L109.7 174.0L109.7 172.0L111.0 172.2L112.1 172.0L113.0 173.0zM113.1 173.7L113.3 174.3L112.2 174.8L111.3 175.0L110.2 175.4L109.7 173.8L109.0 172.8L110.7 172.4L111.1 172.1L112.4 172.4L112.6 172.8zM112.7 173.9L112.5 175.6L111.5 176.0L110.7 175.7L108.9 176.2L108.6 174.7L109.4 173.8L109.8 172.6L110.8 171.9L111.2 172.2L111.9 173.2zM115.4 176.0L115.8 177.4L114.9 178.5L114.1 177.7L113.1 177.5L112.3 176.8L112.7 175.7L113.0 175.0L113.9 174.8L114.8 174.8L115.5 175.3zM114.0 173.6L113.6 174.2L112.9 175.8L111.5 176.2L110.5 175.8L110.1 173.9L110.3 172.6L110.2 171.9L111.5 171.2L112.8 171.5L114.5 171.8zM109.4 174.5L109.4 175.5L108.7 175.7L107.6 176.1L106.9 176.0L106.5 175.1L107.1 174.5L106.8 173.1L108.0 173.4L109.2 173.1L109.9 173.8zM108.1 177.7L108.4 180.0L107.7 181.2L105.0 180.7L102.8 180.4L103.2 178.8L103.0 177.4L103.7 176.0L105.7 174.6L107.0 176.1L109.2 176.3zM110.8 177.0L111.4 178.6L109.2 179.7L107.6 179.8L106.6 178.2L105.9 177.3L105.8 176.2L107.1 175.5L107.4 174.1L110.0 174.5L110.0 176.0zM108.6 181.2L107.7 182.7L107.1 183.1L105.8 182.5L104.3 182.8L104.2 181.5L103.1 180.6L104.6 179.9L104.8 177.9L106.2 178.9L107.2 180.0zM110.0 182.9L109.3 183.7L108.6 184.3L108.4 184.3L107.5 183.7L106.3 183.5L106.1 182.8L106.6 181.7L108.3 181.0L109.0 181.6L110.1 182.2zM114.2 180.5L113.1 182.0L112.4 181.9L111.2 183.0L110.7 182.3L109.5 181.3L109.7 180.2L110.1 179.4L111.3 179.2L112.7 179.1L113.4 179.2zM115.0 177.4L114.1 178.9L112.8 179.9L112.1 182.1L109.9 181.1L108.9 179.3L109.4 176.6L110.4 175.2L111.0 173.8L114.3 174.6L114.2 176.6zM117.6 175.0L117.0 176.1L115.6 176.0L114.7 176.8L114.1 175.9L112.2 175.3L113.6 174.1L113.0 173.0L115.0 172.4L115.7 171.9L116.6 173.4zM114.5 180.6L113.7 182.8L111.8 183.9L109.7 184.4L107.7 182.9L108.3 180.9L106.7 179.1L109.0 178.7L110.3 177.0L112.4 177.8L113.8 177.7zM113.2 179.3L113.0 180.4L112.2 180.5L111.3 181.3L110.8 180.1L110.2 179.9L109.4 178.5L110.3 178.2L111.4 177.2L112.0 178.4L112.7 178.2zM115.4 180.5L113.7 181.7L113.0 182.0L112.2 182.6L110.9 181.8L109.0 181.7L110.3 179.7L110.6 178.6L112.0 177.9L113.1 178.9L114.8 179.5zM111.6 183.1L111.7 184.6L110.9 185.0L109.9 186.4L108.7 185.4L107.8 183.7L107.9 182.8L108.9 181.6L109.7 182.0L110.9 181.0L111.5 182.3zM105.6 168.2L105.4 169.7L104.4 169.3L103.5 170.2L102.4 169.6L102.9 168.6L103.0 168.1L102.7 167.1L103.3 166.6L104.4 167.3L105.4 167.4zM101.2 170.5L101.4 171.2L100.3 172.1L99.7 172.6L99.2 171.2L98.7 170.5L98.3 169.9L99.1 169.5L99.6 169.0L100.5 168.7L100.6 169.7zM105.0 170.5L103.7 171.4L103.1 172.3L102.2 171.8L101.6 171.7L100.3 171.3L100.6 170.1L101.5 169.9L102.0 168.9L103.1 168.5L104.6 169.6zM104.9 170.6L104.4 171.3L103.9 172.7L103.2 172.0L102.4 171.9L101.3 171.0L101.5 169.8L102.4 169.5L103.3 169.1L103.6 169.6L104.5 169.9zM106.7 167.9L106.5 169.3L105.3 169.2L104.4 170.1L104.1 169.3L103.0 168.9L103.2 167.7L103.4 166.6L104.7 166.1L105.3 167.2L106.2 167.4zM108.5 167.2L108.4 168.1L107.1 169.2L106.3 169.4L105.9 168.2L104.5 168.0L105.4 166.6L104.9 165.5L106.2 165.1L107.6 165.5L107.7 166.1zM109.4 167.1L109.4 168.6L108.1 168.9L107.2 169.9L106.3 168.6L105.6 167.9L106.3 167.1L106.1 166.1L107.4 166.2L108.5 165.4L108.4 166.6zM106.0 167.5L105.8 168.4L105.1 168.7L104.5 169.4L103.3 168.7L103.6 167.8L102.7 167.1L103.0 166.3L104.2 165.4L104.9 166.4L105.5 166.9zM101.2 169.3L101.7 170.3L100.8 170.7L100.1 170.6L99.4 170.7L99.2 169.8L99.1 169.0L98.9 168.2L100.0 168.0L100.7 168.4L101.3 168.9zM125.5 198.9L124.0 200.2L123.6 201.7L122.4 200.7L121.2 201.7L120.4 199.7L120.6 198.1L120.3 197.0L122.4 197.3L123.6 196.2L124.2 198.2zM125.5 196.8L125.6 197.8L125.3 198.6L123.9 198.7L123.6 197.8L122.8 197.1L122.5 196.3L123.3 196.2L124.0 195.1L125.1 195.2L125.3 196.1zM128.3 188.9L128.7 190.0L127.9 190.6L127.1 191.0L126.6 189.8L126.0 189.7L126.1 188.8L126.0 187.6L127.3 188.1L127.7 188.2L129.1 188.2zM130.5 191.9L130.3 193.1L129.4 193.4L128.9 193.9L127.1 193.9L126.7 192.6L127.2 191.5L127.9 191.0L128.7 190.7L129.4 190.8L130.2 191.5zM128.4 189.0L128.5 189.9L127.6 191.8L126.8 190.7L125.5 191.3L125.0 189.9L124.6 188.9L125.6 187.8L126.4 187.4L128.0 187.7L128.3 188.5zM129.4 188.6L130.6 190.7L127.9 190.9L126.2 192.0L125.6 190.2L124.3 189.6L124.8 187.5L125.4 186.6L127.0 186.5L127.9 185.5L130.2 187.2zM128.1 190.7L127.5 191.1L126.9 191.5L126.2 191.9L125.5 192.2L124.3 190.6L124.5 190.0L125.2 188.8L126.4 189.0L127.1 188.5L128.0 189.8zM132.4 190.0L131.0 192.0L130.1 192.4L128.4 193.7L126.0 192.8L126.1 191.1L126.5 189.1L126.9 187.7L128.3 188.2L130.1 187.8L131.7 188.7zM129.2 189.1L129.2 189.9L128.4 191.7L127.7 191.2L126.8 190.7L125.3 190.3L125.5 188.9L126.2 188.0L127.2 186.8L128.2 187.7L129.7 188.2zM127.6 193.4L128.1 194.8L126.9 195.8L126.1 195.0L125.3 194.7L124.8 194.3L124.9 193.1L125.2 192.6L125.9 192.6L126.9 192.3L127.6 192.5zM124.1 195.9L124.1 197.3L123.2 197.3L122.2 198.9L121.0 197.3L118.6 196.6L118.4 194.5L121.0 193.6L122.0 192.8L123.4 193.7L125.2 193.9zM125.6 191.6L124.7 192.7L124.4 194.2L122.5 192.9L120.3 193.2L119.4 192.6L120.9 190.5L120.9 188.6L122.5 188.3L123.5 188.9L124.4 189.5zM119.9 193.5L119.3 195.2L118.4 195.8L116.4 195.4L115.2 195.2L114.3 194.2L113.9 192.4L115.5 191.3L116.2 190.7L118.1 190.8L118.3 192.2zM123.2 197.3L123.1 198.1L121.4 199.1L120.5 199.1L119.1 198.6L118.8 197.2L119.6 196.4L119.9 195.7L120.7 195.3L121.8 195.5L122.5 195.6zM118.3 200.4L118.5 201.2L117.4 201.5L116.4 201.2L115.6 201.9L115.0 200.7L115.4 199.7L115.5 199.0L116.3 198.8L117.0 199.4L118.2 199.0zM121.2 201.1L121.2 202.1L120.7 202.7L119.6 203.2L119.0 202.8L118.9 201.4L118.4 200.9L119.0 199.6L120.0 199.9L120.9 200.0L121.1 200.3zM126.1 200.2L125.8 201.0L125.3 201.4L123.9 202.2L122.7 201.7L123.0 200.2L123.0 199.4L122.9 197.7L124.6 197.6L125.8 197.5L126.4 198.6zM127.7 197.6L126.3 199.1L126.6 200.3L124.5 199.4L122.9 199.4L122.3 198.0L122.8 197.1L123.2 195.0L124.3 196.0L125.8 195.9L126.9 196.6zM129.6 193.5L129.5 195.3L129.3 196.5L127.9 197.8L126.6 195.5L126.0 194.5L125.9 193.4L125.5 191.3L127.4 192.0L129.1 191.8L130.6 192.7zM124.6 189.9L124.9 190.7L124.3 191.4L122.9 191.2L122.2 191.1L121.7 190.4L122.1 189.3L122.3 188.5L123.2 188.3L123.9 188.6L124.9 188.9zM117.9 205.7L118.6 207.6L115.6 208.4L114.5 209.5L113.1 208.2L111.6 206.5L112.1 205.5L113.5 204.3L114.9 203.5L116.4 202.6L116.5 204.7zM118.7 206.6L117.9 207.3L117.1 208.0L116.6 207.9L115.3 207.7L115.3 207.2L114.8 206.0L115.9 205.4L116.6 205.0L117.1 205.5L117.8 206.0zM118.6 207.4L119.3 209.4L117.4 209.9L116.4 210.0L115.3 209.5L115.4 208.3L115.3 207.1L114.8 205.4L116.2 205.6L117.7 205.0L118.6 207.0zM121.5 206.2L123.0 209.0L120.4 208.3L119.0 208.2L117.9 208.4L117.5 206.7L115.5 204.7L117.4 203.6L118.9 203.1L120.7 202.0L123.2 204.1zM125.6 203.5L125.8 205.5L123.7 206.4L122.3 206.3L121.9 205.7L120.6 204.4L120.2 202.8L120.4 201.5L122.9 201.1L123.5 201.6L124.9 202.5zM124.3 199.7L125.2 200.7L124.1 201.0L122.9 201.5L121.9 200.9L121.9 200.1L121.3 199.5L122.3 199.0L123.1 198.1L123.8 198.5L124.4 199.1zM124.5 199.5L125.9 201.3L124.4 202.5L121.9 202.7L121.9 200.8L120.9 200.3L121.0 198.6L122.0 198.2L122.3 196.0L124.7 196.5L125.0 198.5zM124.2 200.0L124.0 201.1L123.6 201.9L122.2 201.6L121.7 201.0L121.3 200.9L120.6 199.3L120.9 198.9L122.3 198.7L123.6 198.1L123.6 199.6zM126.9 202.0L127.0 202.3L126.5 203.4L125.2 203.9L124.8 203.5L123.7 202.8L124.7 201.2L124.8 200.5L125.4 199.9L126.8 200.3L127.9 200.8zM127.8 205.0L128.1 206.9L126.7 206.4L125.4 207.8L124.7 207.4L124.0 206.2L125.0 204.8L125.4 204.2L126.1 203.9L126.6 203.8L127.5 204.8zM130.8 205.8L131.0 207.2L130.1 208.0L128.0 207.5L125.9 207.8L125.4 207.1L125.3 205.0L125.9 203.4L127.8 203.6L129.1 204.1L131.5 204.3zM131.8 207.4L129.5 208.2L129.1 208.6L128.0 209.3L127.1 208.3L125.9 207.6L125.0 205.8L126.4 204.5L126.9 203.5L129.2 204.8L131.3 205.0zM129.5 206.6L128.9 208.5L127.9 208.8L127.0 208.8L126.2 208.1L125.2 207.5L123.8 206.1L125.7 205.6L126.8 205.0L128.4 204.8L128.7 205.4zM128.0 206.5L127.3 209.5L125.6 209.6L124.0 210.7L122.0 209.4L120.4 208.2L121.6 206.4L121.7 204.7L123.9 205.3L125.4 205.1L125.6 206.1zM124.8 206.6L124.6 207.9L123.2 208.3L122.0 210.1L121.6 208.2L120.1 207.9L119.8 205.8L121.3 205.3L122.3 205.0L123.6 204.9L125.8 205.3zM127.3 206.8L127.4 207.5L126.6 208.9L125.8 207.9L125.1 208.2L124.4 207.1L124.2 205.9L125.0 205.8L125.8 205.4L127.2 205.2L127.8 205.8zM166.6 200.9L164.9 201.6L164.7 203.1L163.1 204.2L161.4 203.5L160.9 201.2L159.9 199.8L161.0 198.5L162.7 197.3L164.5 198.4L165.6 199.5zM163.3 202.5L163.7 204.0L162.8 203.9L161.9 203.8L161.4 203.6L160.1 203.5L160.8 202.2L161.3 202.2L161.8 201.3L162.7 201.4L163.6 202.0zM162.4 201.4L161.9 202.9L160.5 203.9L159.6 204.6L158.4 203.4L158.2 202.0L157.8 201.5L159.0 200.8L160.1 199.7L160.7 200.6L162.2 200.4zM160.5 206.5L159.8 207.0L159.2 209.6L157.2 207.7L155.2 208.8L155.1 206.7L154.0 205.3L155.9 204.2L157.9 203.1L158.6 203.4L159.2 204.8zM163.3 209.0L164.0 210.2L162.5 211.2L161.5 211.3L159.2 211.6L159.1 209.2L159.2 208.2L159.9 206.4L160.9 205.7L162.4 207.0L163.9 207.6zM157.9 207.0L158.3 209.3L156.3 210.0L154.7 209.3L153.6 209.8L151.9 207.9L151.9 206.7L153.5 205.8L154.7 205.6L155.8 205.5L157.8 205.0zM160.9 206.1L160.6 207.2L160.1 208.3L159.0 208.1L158.1 207.6L157.4 207.1L157.0 205.3L158.2 204.5L159.3 204.1L159.9 204.1L161.4 205.2zM159.6 205.0L159.4 206.8L157.3 207.1L156.0 207.9L155.0 208.5L154.2 206.6L154.8 205.1L154.9 203.6L156.1 202.7L157.7 204.0L158.9 204.7zM162.0 203.2L162.0 205.1L160.3 205.3L159.2 206.4L158.5 204.9L157.8 203.7L157.1 202.1L157.6 201.7L159.3 200.0L160.0 201.5L162.3 201.7zM166.1 204.1L165.0 206.4L163.6 207.6L162.5 207.4L160.6 206.0L160.7 204.7L158.9 203.1L160.6 202.4L162.1 200.1L163.7 201.2L163.8 202.8zM161.6 207.7L161.4 209.0L161.0 211.4L158.2 211.4L157.2 210.5L156.2 208.4L155.8 206.5L157.7 205.0L158.9 204.6L160.5 203.6L161.3 206.5zM162.2 208.1L161.7 209.1L160.0 209.6L159.1 210.5L158.5 209.2L156.8 208.7L157.8 207.7L158.2 207.0L159.1 206.5L160.4 206.2L161.8 206.2zM158.0 204.2L156.8 205.4L156.5 206.6L154.9 205.8L154.1 205.9L152.6 205.6L153.9 204.0L153.3 202.6L155.5 202.1L156.8 201.8L157.7 203.0zM157.9 199.5L158.5 201.8L156.5 203.1L155.4 202.6L154.1 202.4L153.4 200.8L152.8 199.2L154.5 198.7L155.4 197.9L157.2 197.2L157.9 198.9zM156.5 202.2L156.3 203.9L154.7 205.9L153.3 205.0L152.3 203.9L151.1 203.2L151.4 202.5L151.2 199.5L153.3 200.7L154.3 201.0L155.6 200.9zM154.7 202.4L154.9 203.5L153.5 204.5L151.5 205.1L150.8 204.3L150.9 203.0L150.6 201.9L150.3 200.2L151.7 199.4L153.7 199.6L154.9 200.3zM156.0 199.2L154.9 200.8L153.9 202.0L152.9 201.9L152.2 201.5L151.5 200.3L150.9 199.5L151.3 197.2L153.1 198.1L154.0 197.4L155.2 198.6zM156.9 198.7L156.2 199.3L154.8 200.4L153.4 202.0L151.1 201.0L150.8 199.7L150.5 196.7L151.6 195.0L154.4 195.9L155.0 195.7L158.2 196.6zM154.0 205.1L154.0 205.7L153.8 207.2L152.7 207.0L151.4 207.0L151.2 205.7L150.7 204.7L151.7 204.1L152.9 203.8L153.4 203.4L153.8 204.2zM155.5 204.7L155.4 205.4L154.5 206.2L154.0 205.8L152.8 205.8L152.3 205.1L152.6 204.3L153.4 204.0L153.8 203.4L154.9 203.5L155.8 203.9zM158.4 208.0L157.8 208.7L157.5 209.8L156.6 209.8L155.1 209.3L154.4 209.1L154.4 207.5L155.7 207.0L156.2 206.6L157.2 206.9L157.5 207.2zM154.3 196.3L154.2 197.1L153.9 198.3L152.8 198.1L152.0 197.7L151.8 196.7L151.8 196.3L152.3 194.9L153.1 194.6L154.0 194.8L154.7 195.1zM159.1 196.8L160.0 198.5L158.0 199.0L156.2 199.2L155.9 198.4L154.2 197.9L153.8 196.2L155.9 195.1L156.9 193.8L158.5 193.8L159.1 195.1zM154.1 195.0L154.0 196.1L153.5 196.9L152.1 197.8L151.5 196.7L150.9 195.8L151.1 194.8L151.1 193.6L152.6 192.9L153.9 193.8L154.9 194.2zM158.0 194.5L158.9 195.6L156.9 196.1L155.8 196.9L154.2 197.3L153.8 195.7L154.2 193.6L154.8 192.7L155.7 192.2L157.8 192.1L159.3 192.9zM155.9 195.3L156.2 197.0L155.2 197.4L154.1 198.4L151.6 197.3L151.4 195.2L151.4 193.9L152.0 193.3L153.8 192.5L155.1 192.8L156.8 193.6zM157.6 198.4L157.2 199.3L157.2 200.0L156.0 200.2L155.0 200.0L154.8 199.1L154.8 198.1L155.5 197.5L156.3 196.8L157.6 196.5L158.3 197.5zM156.3 197.7L155.3 198.5L153.9 200.9L152.9 199.5L151.3 199.8L151.2 198.3L151.1 196.8L151.1 195.9L152.4 194.7L154.4 194.2L155.1 196.2zM157.2 201.5L156.2 202.8L154.9 203.0L153.8 203.7L152.9 203.0L151.8 202.1L151.8 200.0L152.3 199.1L154.1 198.6L155.3 199.0L156.4 199.2zM159.1 201.1L159.1 202.0L157.8 202.8L156.9 202.8L155.5 202.5L154.3 202.4L154.3 200.1L155.3 199.8L156.9 199.0L157.3 199.3L158.9 199.7zM158.6 203.8L156.7 205.0L156.6 206.9L154.3 206.7L153.6 205.9L153.0 204.8L153.6 203.7L154.1 202.9L154.9 201.0L156.1 202.1L156.5 203.1zM154.8 205.4L153.9 206.0L153.0 207.1L152.0 206.8L151.3 206.5L150.4 205.4L149.4 203.6L150.9 203.6L152.4 201.9L154.0 202.1L154.2 203.5zM153.7 203.3L152.2 204.5L151.5 206.2L150.6 206.3L149.1 204.7L148.2 204.5L147.8 203.0L149.1 202.3L150.2 200.0L151.8 200.2L152.8 201.7zM153.0 199.1L153.0 200.5L152.0 200.8L151.0 200.6L149.8 200.7L149.7 199.6L148.9 198.6L150.1 197.9L151.0 197.2L151.7 197.9L152.5 198.3zM151.4 197.3L151.7 198.1L150.3 198.4L149.6 199.2L148.4 198.9L148.3 197.3L147.7 196.5L148.3 195.6L149.2 195.6L150.5 195.7L151.7 196.0zM152.0 196.5L153.0 198.1L150.5 198.4L149.6 198.6L148.6 198.8L148.0 197.1L147.5 196.3L148.2 194.7L149.4 194.3L151.8 194.2L151.3 195.9zM181.7 178.1L182.2 180.0L181.3 181.4L179.6 181.5L178.4 179.7L177.8 178.7L177.3 177.2L178.4 176.0L179.8 176.4L181.3 175.4L183.3 177.0zM185.8 178.8L186.3 180.2L184.5 181.9L183.3 182.8L181.6 180.4L180.9 179.7L179.4 177.0L180.3 175.9L182.7 175.6L184.2 176.3L185.8 176.9zM187.7 183.3L187.7 183.7L187.1 185.2L186.6 185.2L185.2 185.3L185.5 183.5L184.7 182.5L184.7 181.4L186.6 180.6L187.3 180.8L187.9 182.1zM186.2 186.7L185.8 187.5L185.3 188.3L184.1 189.0L181.7 189.2L182.5 187.1L180.8 185.4L182.9 183.9L183.9 183.6L185.5 184.7L187.4 185.2zM190.0 184.6L189.1 185.9L188.2 187.0L186.5 187.7L185.6 185.9L184.1 185.6L185.4 184.6L184.9 182.8L186.3 182.3L187.4 183.1L189.6 183.5zM190.0 184.8L189.3 185.4L188.5 186.3L187.7 186.2L186.9 186.1L185.8 185.3L186.9 184.7L186.8 183.1L187.6 183.4L188.5 183.9L189.7 183.5zM190.2 188.6L189.6 191.7L188.5 192.6L186.2 193.1L185.2 191.1L182.5 189.8L183.4 188.2L184.1 185.6L186.0 186.5L188.3 186.1L188.6 188.2zM184.5 190.6L184.7 191.2L184.2 192.1L183.3 192.2L182.5 191.5L181.2 190.6L182.3 190.1L182.4 189.6L183.1 188.4L183.6 188.9L184.8 189.5zM184.7 187.8L184.5 188.9L183.2 190.4L181.9 190.9L179.9 190.3L179.6 188.2L178.7 186.7L180.4 185.3L181.7 183.4L183.9 184.9L184.5 186.0zM184.6 186.6L183.4 188.8L182.0 190.5L180.5 189.4L179.3 190.0L179.1 187.7L178.9 186.0L180.2 185.9L180.8 184.0L181.8 184.9L182.7 186.4zM178.9 185.7L179.6 187.0L178.2 187.3L177.3 187.7L176.4 187.4L175.2 186.4L174.6 184.7L176.2 184.5L177.1 183.5L178.6 183.0L179.6 184.3zM184.8 182.1L185.2 184.2L182.6 186.4L181.4 186.0L179.6 186.0L178.6 183.8L179.5 182.5L180.5 181.2L180.5 179.3L183.5 179.9L183.6 181.6zM180.4 185.8L180.3 186.5L179.8 188.0L179.0 188.2L177.5 187.7L177.3 186.0L177.5 185.1L177.5 184.1L178.6 183.7L179.8 184.0L180.1 185.0zM182.3 188.4L182.1 189.7L181.4 191.3L179.8 191.6L178.7 190.8L178.8 189.6L179.2 188.4L179.4 187.5L180.0 186.2L181.4 187.4L182.6 187.5zM183.0 187.2L182.5 187.8L182.0 189.1L181.0 188.3L180.3 188.7L179.3 187.3L179.3 186.7L180.2 185.9L180.9 185.5L182.0 185.1L182.3 186.4zM186.2 187.8L185.6 189.9L183.6 189.4L182.1 190.9L181.5 189.4L179.7 188.7L179.6 186.2L180.5 184.7L182.4 185.1L183.1 185.4L185.4 186.2zM185.4 187.3L185.4 188.9L184.5 189.1L184.0 189.4L183.0 188.6L181.8 188.3L181.9 187.0L183.0 186.2L183.8 186.0L185.0 185.6L185.2 186.6zM185.3 185.0L184.4 185.9L183.6 186.1L182.6 187.3L181.7 186.7L181.0 186.0L180.4 184.7L182.0 184.2L182.6 183.9L183.6 183.8L184.2 183.8zM184.0 180.0L183.7 181.5L182.3 181.5L181.5 182.1L180.5 180.7L179.5 180.7L179.6 179.4L180.4 178.8L181.2 178.4L183.1 177.1L184.2 178.2zM185.3 179.7L185.7 180.5L183.7 182.1L182.6 180.8L181.1 180.8L181.2 179.7L180.6 178.5L181.0 177.0L182.0 176.7L183.8 177.4L184.2 178.3zM187.2 180.2L188.6 181.6L186.2 182.6L185.6 182.3L184.5 181.4L182.5 181.5L182.9 179.3L184.0 178.7L185.1 178.7L186.7 178.8L186.9 179.5zM189.2 183.2L189.7 184.3L188.1 186.8L185.7 186.7L185.5 184.6L183.4 183.6L183.4 181.1L185.4 180.4L187.1 180.4L187.8 179.7L189.7 181.2zM191.1 179.5L189.7 180.8L188.7 183.2L186.9 183.7L185.2 183.1L185.1 180.3L184.3 179.2L185.4 176.9L187.0 176.0L189.7 176.3L189.3 178.8zM189.7 179.1L189.9 180.6L188.1 180.8L187.4 182.1L186.4 180.6L184.8 180.4L185.2 179.0L185.7 177.3L187.5 177.2L188.3 177.5L189.3 178.4zM190.5 179.2L190.8 180.4L189.1 181.5L187.6 182.8L185.4 181.7L186.0 179.7L185.3 178.0L186.8 177.4L187.2 175.3L189.4 176.6L190.7 177.7zM189.8 181.5L189.4 182.7L189.4 184.4L187.6 183.8L185.9 184.5L184.1 182.1L184.9 181.5L185.6 178.9L187.0 179.7L188.5 180.1L189.2 180.4zM190.2 183.0L189.3 183.3L189.3 184.5L188.0 184.4L186.8 184.4L186.8 183.0L186.7 182.6L186.8 180.9L188.0 180.9L188.9 181.2L189.2 181.9zM191.7 182.5L191.3 183.9L189.6 184.8L188.5 183.9L186.9 184.1L186.1 182.6L185.3 181.6L187.1 179.8L188.4 179.1L190.4 179.6L191.1 180.6zM142.9 242.8L142.7 243.9L141.6 245.0L140.1 245.6L139.5 244.7L139.4 243.4L138.4 242.3L139.6 242.1L140.5 241.0L141.6 240.5L143.2 241.7zM140.9 244.3L140.4 245.8L139.2 246.7L137.8 247.9L136.4 246.3L135.7 245.3L134.8 243.7L136.4 242.3L137.8 242.1L138.7 242.5L139.7 244.0zM136.3 243.2L134.5 244.6L134.7 246.1L133.2 246.6L132.4 245.3L131.0 244.5L130.5 243.3L130.9 241.9L132.7 241.5L134.7 241.7L134.8 242.5zM137.6 245.9L135.9 246.4L135.3 246.9L134.3 247.8L133.5 246.5L132.4 246.2L132.3 244.8L133.6 244.2L133.9 242.4L135.8 243.8L137.1 244.5zM136.6 243.9L137.2 245.5L135.9 245.3L135.0 245.5L134.3 244.8L133.4 244.2L133.9 243.3L133.4 242.5L135.2 242.7L136.0 241.9L136.5 243.3zM137.8 243.0L139.0 245.3L136.7 246.6L134.9 247.3L133.6 244.9L133.5 244.1L132.8 243.1L133.3 241.3L134.3 240.2L136.9 240.1L137.3 241.6zM136.9 240.4L136.1 240.8L135.9 241.9L134.8 241.2L134.3 241.6L133.9 240.7L133.1 239.8L133.9 239.0L134.6 239.1L135.4 238.9L136.0 239.5zM137.0 238.5L136.4 239.6L136.2 241.5L134.7 240.7L133.6 239.7L132.2 239.1L132.7 238.4L133.8 237.3L134.4 236.6L135.8 237.0L136.1 237.8zM135.3 240.0L134.6 241.1L134.7 243.5L131.9 242.5L129.8 242.5L129.1 241.5L129.6 239.8L130.3 238.2L132.1 236.1L133.8 238.3L135.5 237.8zM134.9 238.4L134.1 239.3L134.0 240.3L132.2 240.2L131.2 240.2L131.0 238.5L131.6 238.1L131.4 236.7L132.9 235.9L133.2 237.2L134.6 237.5zM135.5 238.2L136.2 238.8L134.9 239.2L134.3 239.4L133.2 239.2L133.4 238.3L132.6 237.8L133.7 236.8L134.3 236.7L135.1 237.1L135.7 237.4zM138.9 237.3L138.8 238.0L137.6 238.6L137.0 238.6L136.6 238.0L135.9 237.6L136.0 236.9L136.3 236.1L137.2 235.8L137.8 235.5L138.0 236.7zM138.3 240.4L139.6 242.5L138.3 243.3L135.9 242.3L134.1 242.3L133.5 240.5L134.0 239.0L133.7 237.3L135.9 237.8L137.2 238.1L139.7 237.7zM136.9 239.9L135.0 240.6L134.6 241.9L133.1 242.4L132.0 241.9L130.8 240.1L131.1 238.8L131.7 237.1L133.2 237.6L134.5 237.7L136.5 238.3zM136.2 238.2L136.2 238.9L135.8 240.1L133.8 240.1L133.6 239.0L133.3 238.5L132.3 237.7L133.6 236.7L134.2 236.7L135.7 236.3L136.3 237.2zM135.8 237.7L133.5 238.8L133.4 241.2L131.2 241.4L129.5 239.8L128.7 238.5L127.4 235.8L129.8 236.1L131.3 233.8L132.4 233.8L133.8 235.0zM135.8 238.6L135.4 239.7L135.0 240.6L133.2 240.9L132.7 239.4L132.5 238.8L132.2 238.2L133.0 237.5L133.3 236.3L134.6 237.0L134.9 237.6zM138.8 239.2L138.5 239.7L137.9 240.1L137.3 240.1L136.9 239.7L136.7 239.5L136.5 238.8L136.4 237.4L137.2 237.2L138.5 237.7L139.2 237.8zM139.6 237.6L140.0 239.0L138.8 240.3L137.9 239.9L137.0 239.0L135.6 238.9L136.0 237.4L136.7 236.9L137.9 235.9L139.2 235.9L140.2 236.2zM142.0 237.7L140.8 239.4L139.5 240.0L139.1 241.2L138.1 239.9L136.4 239.1L137.1 237.3L137.7 237.0L138.3 236.0L139.8 235.7L142.0 237.1zM145.1 241.9L144.3 243.3L143.7 245.1L141.0 245.0L140.2 243.6L139.9 242.7L140.0 241.5L140.3 240.7L141.6 239.8L142.7 239.7L144.6 240.9zM149.8 246.3L150.5 248.7L148.0 248.3L147.4 248.0L145.9 248.6L145.5 246.6L143.6 245.7L145.8 243.8L146.3 242.8L148.6 243.5L149.4 244.5zM152.2 248.0L151.0 248.9L150.7 250.0L149.6 249.6L148.4 249.8L147.8 248.2L147.7 247.3L147.7 245.5L149.1 245.5L151.1 245.6L152.0 246.1zM151.5 244.3L151.2 245.2L151.1 246.6L149.9 245.6L149.4 245.4L148.6 244.8L148.5 243.8L148.9 242.4L150.3 242.7L150.7 242.4L151.3 243.9zM152.3 243.3L151.6 244.3L150.7 244.7L149.5 244.2L148.5 244.9L148.3 243.4L147.6 242.5L148.5 240.8L149.8 241.2L150.3 241.7L151.4 241.9zM148.3 245.7L148.9 246.6L147.6 247.8L146.1 248.4L145.3 246.8L143.7 246.2L143.3 244.8L144.9 243.7L145.3 242.7L147.1 243.5L148.8 243.2zM163.8 241.9L163.6 242.9L162.7 243.3L161.5 243.7L160.8 243.2L160.9 242.1L160.2 241.6L160.3 240.7L161.8 240.9L162.4 240.2L163.4 240.6zM163.1 242.8L161.7 243.6L160.4 244.5L159.2 246.4L156.8 245.7L156.1 243.7L156.9 242.1L157.5 240.0L160.0 238.9L161.1 239.6L162.1 241.3zM164.8 245.7L163.6 246.4L163.1 248.8L161.2 247.4L158.1 248.3L158.6 246.4L158.5 244.7L159.0 242.2L159.7 241.2L163.0 242.6L163.5 243.5zM159.4 243.5L160.0 244.6L158.9 246.1L158.0 245.7L157.0 244.9L156.3 244.1L156.5 243.5L156.3 242.0L157.7 241.4L158.7 242.3L159.9 242.1zM157.7 240.8L158.3 241.7L156.8 242.1L155.8 243.1L155.0 242.6L154.3 241.3L154.6 240.0L155.0 239.0L156.3 239.8L157.2 239.5L158.1 240.0zM159.9 242.2L158.3 243.1L157.1 244.5L156.3 244.9L154.5 245.0L153.0 243.0L154.5 241.3L153.9 238.8L156.3 237.9L158.1 238.9L159.3 240.1zM160.1 244.4L160.6 245.6L159.5 246.7L158.5 246.7L157.1 246.0L156.5 244.7L157.4 244.2L157.5 242.8L158.5 243.4L159.4 242.6L160.3 243.6zM165.0 245.4L165.1 246.1L164.0 247.5L162.6 246.5L161.9 246.3L160.9 245.7L161.2 244.6L160.5 243.3L161.9 242.3L163.1 243.1L164.2 243.7zM160.1 246.7L161.3 248.2L158.8 250.1L157.8 249.9L156.5 248.6L154.7 246.8L155.0 245.3L155.0 244.0L156.9 243.4L158.6 244.8L160.8 244.1zM158.8 244.3L159.3 245.3L157.7 245.5L156.9 246.1L156.2 245.8L155.1 245.2L155.6 243.5L156.3 243.5L156.9 243.2L157.7 242.7L158.5 243.4zM160.3 247.2L161.5 249.0L159.3 251.2L158.1 250.3L157.1 249.0L156.2 248.2L155.7 246.6L156.1 244.4L157.8 244.7L159.8 245.1L161.8 245.7zM165.1 248.1L165.2 248.9L163.9 251.1L161.6 250.1L159.8 250.5L160.3 248.1L159.2 247.2L160.7 246.2L162.2 245.8L163.0 245.5L164.7 245.6zM160.5 243.5L160.0 244.6L159.3 244.5L158.2 246.1L157.5 244.5L157.0 243.9L156.5 242.3L157.3 241.6L158.4 241.4L159.7 241.0L160.2 242.6zM173.1 236.9L173.3 237.4L173.0 238.7L171.6 238.4L170.6 237.9L170.3 237.4L170.2 236.0L170.4 235.3L171.3 235.2L172.5 234.9L173.1 235.9zM172.5 235.7L172.0 236.8L170.6 236.9L170.0 238.4L168.9 236.9L168.1 236.2L167.4 235.3L168.0 234.0L170.1 233.3L170.6 234.6L171.5 234.5zM174.3 234.5L173.6 235.0L173.1 236.1L172.0 236.5L171.5 236.2L170.9 235.0L170.8 233.7L171.8 233.9L172.1 232.9L173.0 233.3L174.3 233.5zM174.8 234.1L175.1 234.8L174.5 236.0L173.6 236.0L172.8 235.8L172.7 234.8L171.8 233.6L173.0 233.5L173.3 232.1L174.6 232.9L175.0 233.5zM172.8 235.6L173.0 236.7L172.0 237.5L170.5 237.9L169.6 237.4L169.4 236.4L168.7 235.3L169.3 234.2L170.6 234.7L171.9 234.2L171.9 235.1zM173.1 234.3L173.1 235.5L171.7 235.4L170.9 235.9L170.3 235.4L170.0 234.4L169.2 234.1L170.0 233.3L170.9 233.3L171.7 233.2L172.1 233.9zM175.4 235.9L175.0 237.3L174.8 238.9L173.4 239.2L172.3 237.4L172.0 236.4L170.8 234.8L172.5 235.0L173.3 234.0L174.3 234.3L176.1 234.9zM171.8 239.0L172.5 240.3L171.2 240.9L169.7 241.7L169.2 240.4L168.3 240.3L168.4 238.4L168.8 237.1L169.6 237.0L171.6 237.2L171.9 238.6zM170.0 235.2L170.7 236.1L169.3 236.1L168.5 237.0L167.8 236.3L167.1 235.4L166.8 234.6L167.8 234.1L168.0 233.0L169.4 233.9L169.7 234.6zM173.8 236.3L172.7 237.4L171.7 237.9L171.1 238.8L169.7 238.7L170.1 237.0L169.0 235.6L170.3 235.1L171.2 234.1L171.7 235.1L173.0 235.0zM123.1 233.7L123.8 235.0L121.6 235.7L120.8 236.0L119.4 235.5L118.9 234.5L119.5 233.3L119.4 232.4L121.2 231.0L122.3 231.6L122.4 232.8zM124.1 230.9L123.2 231.4L123.3 232.4L122.2 232.1L121.5 232.0L120.7 231.3L119.9 230.4L121.4 229.0L122.2 229.1L122.9 229.1L123.7 229.9zM123.7 230.5L124.0 231.7L123.6 232.0L122.2 231.8L121.1 231.7L121.6 230.6L121.0 229.9L121.7 229.7L122.4 228.7L123.0 229.5L124.0 229.4zM120.2 230.5L119.6 231.4L119.3 232.0L117.7 231.8L116.9 231.9L116.2 231.1L115.5 229.2L117.4 228.9L118.1 228.6L119.1 228.2L119.2 229.5zM119.1 230.5L119.6 231.8L118.8 232.3L116.9 233.3L116.4 231.5L115.7 231.3L115.4 230.2L116.5 229.6L117.6 229.0L118.3 229.5L119.5 229.5zM120.0 230.7L119.0 231.1L118.8 232.1L117.8 232.1L117.3 231.6L117.0 230.7L116.1 229.6L117.4 229.8L117.6 228.8L118.7 229.4L119.4 229.9zM121.7 234.7L122.3 235.7L121.1 235.8L120.1 235.8L119.5 236.1L118.6 235.3L118.4 233.9L119.8 233.6L120.5 233.6L121.0 233.2L121.8 233.7zM123.5 234.9L122.6 235.6L122.1 237.2L120.9 236.8L120.5 236.1L120.3 235.5L120.2 234.5L120.5 234.0L120.8 233.1L121.9 233.3L122.9 234.0zM189.6 177.6L188.8 179.0L188.1 180.7L185.7 181.3L184.4 180.2L183.8 179.0L184.5 177.3L185.7 176.5L186.5 175.5L187.2 175.8L188.7 176.9zM186.8 180.8L187.2 181.9L185.9 182.6L185.3 183.2L184.4 182.1L184.0 180.9L183.3 180.4L184.0 178.9L185.1 178.4L186.0 178.8L187.6 179.5zM187.3 183.9L186.1 184.3L186.0 185.7L184.8 184.9L183.8 184.9L183.3 184.1L183.0 183.0L182.9 181.9L184.3 181.5L185.3 182.4L186.7 182.0zM188.5 183.1L188.1 185.0L187.1 186.8L185.3 185.3L183.9 185.3L183.5 184.5L182.9 182.6L183.7 180.8L185.4 179.9L186.7 180.9L187.8 182.1zM192.3 183.2L190.2 184.3L190.3 186.1L188.6 185.5L186.5 185.6L186.6 183.7L186.6 181.7L185.8 180.4L188.4 179.2L190.3 180.3L190.2 181.3zM190.6 180.4L189.1 181.3L188.6 183.3L186.3 182.1L184.9 183.5L184.4 180.9L184.2 179.4L185.6 178.4L186.3 178.1L188.0 177.7L190.0 178.7zM187.9 179.6L187.4 180.6L186.2 181.1L185.2 181.9L184.9 180.7L184.2 180.3L184.0 179.2L184.9 178.4L185.0 177.2L186.3 177.8L187.3 178.7zM191.0 183.0L190.7 185.1L189.4 184.9L188.7 184.9L187.0 184.9L186.5 183.7L185.6 183.0L187.1 180.7L188.6 181.5L189.6 182.0L190.9 181.9zM188.6 183.2L188.3 184.2L187.5 184.9L186.9 185.9L185.0 185.7L184.4 183.9L183.8 182.7L186.0 181.7L186.1 180.3L187.8 181.4L189.0 181.8zM189.0 183.3L189.1 184.4L188.2 185.9L187.1 185.3L186.0 184.4L184.8 184.2L183.6 182.4L185.4 180.9L186.1 180.2L187.8 181.6L189.5 181.5zM193.0 182.9L192.9 183.6L192.2 185.1L191.2 185.3L190.3 184.4L190.2 183.4L189.6 182.3L190.6 181.8L190.8 180.7L191.7 181.8L192.5 181.9zM195.7 182.4L196.3 183.4L195.2 183.8L193.9 184.6L193.7 183.8L192.2 183.0L193.5 181.8L193.6 181.5L194.3 180.4L195.2 180.6L196.0 181.1zM192.9 178.5L193.0 178.9L191.7 179.6L191.0 179.4L190.3 179.4L189.1 179.0L189.1 177.9L190.1 177.2L191.0 177.0L192.1 177.0L192.5 177.6zM193.2 179.9L194.3 182.0L191.5 182.2L190.9 183.3L188.2 182.9L187.2 180.2L187.1 178.3L188.5 176.7L189.8 176.1L191.6 177.2L194.9 177.7zM195.9 178.2L194.6 178.4L194.3 180.2L193.2 179.3L192.2 180.1L191.8 178.1L191.0 177.0L192.5 176.3L193.4 175.5L195.0 175.8L195.2 176.3zM193.2 180.5L192.8 182.2L191.8 182.6L190.8 182.0L189.4 182.1L189.5 181.3L189.5 180.4L189.6 178.5L190.4 178.8L191.8 178.6L192.9 179.1zM191.8 182.7L191.5 183.8L190.5 184.1L189.6 185.0L188.4 184.3L188.7 183.4L188.2 182.4L189.0 181.9L189.3 181.7L190.3 181.1L190.8 182.1zM182.4 177.8L181.1 179.1L180.7 179.8L180.0 179.6L178.9 179.0L178.2 178.5L177.5 177.5L179.1 176.9L179.8 176.9L180.4 176.7L181.1 177.5zM182.1 177.7L182.8 178.8L181.7 180.4L179.7 180.6L178.5 179.7L177.7 178.2L177.7 177.1L178.9 175.7L180.1 175.3L180.8 175.7L182.7 176.3zM180.6 176.7L180.1 177.5L180.1 178.2L179.1 178.4L177.8 177.6L177.2 177.2L176.4 175.8L177.4 175.2L178.9 174.3L180.1 174.8L180.6 175.2zM180.7 177.0L182.0 178.9L180.7 179.6L178.6 180.1L176.6 179.3L176.4 177.7L175.8 176.1L177.3 175.3L178.0 174.3L180.2 174.5L180.6 175.9zM182.8 180.3L183.3 181.1L182.4 181.8L181.2 182.2L180.2 181.2L180.1 180.7L179.3 179.4L180.1 178.9L181.3 178.8L181.7 179.0L182.6 179.4zM185.8 179.6L185.9 181.1L185.3 181.3L184.4 181.5L183.2 180.9L181.9 180.6L182.8 179.2L183.4 178.2L184.1 176.9L185.0 178.2L185.9 178.3zM190.2 188.2L190.5 189.1L189.4 190.0L188.2 190.4L187.3 189.9L187.6 188.7L187.7 188.0L188.1 187.3L188.4 186.4L189.5 186.0L190.7 186.8zM189.0 188.9L189.0 190.2L188.1 190.6L187.0 190.5L186.0 190.4L186.0 189.4L185.5 188.6L186.3 187.6L187.3 187.1L188.3 187.0L189.5 187.8zM193.3 190.1L192.8 190.4L192.4 191.3L191.4 191.6L190.8 190.6L189.4 190.2L190.5 189.3L189.9 188.1L191.1 188.4L192.2 188.1L193.1 189.2zM195.5 187.8L195.4 188.9L194.8 189.8L193.2 189.9L193.0 188.4L192.3 188.4L191.9 187.1L192.0 186.1L193.6 185.3L194.4 186.6L195.9 186.5zM195.2 189.6L195.5 190.7L194.2 190.9L193.6 190.7L192.6 190.8L192.3 190.2L192.1 189.3L193.0 188.5L193.3 188.4L194.8 188.2L195.3 188.9zM191.6 186.1L191.1 186.9L190.7 187.8L189.8 188.2L188.9 187.6L188.0 186.5L187.9 185.3L189.2 184.9L189.7 184.8L190.9 184.9L191.8 184.7zM191.7 186.3L191.3 187.4L190.7 187.9L189.7 188.0L188.2 188.0L187.8 186.7L188.3 185.7L188.7 185.2L188.9 184.0L190.5 185.1L191.8 185.1zM193.1 186.5L192.5 187.4L191.5 188.1L191.0 187.7L189.4 188.0L189.2 187.2L189.2 185.9L189.7 185.1L190.8 184.2L191.5 185.3L192.4 185.6zM195.7 186.2L196.5 187.8L194.6 188.3L194.0 188.9L192.8 187.7L192.4 187.2L191.4 185.6L192.6 185.1L193.8 185.1L195.2 184.5L196.3 184.6zM198.6 167.2L197.2 168.0L196.7 169.2L195.4 168.9L195.2 168.1L193.6 167.2L193.6 165.7L194.7 165.2L195.5 164.7L197.3 164.1L197.1 165.7zM201.4 167.5L200.9 168.4L200.2 169.3L199.0 169.4L197.7 169.2L197.9 168.0L197.8 167.1L197.9 165.2L199.1 165.4L200.0 165.9L201.1 166.8zM201.1 166.8L200.0 167.8L198.9 168.2L198.4 169.1L197.9 168.1L196.1 167.6L196.6 166.2L197.6 165.3L198.3 165.6L199.4 165.1L199.9 166.2zM200.9 168.9L201.8 170.4L200.4 171.8L198.2 171.1L197.8 170.5L197.3 169.3L196.6 167.3L197.7 166.6L198.6 166.1L200.9 165.4L200.6 167.1zM202.8 170.3L202.8 171.8L200.9 171.7L199.4 173.1L198.5 171.4L197.5 171.3L198.6 169.7L198.6 168.9L199.3 167.9L200.6 167.7L201.9 169.3zM204.4 167.8L203.5 168.3L201.9 169.8L201.1 170.0L199.1 169.3L198.2 168.6L198.7 166.5L199.9 165.8L200.6 165.7L201.7 165.5L203.3 165.6zM199.7 165.9L200.3 167.9L198.5 167.4L196.8 168.7L196.1 167.6L195.9 166.6L196.2 165.2L195.7 163.5L197.3 164.0L198.6 163.9L200.0 164.5zM198.3 163.6L197.3 164.7L197.0 166.0L195.7 166.2L193.7 165.5L192.4 164.5L193.0 162.6L194.5 161.7L195.4 161.1L196.5 161.7L198.2 162.6zM196.4 167.8L196.5 169.3L195.4 171.7L193.7 170.8L191.8 170.4L190.1 169.0L189.8 166.6L192.7 166.3L192.6 164.6L195.1 166.1L197.3 166.2zM201.1 170.4L199.6 172.1L199.5 173.6L197.6 172.3L195.1 173.0L194.5 171.2L196.1 169.9L195.9 167.6L197.8 167.3L198.4 167.9L199.4 169.6zM201.2 168.3L199.1 169.1L199.2 170.7L197.6 171.1L195.9 170.3L193.9 168.5L195.4 167.5L195.7 165.3L197.3 163.5L198.4 165.1L201.3 166.2zM201.5 165.4L201.8 167.4L201.0 168.5L198.3 167.5L196.8 167.7L196.8 166.2L197.2 165.3L197.9 163.7L198.2 163.0L200.2 163.3L201.3 164.5zM203.5 169.3L202.2 171.0L201.0 170.9L200.0 171.7L198.9 171.0L196.8 169.7L197.3 168.9L199.0 167.5L199.7 165.7L200.8 167.6L202.4 167.4zM204.0 165.1L204.0 166.3L201.5 168.5L200.4 166.8L199.3 166.2L196.9 165.5L198.4 163.7L199.0 162.3L199.9 162.0L201.3 162.4L203.0 163.1zM199.8 164.0L199.4 165.2L198.8 165.7L197.9 166.0L196.5 165.7L195.8 164.7L196.1 163.7L197.3 162.9L198.4 162.9L199.0 163.1L200.6 163.2zM202.3 163.3L202.2 164.0L201.3 164.8L200.6 165.6L200.3 164.5L200.0 163.7L199.4 163.2L200.2 162.4L200.7 162.2L201.7 161.4L202.1 162.8zM213.8 183.2L213.2 184.6L213.2 187.1L211.7 186.7L209.8 184.9L208.6 183.7L208.0 181.5L209.0 181.1L211.5 179.4L212.8 180.5L214.3 182.1zM209.6 179.1L210.5 181.3L208.5 180.9L207.6 181.3L205.6 182.4L205.6 179.7L205.7 178.9L206.0 177.8L207.0 176.5L208.4 176.5L209.1 178.5zM212.5 183.7L212.8 184.3L212.3 185.3L211.1 185.6L210.3 184.9L209.1 183.9L208.8 183.2L209.9 181.5L211.0 182.0L212.2 182.2L212.4 182.8zM212.9 185.0L212.6 187.1L211.8 188.2L209.0 187.7L207.4 186.5L206.6 186.1L206.6 183.6L208.3 182.9L209.0 182.3L210.4 182.0L212.8 182.5zM212.5 188.4L212.9 189.3L211.7 190.0L211.0 190.6L210.6 189.8L210.0 189.2L209.9 187.9L210.2 187.3L211.1 187.6L211.7 187.4L212.4 188.0zM209.9 186.3L209.3 189.0L208.6 189.2L206.8 189.0L206.0 188.3L203.6 187.5L203.7 185.5L205.7 185.3L206.8 183.9L208.1 183.8L209.7 184.7zM213.1 186.0L214.3 187.3L212.1 188.1L210.5 189.3L207.9 188.1L206.3 186.4L206.5 184.0L208.3 183.4L209.6 181.3L212.1 181.5L214.7 183.6zM223.1 186.1L222.5 187.2L221.2 188.3L219.5 189.2L218.9 188.2L218.3 186.8L218.5 185.1L217.7 183.8L219.7 183.3L222.4 183.2L222.3 184.5zM225.0 188.4L225.2 189.1L224.7 189.8L223.7 190.0L222.9 190.3L222.2 189.5L222.5 187.9L223.3 187.6L223.8 187.0L224.6 187.1L225.0 188.2zM231.0 185.6L230.4 187.6L229.8 188.2L228.4 187.8L226.6 187.5L226.7 186.6L226.3 184.7L226.9 184.6L228.3 183.9L229.2 184.3L230.2 184.7zM230.1 189.4L229.6 190.1L229.1 190.6L227.9 190.9L227.1 190.8L227.1 189.9L227.2 189.0L227.3 188.1L228.3 187.8L228.8 187.6L229.6 188.7zM231.7 189.5L229.9 190.6L229.8 191.9L228.0 192.1L226.8 192.4L225.9 190.9L225.3 189.3L227.5 187.8L227.8 187.3L230.2 187.0L231.3 188.0zM220.5 185.0L220.7 186.3L219.8 186.9L218.7 187.1L217.5 186.8L217.0 185.8L216.5 184.2L217.1 184.0L218.0 182.2L220.1 182.9L220.8 184.2zM224.4 188.7L223.9 189.5L223.0 190.0L222.3 190.8L222.1 189.9L221.4 189.1L221.8 188.7L221.4 187.9L222.6 187.5L223.3 187.4L224.2 187.7zM226.2 185.4L225.9 187.1L225.1 188.3L223.1 188.0L221.4 187.8L221.4 186.1L220.6 184.6L221.0 183.7L223.5 183.1L224.6 182.5L226.6 184.3zM221.3 184.5L221.2 185.6L220.2 186.5L219.5 185.9L218.5 185.3L217.5 185.3L218.1 184.0L218.6 183.0L218.9 182.6L220.2 182.6L221.1 183.2zM221.8 180.6L222.5 181.5L221.2 181.6L220.1 182.5L219.5 181.5L218.4 181.2L219.6 180.1L219.6 179.7L219.9 178.7L221.8 178.8L222.3 179.7zM218.6 181.9L218.7 183.4L217.9 184.0L216.5 183.4L215.2 183.6L214.9 182.5L215.2 181.6L215.8 180.4L216.5 180.4L218.1 179.3L218.2 180.7zM214.9 182.2L213.7 182.9L214.2 184.6L212.2 184.2L210.8 184.4L210.7 182.9L211.2 181.3L210.6 180.2L212.0 179.5L213.2 180.3L215.0 180.1zM221.8 184.1L220.8 184.5L220.8 186.1L219.5 185.8L218.6 185.3L217.5 184.7L218.5 183.4L218.4 182.8L219.6 182.3L220.1 182.8L222.0 182.9zM218.1 184.6L218.2 185.6L217.7 185.7L216.8 186.6L215.4 186.1L215.5 184.9L214.7 183.8L215.9 183.1L216.8 183.1L217.4 183.4L218.0 183.5zM218.2 183.0L217.5 183.2L217.1 184.4L216.3 183.9L215.4 183.6L214.5 183.1L214.6 182.1L215.6 181.6L216.4 181.3L216.7 181.9L217.7 181.7zM216.6 186.8L217.3 188.0L215.2 188.5L213.5 188.6L211.9 188.8L211.3 187.3L210.8 185.8L212.5 184.8L214.0 184.4L215.0 183.7L216.3 184.6zM220.4 189.2L220.2 190.0L219.5 190.8L218.1 191.5L217.2 190.2L216.9 189.3L217.2 188.3L217.8 187.8L218.0 187.1L219.5 187.4L220.3 187.3zM217.3 189.3L218.4 192.2L216.6 191.9L214.6 192.4L214.2 191.1L212.9 190.0L212.5 188.0L213.2 187.5L215.5 187.5L217.1 186.8L217.8 188.6zM215.6 188.6L215.8 190.4L215.2 192.0L214.0 191.8L212.4 190.5L212.3 189.4L210.8 187.3L211.5 186.5L213.5 186.5L215.2 186.3L215.9 187.9zM214.1 185.9L213.7 187.3L212.5 188.5L210.2 187.2L208.7 187.6L206.1 185.8L207.8 184.6L208.2 181.8L210.0 181.5L211.4 183.1L213.6 183.8zM212.0 188.9L211.3 189.9L208.7 190.7L207.1 192.1L206.9 189.9L204.5 190.1L205.8 188.2L206.2 186.6L207.4 186.3L209.1 186.6L210.6 187.2zM219.8 186.6L218.9 187.4L218.4 187.9L217.3 188.7L217.1 187.8L216.8 186.8L216.9 186.1L216.5 184.9L217.9 185.5L218.5 184.6L219.7 185.4zM219.2 189.6L218.3 191.1L217.4 191.1L216.6 191.1L215.4 190.6L214.1 190.3L214.7 188.9L215.4 187.6L216.3 187.0L217.5 188.2L218.5 188.2zM218.0 189.0L218.4 190.8L217.3 191.8L215.4 193.1L214.5 190.7L214.1 190.1L213.8 188.3L214.1 187.9L215.5 187.6L216.7 186.8L217.8 188.3zM215.0 180.6L214.6 181.8L214.2 182.1L213.4 182.8L212.2 181.9L212.2 181.2L212.3 180.5L212.3 179.7L213.3 179.5L213.7 179.9L214.4 180.0zM220.3 195.3L219.8 197.7L218.4 198.5L217.1 197.8L214.5 198.1L213.5 196.1L213.6 194.7L216.3 193.7L217.6 193.7L219.1 193.0L219.0 194.2zM221.0 198.3L220.1 198.9L220.2 200.1L218.2 200.8L217.5 199.4L216.6 198.5L217.1 197.7L218.2 197.3L218.8 195.7L220.1 195.9L220.3 197.0zM222.0 201.8L222.5 203.4L219.6 203.2L217.9 205.0L216.6 203.7L217.1 201.6L216.1 200.8L216.4 199.1L219.0 199.6L220.0 199.1L222.0 199.9zM220.4 201.5L220.1 202.5L217.5 202.8L215.8 204.0L215.0 202.5L214.0 202.0L213.8 199.7L215.3 198.6L216.6 198.0L218.0 197.6L218.5 200.0zM216.2 197.4L216.4 199.5L215.2 199.5L213.9 199.4L211.8 199.1L211.5 197.5L211.1 196.7L212.2 194.3L213.3 194.8L214.5 195.4L216.3 195.9zM221.5 196.7L221.0 199.0L218.3 199.0L217.1 199.0L215.1 199.1L215.8 197.4L214.5 195.6L215.6 194.9L217.3 193.6L219.2 193.0L220.7 195.1zM215.8 200.4L215.0 201.3L214.7 202.2L213.3 202.6L212.9 201.8L212.3 201.0L211.3 200.1L211.7 198.9L213.6 197.8L214.4 198.8L215.8 199.1zM211.9 197.1L211.5 197.8L211.2 198.1L210.7 198.7L209.3 198.7L208.8 197.7L209.4 196.6L209.8 196.2L210.0 195.2L211.1 196.0L211.6 196.6zM211.5 199.6L211.8 201.2L210.7 201.5L210.0 201.4L209.4 200.8L208.5 200.2L208.9 199.5L209.2 198.8L210.0 197.4L211.1 197.8L211.6 198.7zM212.6 201.4L213.5 202.7L211.8 204.2L209.5 204.5L207.8 204.1L206.9 201.8L207.1 201.0L208.7 198.7L209.8 198.3L211.4 198.0L213.2 199.7zM214.0 198.2L213.7 199.4L211.8 200.7L210.8 200.3L210.2 199.4L209.6 198.3L208.7 197.5L209.7 195.6L210.5 195.5L212.0 195.6L213.5 195.9zM213.3 198.3L213.0 199.2L213.1 200.2L211.4 199.7L210.4 200.5L209.9 199.1L210.1 197.8L210.0 196.4L211.8 196.4L212.7 195.5L214.2 197.1zM212.5 199.9L212.7 200.8L211.4 201.7L210.4 201.2L210.1 201.0L209.3 200.1L209.6 199.8L209.7 198.4L210.4 198.2L211.5 198.8L212.6 199.0zM214.8 196.0L215.4 197.6L213.1 198.4L212.6 198.3L211.2 197.5L208.7 197.4L209.8 195.3L211.2 194.0L212.0 193.1L214.8 192.4L214.9 194.1zM216.0 211.2L215.6 212.6L215.1 214.2L212.5 214.5L209.7 214.0L209.1 212.8L209.6 210.0L210.7 208.9L213.0 208.4L214.1 209.2L214.6 209.8zM207.3 211.0L205.7 212.3L205.4 214.0L204.4 213.1L203.8 212.8L203.3 212.0L203.5 211.0L203.0 209.2L204.7 209.7L205.6 209.2L206.0 210.5zM209.8 208.4L211.1 210.0L208.3 210.4L207.1 211.0L206.3 210.8L205.0 209.1L204.7 207.8L205.6 205.5L207.7 205.4L210.0 204.9L209.4 207.5zM209.9 209.6L209.0 211.5L207.6 211.3L207.2 211.4L204.9 212.0L205.7 210.0L204.6 209.2L205.1 207.8L206.7 207.3L208.7 207.4L209.0 208.8zM210.0 212.9L209.9 214.2L209.1 215.4L207.9 214.9L206.7 214.8L207.0 213.7L205.7 212.3L207.1 211.6L208.5 210.7L209.4 211.9L209.9 212.1zM211.9 213.4L212.6 214.7L211.0 216.6L209.7 215.3L208.8 215.7L207.9 214.5L208.2 213.1L208.2 211.6L209.8 210.7L211.5 210.9L211.9 212.5zM208.3 210.4L208.3 211.4L207.6 213.0L206.4 212.5L205.4 211.4L205.4 210.6L205.3 210.1L205.3 208.2L206.6 208.0L207.4 208.2L207.7 209.6zM205.5 211.5L204.7 212.0L204.5 213.1L203.7 213.6L202.9 212.6L201.5 211.7L202.1 211.3L202.9 210.8L203.4 210.1L204.7 209.6L205.2 210.8zM207.5 215.1L205.7 215.8L205.5 217.7L203.8 217.1L202.4 216.4L201.1 215.2L201.1 213.9L202.3 213.3L203.8 210.7L205.7 212.2L207.0 212.4zM211.5 212.0L210.2 213.0L210.2 213.6L208.4 213.8L206.6 213.7L207.2 212.6L206.0 210.7L207.4 209.8L208.1 209.3L209.8 208.6L210.2 210.8zM214.7 215.8L213.3 216.8L212.7 218.6L210.5 217.8L209.3 217.6L208.8 217.1L209.2 215.5L208.6 212.8L210.3 213.0L212.4 211.9L214.6 214.1zM212.6 215.8L213.7 216.9L212.5 218.5L209.5 218.9L209.4 217.5L208.1 216.0L207.9 215.3L208.7 213.5L209.9 213.5L211.5 213.6L212.8 214.6zM215.1 213.9L215.4 215.9L213.9 215.8L211.9 217.8L211.7 216.1L209.2 214.8L210.2 213.9L210.9 212.3L212.3 210.7L214.4 212.0L215.0 212.7zM218.0 213.2L218.3 214.8L217.3 215.2L216.2 215.0L215.2 215.1L214.3 214.0L213.8 212.6L214.3 211.7L216.0 211.9L216.6 212.0L217.6 212.7zM221.1 209.6L220.8 211.4L220.0 212.3L217.7 211.6L216.8 210.9L216.5 209.6L216.0 208.2L215.6 207.0L218.0 207.2L219.9 206.8L220.0 208.5zM218.7 209.5L217.6 210.7L216.8 212.2L216.0 212.3L215.1 211.4L213.1 210.6L214.4 209.8L214.4 207.9L215.6 208.6L217.6 207.4L217.7 208.8zM216.4 204.6L216.8 205.9L215.3 206.8L214.4 206.1L212.6 206.9L211.3 205.5L211.8 203.4L212.0 201.9L214.1 202.0L214.9 202.6L216.3 203.4zM222.3 206.9L222.1 208.8L220.0 208.7L218.3 208.9L216.8 208.4L215.3 207.8L216.5 206.4L216.5 204.2L218.6 204.8L220.0 204.1L221.4 204.3zM218.3 208.9L218.7 210.5L217.5 210.1L216.6 210.4L216.3 209.9L214.9 209.4L215.1 208.3L215.9 208.0L217.0 207.3L218.0 207.6L218.6 208.5zM216.1 213.3L214.9 214.6L214.3 215.3L213.0 216.4L212.2 214.8L212.2 213.8L212.5 213.0L211.9 211.7L213.3 212.0L214.5 210.7L215.0 212.5zM215.1 215.8L214.4 217.1L213.3 219.1L211.8 219.5L210.4 218.5L209.3 217.6L210.8 215.2L209.4 213.2L211.5 212.0L214.7 212.4L216.3 214.1zM214.0 216.0L214.0 216.9L211.4 217.5L210.7 217.7L208.2 218.0L207.8 216.3L207.6 215.0L209.1 212.8L210.1 212.8L211.5 213.7L214.1 214.1zM213.4 216.1L213.7 217.1L213.0 217.6L212.0 218.2L210.8 217.4L210.8 216.3L210.0 215.3L210.8 214.4L211.7 214.0L212.4 214.4L213.8 215.0zM216.7 216.5L216.1 217.9L215.1 218.4L214.4 219.1L213.1 217.9L212.4 217.0L212.2 216.3L213.6 215.3L214.3 215.0L215.3 214.3L215.8 215.7zM216.6 216.4L216.3 218.9L213.5 219.1L212.9 218.8L210.6 219.6L210.0 217.5L210.4 215.4L211.1 215.0L213.0 213.5L214.0 214.6L215.3 215.1zM215.3 216.1L214.2 216.3L213.4 218.4L211.9 217.9L210.8 218.1L210.1 216.4L209.8 214.4L210.9 214.3L212.0 213.3L213.5 213.2L214.6 214.4zM217.4 215.5L216.1 216.8L215.3 217.3L214.5 217.4L213.3 217.2L213.3 216.1L212.7 215.3L213.9 214.9L214.4 213.9L215.4 214.0L216.5 214.5zM220.5 216.1L220.8 217.8L219.3 218.0L218.7 217.7L217.5 218.2L216.9 216.8L217.9 215.9L217.8 214.9L219.1 214.3L220.2 214.5L220.1 215.5zM220.6 216.5L220.0 217.6L219.4 218.2L217.8 218.1L217.0 218.0L216.7 216.5L215.9 215.6L217.4 215.4L218.0 214.7L218.9 214.5L220.5 214.7zM222.8 212.9L223.0 214.8L222.2 215.8L220.3 215.4L219.9 214.2L218.5 214.6L219.6 213.0L219.7 211.1L220.7 211.7L221.5 211.5L222.3 212.5zM218.1 212.0L218.8 213.7L217.7 213.8L216.4 213.6L215.3 214.2L215.2 212.6L215.6 211.6L214.9 210.4L216.2 210.4L217.3 210.8L217.9 211.5zM216.2 211.7L215.6 212.5L215.3 213.5L214.6 214.2L212.8 213.6L213.2 211.8L212.8 211.2L213.4 210.7L214.5 210.2L215.6 209.4L215.9 210.6zM220.1 211.2L220.1 212.5L218.9 212.4L217.7 213.4L217.4 212.1L217.0 211.9L216.2 210.4L217.5 210.3L218.0 209.4L219.0 209.6L220.1 209.9zM218.9 215.5L218.9 217.2L218.0 218.1L215.7 217.5L214.6 217.5L213.2 216.5L214.4 214.4L213.6 213.1L216.0 212.1L217.3 213.3L219.1 213.4zM220.7 211.5L221.3 212.6L220.7 214.0L218.5 214.4L216.9 213.6L215.8 212.1L215.7 210.6L217.6 210.4L218.5 208.9L220.0 209.5L220.2 210.5zM231.9 162.0L231.7 163.7L230.1 165.5L228.3 165.0L227.2 164.3L225.2 162.1L225.8 160.6L227.7 159.5L228.7 159.2L229.9 157.8L232.7 159.2zM228.7 165.0L229.7 167.1L227.6 168.0L225.7 168.0L224.7 165.9L223.8 165.0L222.8 162.8L224.0 161.9L226.3 160.9L227.6 162.1L228.4 162.8zM225.6 164.8L225.6 166.1L225.4 167.0L223.8 166.2L222.1 165.9L222.0 164.8L221.1 163.9L221.6 162.4L222.9 161.1L225.4 161.3L225.9 162.7zM230.4 164.7L229.2 167.5L228.2 168.1L226.1 166.9L223.6 167.6L224.0 165.5L223.3 163.6L224.1 162.8L225.7 162.5L228.2 161.4L229.9 163.3zM229.5 161.9L229.2 163.1L228.3 163.8L227.3 164.0L226.6 164.2L225.9 163.0L226.1 161.9L226.2 159.8L227.6 158.9L228.6 159.9L229.4 161.2zM230.4 156.8L227.9 158.7L227.6 160.9L226.0 160.6L223.4 159.7L222.3 157.9L222.4 157.0L223.6 155.3L225.8 155.4L227.0 155.0L228.3 155.7zM225.4 156.4L224.6 157.6L224.7 158.9L222.8 159.4L222.4 158.1L221.4 157.7L221.1 155.5L221.9 155.0L222.7 154.7L224.1 154.1L224.9 155.4zM228.2 159.5L226.4 160.6L226.0 160.7L224.8 161.4L224.1 161.5L222.2 160.4L223.1 159.1L223.8 158.1L224.8 157.7L226.0 157.5L226.5 158.5zM225.7 161.0L224.6 162.2L224.0 165.0L222.7 163.8L221.1 163.2L220.4 162.1L221.0 161.0L220.5 159.2L222.8 158.2L224.1 158.0L224.6 160.0zM225.8 163.2L225.4 165.2L223.8 165.4L222.6 166.1L221.3 165.5L220.1 163.7L220.2 162.3L221.0 161.3L222.3 159.8L223.8 160.7L224.5 161.8zM227.2 162.0L224.8 163.2L225.1 164.7L222.9 165.2L221.6 164.4L220.6 162.4L219.4 161.3L220.3 159.6L222.4 158.8L223.9 159.2L224.8 161.2zM230.8 155.0L230.6 156.5L229.2 156.0L228.7 156.3L227.1 156.7L227.2 155.6L227.1 154.0L227.8 153.4L228.5 153.2L229.8 152.7L230.7 153.6zM231.9 154.7L232.2 155.7L230.4 156.1L229.3 157.2L228.8 155.4L227.4 155.6L227.0 153.9L228.0 152.5L229.6 153.0L230.8 152.1L231.6 152.8zM236.7 163.9L236.5 165.6L235.0 166.1L233.7 166.8L232.3 166.0L231.2 165.0L231.5 163.5L232.8 162.6L234.1 162.8L234.8 162.7L235.9 162.5zM236.5 165.7L235.4 165.9L235.2 167.0L234.0 166.4L233.0 166.9L232.8 165.4L232.4 165.1L233.0 164.1L233.9 163.5L234.8 163.9L235.6 164.7zM236.8 165.2L235.4 165.6L235.2 166.5L234.1 166.5L232.9 166.9L232.1 165.7L231.2 164.4L233.0 163.4L233.6 162.4L234.8 162.9L236.1 163.3zM232.0 156.9L229.9 157.8L229.3 158.5L227.6 158.8L225.8 160.0L225.1 158.2L225.1 155.6L226.8 154.5L227.6 153.6L228.8 154.1L231.1 154.9zM226.2 157.8L225.8 158.5L225.2 159.7L223.3 159.7L222.7 159.3L221.9 158.0L221.2 156.5L222.5 155.9L223.0 155.7L224.3 155.5L225.2 156.7zM226.4 160.0L226.0 162.0L224.1 161.9L223.2 162.1L222.3 161.3L221.4 160.7L221.5 160.0L221.4 158.2L223.4 158.8L224.9 158.1L225.9 158.9zM227.5 163.0L226.8 164.2L226.5 165.0L225.2 165.0L224.8 164.0L223.7 163.5L223.6 162.8L224.8 162.4L225.3 161.4L225.8 162.2L226.7 162.7zM225.0 160.6L225.4 161.9L224.4 162.3L223.7 162.1L222.8 162.6L222.1 160.9L221.9 160.4L222.9 159.4L223.6 158.5L224.8 158.6L225.7 159.7zM225.0 156.1L224.1 157.8L223.4 158.7L222.2 158.1L221.4 157.5L220.8 156.7L220.1 155.9L220.9 154.5L222.0 154.3L222.9 155.3L223.9 155.0zM227.1 154.7L227.0 155.9L226.2 156.6L225.5 156.1L224.9 155.5L223.5 155.2L224.5 154.4L224.8 153.6L225.2 153.0L226.1 153.8L227.7 153.4zM224.3 156.9L224.4 158.0L223.0 158.7L222.0 159.0L221.3 158.3L220.3 157.9L219.9 156.3L220.9 155.1L222.0 155.1L222.7 155.9L224.3 155.7zM224.0 157.9L224.4 159.0L223.7 160.0L222.2 160.3L221.4 159.5L220.9 158.3L219.9 157.7L221.6 157.2L222.4 156.7L222.9 156.4L224.6 156.8zM223.8 157.7L223.8 159.0L223.4 159.2L221.7 160.0L221.2 158.8L221.0 157.9L219.6 156.8L221.3 156.1L222.0 155.8L223.2 155.4L224.6 156.7zM227.0 160.3L227.2 161.2L226.3 161.4L225.4 161.5L223.9 161.5L224.1 160.6L223.8 159.8L223.7 158.0L224.8 157.9L226.1 158.1L226.5 159.2zM231.6 164.9L232.6 166.2L230.9 167.6L229.5 166.9L226.4 167.0L226.4 165.4L227.6 164.0L227.8 161.6L229.3 162.6L230.6 162.6L231.7 163.3zM228.2 164.5L229.6 166.4L227.4 167.7L225.6 167.5L223.7 168.0L223.1 165.3L223.4 163.9L223.4 162.0L225.6 162.7L227.1 162.7L230.1 162.8zM227.0 162.9L226.3 164.4L225.3 164.6L224.6 164.2L223.0 164.1L222.7 163.2L222.0 162.0L222.4 160.7L224.1 161.1L225.8 160.7L226.2 161.7zM195.7 224.6L196.3 225.5L194.9 225.9L194.7 226.6L194.1 225.7L192.8 225.3L192.6 224.1L193.4 223.0L194.2 222.9L195.0 223.0L196.1 224.0zM199.4 223.1L198.8 224.6L198.4 225.0L196.9 226.0L195.4 224.7L195.3 224.1L194.4 222.3L196.1 221.8L196.9 220.5L198.0 221.7L198.8 221.9zM200.1 226.6L200.0 227.7L199.0 228.0L198.1 228.9L196.8 229.0L195.6 227.1L196.2 226.1L196.7 225.3L198.1 223.8L199.1 224.1L199.6 225.7zM201.0 228.6L200.0 229.9L199.6 231.2L197.5 230.7L196.4 230.1L195.5 228.9L195.2 227.5L196.3 226.0L197.5 225.1L199.3 225.5L199.6 227.6zM199.7 228.3L199.3 229.0L198.8 229.7L197.9 229.8L197.2 229.2L195.5 229.0L196.1 227.2L196.7 227.0L197.7 226.8L199.0 226.2L199.4 227.2zM198.6 228.4L198.5 229.1L197.9 229.6L197.5 229.8L195.6 229.9L195.7 228.6L196.2 227.8L196.6 227.6L197.5 227.0L198.2 227.3L198.4 227.7zM196.9 225.7L196.3 227.2L195.2 227.1L194.8 227.2L193.7 227.7L193.9 226.3L193.4 225.4L193.7 224.3L194.9 224.5L195.8 224.5L196.2 225.3zM194.8 223.0L193.6 224.2L193.1 225.4L192.5 225.9L191.0 224.9L189.6 223.7L190.4 222.6L190.5 221.3L191.9 221.2L193.0 222.0L194.3 222.0zM131.9 84.0L131.5 85.5L130.6 87.5L128.6 86.5L127.1 85.7L125.9 84.0L126.9 82.1L128.2 80.2L130.4 81.1L131.8 82.3zM134.2 86.8L134.1 89.6L131.3 89.9L128.9 91.2L126.2 89.9L126.6 86.8L126.0 83.6L129.0 82.8L131.9 82.1L133.7 84.4zM135.4 89.6L135.7 92.9L132.6 94.1L129.4 95.1L128.0 92.0L127.6 89.6L126.7 86.3L130.1 86.4L132.8 84.7L134.9 86.9zM131.1 93.5L131.5 95.7L130.0 97.8L127.8 96.1L125.8 95.6L125.9 93.5L126.0 91.7L127.8 91.2L129.6 90.5L131.6 91.4zM133.8 96.4L132.5 97.8L131.5 99.4L129.4 99.8L128.8 97.6L127.0 96.4L128.1 94.6L129.5 93.3L131.4 93.5L132.6 94.8zM132.1 99.1L131.9 100.9L130.4 102.0L128.5 102.1L127.9 100.3L126.4 99.1L127.8 97.9L128.9 97.4L130.2 97.0L131.7 97.5zM133.4 102.9L132.4 104.2L131.8 106.6L129.3 106.6L127.7 105.0L127.7 102.9L128.1 101.1L129.7 100.3L131.6 99.6L133.3 100.9zM135.2 105.7L134.7 107.7L133.3 110.1L131.0 108.4L128.8 107.9L126.7 105.7L129.2 103.7L130.7 101.9L133.5 100.9L135.9 102.8zM135.1 109.0L133.0 111.3L131.2 113.4L128.3 113.3L126.8 111.1L125.0 109.0L126.1 106.3L128.0 103.7L131.2 104.5L133.0 106.6zM136.4 112.5L136.8 114.9L134.3 115.3L132.2 116.4L130.1 114.9L129.1 112.5L129.7 109.8L132.5 109.6L134.8 108.1L136.1 110.5zM135.3 115.0L133.7 116.3L133.0 118.3L131.0 117.7L130.0 116.4L128.5 115.0L129.2 113.0L131.0 112.3L132.8 112.2L134.4 113.1zM132.1 118.6L131.8 120.3L130.5 121.9L128.2 122.5L125.3 121.6L125.8 118.6L126.6 116.6L128.2 114.8L131.0 113.8L132.8 116.2zM157.3 84.0L156.3 85.3L155.2 86.0L153.7 86.6L151.7 86.1L151.3 84.0L152.4 82.4L153.4 80.5L155.2 81.9L156.5 82.6zM161.3 87.1L161.5 89.6L159.3 91.2L156.9 90.3L155.7 88.7L155.4 87.1L155.6 85.4L156.9 83.9L158.6 84.8L160.4 85.3zM159.8 90.4L158.9 92.1L157.3 92.7L155.6 93.5L154.9 91.7L154.5 90.4L154.4 88.8L155.8 88.1L157.7 87.1L158.5 89.1zM156.6 94.1L156.3 95.4L155.3 96.5L154.0 96.0L152.5 95.6L151.8 94.1L152.4 92.6L153.7 91.3L155.1 92.5L156.7 92.5zM157.1 97.9L156.4 99.5L154.8 99.7L153.2 100.8L151.9 99.5L151.5 97.9L151.8 96.2L153.4 95.4L154.9 95.8L155.6 96.9zM159.1 100.6L158.2 102.3L156.5 102.2L155.3 102.7L153.8 102.2L154.2 100.6L153.6 98.9L155.4 98.8L156.7 98.4L158.3 98.9zM161.9 103.3L160.9 105.7L158.6 106.3L156.7 106.1L155.7 104.7L154.4 103.3L155.2 101.5L156.8 100.7L159.0 99.0L161.1 100.7zM157.4 106.2L157.5 107.5L156.5 108.7L155.0 108.2L153.9 107.5L153.5 106.2L153.3 104.5L155.2 104.6L156.6 103.4L157.8 104.7zM158.3 110.0L158.3 112.0L156.2 112.1L154.7 112.6L152.7 112.1L153.4 110.0L153.2 108.3L154.9 108.0L156.4 107.3L157.6 108.5zM158.5 113.9L156.8 115.1L155.9 116.4L154.4 116.1L153.8 114.8L152.4 113.9L153.1 112.4L154.1 110.8L156.1 110.7L156.6 112.8zM158.0 117.7L158.0 119.2L156.6 119.6L155.1 120.5L154.2 119.1L154.1 117.7L153.7 116.0L155.5 116.0L156.9 115.1L157.6 116.6zM160.0 120.6L160.0 123.0L157.8 123.7L155.9 123.1L154.1 122.5L153.2 120.6L154.3 118.8L155.8 117.5L157.5 118.4L158.9 119.0zM159.0 123.6L158.7 124.6L157.8 125.3L156.7 125.5L155.9 124.7L155.1 123.6L155.6 122.4L156.3 120.5L157.9 121.6L159.4 122.1z" fill="#cd6d20"/><path d="M106.7 81.8h1.1v1.1h-1.1zM103.4 79.9h0.6v0.6h-0.6zM106.8 81.9h1.0v1.0h-1.0zM104.4 83.8h1.4v1.4h-1.4zM107.9 81.1h0.7v0.7h-0.7zM105.1 80.1h0.8v0.8h-0.8zM93.5 86.6h0.6v0.6h-0.6zM93.6 90.1h1.4v1.4h-1.4zM95.0 86.8h1.3v1.3h-1.3zM96.0 83.0h0.6v0.6h-0.6zM100.8 81.6h1.5v1.5h-1.5zM102.0 84.5h1.0v1.0h-1.0zM105.6 79.6h0.8v0.8h-0.8zM91.3 81.8h0.9v0.9h-0.9zM108.6 90.0h1.1v1.1h-1.1zM114.0 87.3h0.6v0.6h-0.6zM112.0 88.4h1.1v1.1h-1.1zM115.7 86.5h0.8v0.8h-0.8zM108.8 89.4h0.7v0.7h-0.7zM110.5 93.3h0.7v0.7h-0.7zM113.8 86.3h1.3v1.3h-1.3zM109.8 89.7h0.7v0.7h-0.7zM76.4 112.9h1.4v1.4h-1.4zM82.5 113.6h1.5v1.5h-1.5zM90.4 114.0h1.3v1.3h-1.3zM68.7 109.8h1.4v1.4h-1.4zM76.6 109.7h0.8v0.8h-0.8zM89.8 101.5h1.2v1.2h-1.2zM86.7 112.8h1.2v1.2h-1.2zM72.4 114.4h1.4v1.4h-1.4zM79.5 111.3h1.3v1.3h-1.3zM71.6 110.7h0.9v0.9h-0.9zM72.5 108.7h0.7v0.7h-0.7zM84.6 111.2h1.4v1.4h-1.4zM72.6 111.5h1.0v1.0h-1.0zM77.4 108.6h0.9v0.9h-0.9zM87.9 107.6h0.6v0.6h-0.6zM69.4 111.9h1.1v1.1h-1.1zM77.6 109.1h0.7v0.7h-0.7zM66.0 108.8h0.6v0.6h-0.6zM73.6 113.0h1.4v1.4h-1.4zM67.0 106.7h0.9v0.9h-0.9zM89.1 112.0h1.3v1.3h-1.3zM65.6 106.0h0.7v0.7h-0.7zM88.4 113.4h0.8v0.8h-0.8zM91.0 113.4h1.4v1.4h-1.4zM93.5 101.2h0.7v0.7h-0.7zM87.9 108.9h1.3v1.3h-1.3zM94.2 104.7h0.7v0.7h-0.7zM67.1 111.3h1.0v1.0h-1.0zM69.9 109.7h1.4v1.4h-1.4zM80.6 123.8h0.9v0.9h-0.9zM76.7 120.6h1.1v1.1h-1.1zM81.9 125.2h0.7v0.7h-0.7zM76.2 120.5h0.9v0.9h-0.9zM78.3 118.7h1.1v1.1h-1.1zM82.3 125.3h1.1v1.1h-1.1zM78.4 119.0h1.1v1.1h-1.1zM70.1 145.8h1.1v1.1h-1.1zM67.7 144.3h1.0v1.0h-1.0zM70.9 148.9h0.7v0.7h-0.7zM67.5 146.1h1.4v1.4h-1.4zM62.1 146.2h1.3v1.3h-1.3zM66.8 143.7h1.2v1.2h-1.2zM65.2 143.7h1.3v1.3h-1.3zM65.3 152.6h1.1v1.1h-1.1zM69.3 149.9h1.3v1.3h-1.3zM63.5 145.1h0.8v0.8h-0.8zM68.4 147.9h0.9v0.9h-0.9zM66.6 142.2h1.3v1.3h-1.3zM68.9 152.3h1.2v1.2h-1.2zM66.5 149.0h1.2v1.2h-1.2zM118.6 122.7h1.0v1.0h-1.0zM120.7 124.4h1.1v1.1h-1.1zM120.6 128.7h1.2v1.2h-1.2zM118.8 124.2h1.2v1.2h-1.2zM123.5 127.4h1.3v1.3h-1.3zM121.2 128.0h1.2v1.2h-1.2zM123.3 128.8h1.5v1.5h-1.5zM122.4 131.1h1.2v1.2h-1.2zM116.8 128.5h1.2v1.2h-1.2zM117.7 131.3h1.1v1.1h-1.1zM112.7 128.0h1.1v1.1h-1.1zM113.4 127.9h1.4v1.4h-1.4zM111.5 132.8h1.2v1.2h-1.2zM126.1 134.7h1.4v1.4h-1.4zM112.3 125.3h1.3v1.3h-1.3zM110.3 137.0h0.6v0.6h-0.6zM112.5 125.3h1.4v1.4h-1.4zM124.1 135.1h1.0v1.0h-1.0zM125.7 138.3h0.7v0.7h-0.7zM115.4 127.9h0.7v0.7h-0.7zM125.0 136.1h0.6v0.6h-0.6zM114.5 127.6h0.8v0.8h-0.8zM110.3 127.5h0.8v0.8h-0.8zM113.0 128.8h0.7v0.7h-0.7zM123.9 136.0h0.8v0.8h-0.8zM112.1 124.9h1.5v1.5h-1.5zM110.2 138.3h0.8v0.8h-0.8zM112.5 125.2h0.6v0.6h-0.6zM99.7 141.3h1.3v1.3h-1.3zM106.2 152.5h1.4v1.4h-1.4zM107.9 152.1h0.7v0.7h-0.7zM97.6 141.1h0.8v0.8h-0.8zM99.3 143.8h0.6v0.6h-0.6zM99.8 141.6h1.0v1.0h-1.0zM97.3 141.1h1.2v1.2h-1.2zM98.5 147.9h1.2v1.2h-1.2zM97.2 142.0h0.7v0.7h-0.7zM103.2 152.9h1.0v1.0h-1.0zM101.7 143.1h1.0v1.0h-1.0zM99.0 145.5h0.8v0.8h-0.8zM127.3 110.6h1.5v1.5h-1.5zM127.6 98.7h0.8v0.8h-0.8zM134.8 83.9h0.7v0.7h-0.7zM134.8 84.6h0.9v0.9h-0.9zM132.5 108.8h1.5v1.5h-1.5zM134.6 84.6h0.7v0.7h-0.7zM129.2 107.2h0.9v0.9h-0.9zM129.6 101.5h1.2v1.2h-1.2zM126.4 110.6h1.0v1.0h-1.0zM134.8 99.6h1.0v1.0h-1.0zM133.2 89.6h1.0v1.0h-1.0zM133.8 110.1h1.0v1.0h-1.0zM123.4 107.6h1.0v1.0h-1.0zM130.7 106.8h1.0v1.0h-1.0zM131.4 89.2h1.4v1.4h-1.4zM134.5 87.5h1.2v1.2h-1.2zM126.0 90.5h1.3v1.3h-1.3zM125.8 89.0h1.0v1.0h-1.0zM135.3 105.6h0.9v0.9h-0.9zM135.0 90.7h1.1v1.1h-1.1zM134.2 106.1h0.9v0.9h-0.9zM133.4 86.7h0.8v0.8h-0.8zM133.4 98.3h0.8v0.8h-0.8zM123.7 108.9h1.1v1.1h-1.1zM129.2 89.2h0.9v0.9h-0.9zM130.9 86.4h1.5v1.5h-1.5zM129.5 102.6h0.7v0.7h-0.7zM134.6 101.8h1.2v1.2h-1.2zM128.1 102.9h0.9v0.9h-0.9zM139.9 126.9h0.9v0.9h-0.9zM141.1 121.1h0.8v0.8h-0.8zM137.6 125.0h1.0v1.0h-1.0zM138.4 123.3h1.4v1.4h-1.4zM129.7 121.8h1.5v1.5h-1.5zM138.6 125.3h1.3v1.3h-1.3zM159.4 114.0h0.6v0.6h-0.6zM157.8 110.3h1.3v1.3h-1.3zM157.6 105.5h0.8v0.8h-0.8zM152.5 110.2h0.7v0.7h-0.7zM155.2 118.6h1.3v1.3h-1.3zM159.4 117.6h1.1v1.1h-1.1zM153.3 111.9h1.1v1.1h-1.1zM158.1 98.1h0.8v0.8h-0.8zM156.4 118.4h1.0v1.0h-1.0zM153.1 114.1h1.0v1.0h-1.0zM154.7 117.7h1.0v1.0h-1.0zM153.7 94.6h1.2v1.2h-1.2zM160.0 115.8h1.5v1.5h-1.5zM156.8 91.5h0.7v0.7h-0.7zM157.5 113.7h1.1v1.1h-1.1zM156.3 120.3h1.1v1.1h-1.1zM155.5 116.4h1.4v1.4h-1.4zM158.6 92.7h1.5v1.5h-1.5zM157.6 113.9h1.1v1.1h-1.1zM167.9 84.0h1.4v1.4h-1.4zM187.8 79.8h0.8v0.8h-0.8zM169.9 83.9h1.1v1.1h-1.1zM181.7 76.6h1.0v1.0h-1.0zM181.0 86.3h1.1v1.1h-1.1zM188.3 89.2h1.3v1.3h-1.3zM169.5 88.8h0.6v0.6h-0.6zM181.4 80.4h1.1v1.1h-1.1zM190.8 83.3h1.1v1.1h-1.1zM189.3 90.8h1.5v1.5h-1.5zM186.3 76.6h0.7v0.7h-0.7zM183.3 87.4h0.6v0.6h-0.6zM189.1 91.0h1.5v1.5h-1.5zM181.2 83.7h0.8v0.8h-0.8zM176.3 86.6h0.9v0.9h-0.9zM177.1 88.6h1.2v1.2h-1.2zM169.2 82.9h1.1v1.1h-1.1zM189.9 82.9h1.0v1.0h-1.0zM184.9 78.5h1.3v1.3h-1.3zM178.1 86.9h0.9v0.9h-0.9zM187.8 80.4h1.2v1.2h-1.2zM202.5 100.4h0.7v0.7h-0.7zM201.7 109.3h1.3v1.3h-1.3zM208.3 103.7h1.1v1.1h-1.1zM202.0 95.9h0.9v0.9h-0.9zM201.6 108.2h1.2v1.2h-1.2zM200.9 105.2h1.0v1.0h-1.0zM204.3 105.3h1.3v1.3h-1.3zM199.6 106.3h1.0v1.0h-1.0zM200.9 99.1h0.7v0.7h-0.7zM209.6 107.5h1.4v1.4h-1.4zM208.9 104.6h1.3v1.3h-1.3zM202.5 108.8h1.5v1.5h-1.5zM203.8 106.2h0.7v0.7h-0.7zM202.0 107.1h1.4v1.4h-1.4zM200.5 102.1h0.8v0.8h-0.8zM202.5 100.4h0.9v0.9h-0.9zM204.4 96.6h0.8v0.8h-0.8zM203.3 108.7h1.5v1.5h-1.5zM192.1 111.0h0.9v0.9h-0.9zM183.6 113.1h1.4v1.4h-1.4zM180.8 112.5h1.4v1.4h-1.4zM187.4 116.6h1.1v1.1h-1.1zM181.5 105.8h1.4v1.4h-1.4zM190.5 115.7h1.5v1.5h-1.5zM190.5 119.5h1.2v1.2h-1.2zM194.1 111.7h1.3v1.3h-1.3zM180.3 107.8h0.7v0.7h-0.7zM178.6 109.4h1.1v1.1h-1.1zM181.1 111.0h0.7v0.7h-0.7zM178.2 114.8h0.6v0.6h-0.6zM181.2 110.8h0.8v0.8h-0.8zM185.4 108.1h1.3v1.3h-1.3zM188.5 112.2h0.6v0.6h-0.6zM178.6 106.7h1.4v1.4h-1.4zM180.5 115.6h1.3v1.3h-1.3zM185.3 112.9h1.1v1.1h-1.1zM176.2 110.0h1.2v1.2h-1.2zM189.7 121.6h1.0v1.0h-1.0zM188.7 119.3h1.0v1.0h-1.0zM181.1 111.0h0.7v0.7h-0.7zM190.1 118.7h0.9v0.9h-0.9zM178.3 108.3h0.6v0.6h-0.6zM177.1 107.1h1.2v1.2h-1.2zM192.8 112.5h0.7v0.7h-0.7zM184.5 112.3h0.8v0.8h-0.8zM183.9 110.6h0.9v0.9h-0.9zM178.6 104.6h1.5v1.5h-1.5zM177.5 109.1h0.8v0.8h-0.8zM183.6 108.3h1.2v1.2h-1.2zM181.7 112.1h0.8v0.8h-0.8zM169.9 137.8h0.9v0.9h-0.9zM171.7 135.4h1.4v1.4h-1.4zM169.4 139.4h0.9v0.9h-0.9zM175.1 134.3h0.9v0.9h-0.9zM175.1 132.2h0.8v0.8h-0.8zM175.8 131.8h1.1v1.1h-1.1zM176.2 134.5h1.0v1.0h-1.0zM192.7 141.5h0.6v0.6h-0.6zM196.8 139.8h1.1v1.1h-1.1zM193.8 143.2h1.0v1.0h-1.0zM195.5 144.9h1.4v1.4h-1.4zM188.0 140.1h0.7v0.7h-0.7zM190.5 141.6h1.1v1.1h-1.1zM200.2 143.8h1.0v1.0h-1.0zM190.7 142.3h0.9v0.9h-0.9zM201.2 139.7h1.2v1.2h-1.2zM197.0 139.5h1.5v1.5h-1.5zM192.4 141.4h1.2v1.2h-1.2zM198.3 136.9h0.6v0.6h-0.6zM198.0 144.1h0.9v0.9h-0.9zM191.1 147.6h0.7v0.7h-0.7zM202.3 135.2h0.8v0.8h-0.8zM195.0 139.2h0.9v0.9h-0.9zM192.5 143.4h1.5v1.5h-1.5zM191.9 139.6h0.7v0.7h-0.7zM197.4 141.9h0.7v0.7h-0.7zM190.9 139.5h0.9v0.9h-0.9zM199.7 143.8h0.9v0.9h-0.9zM198.3 136.5h0.6v0.6h-0.6zM193.6 137.5h1.5v1.5h-1.5zM195.0 138.3h0.7v0.7h-0.7zM193.8 141.6h0.6v0.6h-0.6zM189.4 142.3h0.6v0.6h-0.6zM195.5 138.9h1.5v1.5h-1.5zM196.4 140.1h1.3v1.3h-1.3zM197.6 138.1h1.2v1.2h-1.2zM220.5 109.4h1.1v1.1h-1.1zM231.0 102.2h1.1v1.1h-1.1zM222.2 104.0h0.7v0.7h-0.7zM230.4 109.6h0.7v0.7h-0.7zM223.7 101.5h1.4v1.4h-1.4zM230.5 112.5h0.8v0.8h-0.8zM229.8 109.5h1.4v1.4h-1.4zM224.9 106.6h0.7v0.7h-0.7zM225.0 112.4h0.7v0.7h-0.7zM223.9 101.5h0.7v0.7h-0.7zM230.7 111.3h1.4v1.4h-1.4zM222.3 124.8h0.6v0.6h-0.6zM221.0 125.1h0.7v0.7h-0.7zM219.2 122.5h0.8v0.8h-0.8zM217.9 118.9h0.6v0.6h-0.6zM221.6 125.4h0.8v0.8h-0.8zM218.3 127.6h0.7v0.7h-0.7zM220.8 120.9h0.9v0.9h-0.9zM221.5 123.6h1.4v1.4h-1.4zM216.0 126.6h1.1v1.1h-1.1zM221.6 123.8h0.9v0.9h-0.9zM216.5 124.7h1.2v1.2h-1.2zM219.4 124.1h1.1v1.1h-1.1zM221.3 141.6h1.5v1.5h-1.5zM220.6 137.0h1.2v1.2h-1.2zM219.5 135.2h1.1v1.1h-1.1zM219.9 140.5h1.5v1.5h-1.5zM220.7 136.4h1.1v1.1h-1.1zM220.6 136.6h1.1v1.1h-1.1zM219.6 134.3h0.8v0.8h-0.8zM225.3 144.1h0.6v0.6h-0.6zM219.2 136.8h1.2v1.2h-1.2zM235.7 142.6h1.4v1.4h-1.4zM233.5 147.7h1.0v1.0h-1.0zM231.5 150.5h0.8v0.8h-0.8zM241.8 145.6h1.2v1.2h-1.2zM236.0 151.6h1.2v1.2h-1.2zM238.0 147.9h0.9v0.9h-0.9zM234.4 149.0h0.6v0.6h-0.6zM231.3 151.7h1.0v1.0h-1.0zM234.7 147.3h0.6v0.6h-0.6zM68.0 188.3h1.4v1.4h-1.4zM67.2 187.0h0.7v0.7h-0.7zM71.8 187.6h1.1v1.1h-1.1zM66.4 186.1h0.7v0.7h-0.7zM70.5 187.6h0.7v0.7h-0.7zM72.9 187.9h1.2v1.2h-1.2zM61.5 183.1h1.3v1.3h-1.3zM87.6 198.1h1.1v1.1h-1.1zM86.1 197.5h1.3v1.3h-1.3zM83.9 197.3h1.5v1.5h-1.5zM90.9 195.0h0.6v0.6h-0.6zM89.6 198.4h0.8v0.8h-0.8zM89.0 201.3h0.8v0.8h-0.8zM90.0 198.8h1.1v1.1h-1.1zM86.4 197.6h1.4v1.4h-1.4zM78.9 206.4h1.0v1.0h-1.0zM82.0 208.3h0.9v0.9h-0.9zM81.3 206.9h1.1v1.1h-1.1zM90.2 199.3h0.6v0.6h-0.6zM87.3 205.9h0.9v0.9h-0.9zM86.5 202.7h1.1v1.1h-1.1zM88.2 197.3h1.1v1.1h-1.1zM86.0 197.1h1.4v1.4h-1.4zM87.2 207.7h0.6v0.6h-0.6zM89.5 201.4h1.4v1.4h-1.4zM85.0 195.0h1.2v1.2h-1.2zM89.4 198.6h1.1v1.1h-1.1zM80.4 203.1h1.0v1.0h-1.0zM99.3 229.0h1.5v1.5h-1.5zM95.9 232.3h1.1v1.1h-1.1zM96.2 235.3h0.9v0.9h-0.9zM95.5 229.7h1.2v1.2h-1.2zM98.8 237.1h1.4v1.4h-1.4zM97.2 235.0h0.6v0.6h-0.6zM93.3 233.2h1.4v1.4h-1.4zM99.0 238.1h0.7v0.7h-0.7zM99.2 226.6h0.9v0.9h-0.9zM99.4 228.0h1.5v1.5h-1.5zM100.8 232.8h1.5v1.5h-1.5zM98.4 226.9h0.8v0.8h-0.8zM97.3 225.9h1.0v1.0h-1.0zM95.4 236.4h1.0v1.0h-1.0zM94.3 238.3h1.4v1.4h-1.4zM98.5 235.8h0.9v0.9h-0.9zM95.4 229.8h1.3v1.3h-1.3zM95.3 227.5h1.4v1.4h-1.4zM97.1 226.1h1.4v1.4h-1.4zM96.2 235.3h1.0v1.0h-1.0zM94.1 236.3h1.0v1.0h-1.0zM101.6 218.7h1.2v1.2h-1.2zM98.8 223.8h0.8v0.8h-0.8zM95.5 237.7h1.4v1.4h-1.4zM104.8 186.2h1.4v1.4h-1.4zM110.2 174.6h0.8v0.8h-0.8zM108.9 183.0h0.8v0.8h-0.8zM111.9 177.2h1.2v1.2h-1.2zM108.1 188.4h1.4v1.4h-1.4zM111.5 173.3h0.6v0.6h-0.6zM112.3 180.0h1.1v1.1h-1.1zM113.3 174.8h0.8v0.8h-0.8zM111.3 175.1h0.8v0.8h-0.8zM109.9 172.5h0.7v0.7h-0.7zM112.1 174.5h0.7v0.7h-0.7zM108.6 183.5h0.9v0.9h-0.9zM112.6 173.4h1.4v1.4h-1.4zM110.2 172.6h1.4v1.4h-1.4zM107.8 174.8h0.6v0.6h-0.6zM107.2 173.0h1.5v1.5h-1.5zM112.0 178.9h1.2v1.2h-1.2zM104.2 181.8h1.2v1.2h-1.2zM111.2 172.9h1.3v1.3h-1.3zM99.2 168.2h1.0v1.0h-1.0zM106.8 166.0h1.4v1.4h-1.4zM118.6 206.6h1.5v1.5h-1.5zM128.4 207.9h1.5v1.5h-1.5zM122.9 199.0h1.3v1.3h-1.3zM120.7 207.9h1.5v1.5h-1.5zM123.9 200.9h0.9v0.9h-0.9zM127.0 188.3h1.3v1.3h-1.3zM128.5 188.6h1.5v1.5h-1.5zM122.2 189.6h0.9v0.9h-0.9zM123.2 208.0h1.0v1.0h-1.0zM122.5 190.5h1.2v1.2h-1.2zM122.0 207.8h1.5v1.5h-1.5zM129.7 190.8h1.2v1.2h-1.2zM117.4 206.0h1.2v1.2h-1.2zM128.9 191.7h1.2v1.2h-1.2zM127.2 205.3h0.9v0.9h-0.9zM117.7 206.4h1.2v1.2h-1.2zM125.7 205.1h1.5v1.5h-1.5zM123.6 205.9h1.3v1.3h-1.3zM115.9 206.2h1.0v1.0h-1.0zM121.5 207.2h0.8v0.8h-0.8zM116.3 200.8h0.8v0.8h-0.8zM116.1 194.1h1.2v1.2h-1.2zM152.4 199.5h1.0v1.0h-1.0zM161.3 209.1h0.8v0.8h-0.8zM152.8 195.2h1.4v1.4h-1.4zM155.6 198.9h1.5v1.5h-1.5zM161.9 204.0h0.8v0.8h-0.8zM149.7 203.4h0.9v0.9h-0.9zM154.4 207.8h1.4v1.4h-1.4zM155.5 200.0h1.4v1.4h-1.4zM162.6 203.6h1.2v1.2h-1.2zM150.3 195.0h1.5v1.5h-1.5zM155.9 203.9h0.7v0.7h-0.7zM155.6 194.5h0.8v0.8h-0.8zM153.7 205.6h1.3v1.3h-1.3zM156.8 197.5h0.8v0.8h-0.8zM150.9 197.9h0.9v0.9h-0.9zM153.4 203.6h1.0v1.0h-1.0zM159.7 206.7h1.4v1.4h-1.4zM150.5 198.2h1.4v1.4h-1.4zM153.2 204.9h1.1v1.1h-1.1zM162.2 202.9h1.4v1.4h-1.4zM154.5 198.2h1.2v1.2h-1.2zM156.0 196.1h1.1v1.1h-1.1zM155.6 205.7h0.8v0.8h-0.8zM188.4 181.3h0.9v0.9h-0.9zM187.1 183.7h1.2v1.2h-1.2zM186.5 180.8h1.2v1.2h-1.2zM182.6 185.3h0.7v0.7h-0.7zM186.1 180.5h1.3v1.3h-1.3zM185.8 180.4h1.5v1.5h-1.5zM181.5 187.8h0.8v0.8h-0.8zM178.0 186.4h0.7v0.7h-0.7zM189.9 176.9h1.0v1.0h-1.0zM180.3 181.3h1.1v1.1h-1.1zM182.7 186.0h1.4v1.4h-1.4zM177.9 184.0h1.3v1.3h-1.3zM182.5 191.0h0.7v0.7h-0.7zM189.0 188.5h0.9v0.9h-0.9zM186.3 183.6h1.3v1.3h-1.3zM180.6 188.7h1.1v1.1h-1.1zM182.6 178.1h0.7v0.7h-0.7zM185.9 180.4h0.6v0.6h-0.6zM139.5 245.7h1.4v1.4h-1.4zM135.2 236.8h1.3v1.3h-1.3zM133.4 238.0h1.1v1.1h-1.1zM140.6 239.1h1.3v1.3h-1.3zM133.7 239.0h1.0v1.0h-1.0zM133.7 237.9h1.1v1.1h-1.1zM135.4 239.3h1.3v1.3h-1.3zM150.6 243.5h0.7v0.7h-0.7zM134.1 245.2h1.1v1.1h-1.1zM146.6 244.8h0.7v0.7h-0.7zM138.5 244.7h1.4v1.4h-1.4zM140.0 239.6h0.6v0.6h-0.6zM146.5 246.7h1.2v1.2h-1.2zM136.8 238.7h1.1v1.1h-1.1zM160.2 240.4h1.4v1.4h-1.4zM155.9 242.3h1.5v1.5h-1.5zM155.4 239.9h1.5v1.5h-1.5zM158.6 245.1h1.0v1.0h-1.0zM157.5 245.7h0.9v0.9h-0.9zM159.0 244.5h1.2v1.2h-1.2zM161.9 242.6h1.0v1.0h-1.0zM162.9 248.3h1.0v1.0h-1.0zM156.5 239.8h0.8v0.8h-0.8zM170.1 236.6h1.2v1.2h-1.2zM171.2 233.7h0.7v0.7h-0.7zM172.1 238.1h1.4v1.4h-1.4zM172.8 234.9h1.0v1.0h-1.0zM168.1 235.1h1.1v1.1h-1.1zM169.1 236.4h1.3v1.3h-1.3zM171.2 234.4h0.8v0.8h-0.8zM119.9 234.4h1.1v1.1h-1.1zM122.8 229.8h0.6v0.6h-0.6zM122.1 230.0h1.3v1.3h-1.3zM120.1 236.1h1.4v1.4h-1.4zM178.0 178.6h0.8v0.8h-0.8zM184.6 180.7h1.2v1.2h-1.2zM178.7 175.8h1.5v1.5h-1.5zM194.6 181.0h1.0v1.0h-1.0zM185.6 180.7h0.9v0.9h-0.9zM190.2 182.0h0.9v0.9h-0.9zM183.5 183.8h1.4v1.4h-1.4zM186.7 181.2h1.4v1.4h-1.4zM186.5 182.7h1.1v1.1h-1.1zM181.9 181.3h1.4v1.4h-1.4zM184.5 179.5h0.8v0.8h-0.8zM185.2 178.0h1.3v1.3h-1.3zM190.7 179.0h0.8v0.8h-0.8zM189.2 186.1h1.5v1.5h-1.5zM191.4 190.5h0.8v0.8h-0.8zM191.1 186.2h1.0v1.0h-1.0zM187.6 189.1h1.0v1.0h-1.0zM193.4 185.9h0.6v0.6h-0.6zM194.6 186.5h1.3v1.3h-1.3zM198.2 168.9h1.1v1.1h-1.1zM199.1 165.4h1.0v1.0h-1.0zM193.0 166.5h0.8v0.8h-0.8zM199.7 167.9h1.3v1.3h-1.3zM198.8 169.2h0.7v0.7h-0.7zM200.6 168.0h0.9v0.9h-0.9zM199.9 167.2h1.0v1.0h-1.0zM199.3 168.5h1.1v1.1h-1.1zM201.3 168.0h0.7v0.7h-0.7zM208.0 184.6h0.8v0.8h-0.8zM213.7 180.3h1.2v1.2h-1.2zM211.6 186.0h1.2v1.2h-1.2zM217.4 188.8h0.8v0.8h-0.8zM219.0 190.1h1.4v1.4h-1.4zM216.5 181.9h1.1v1.1h-1.1zM218.9 187.4h1.1v1.1h-1.1zM212.3 190.1h1.3v1.3h-1.3zM213.8 187.2h0.7v0.7h-0.7zM213.5 179.7h0.7v0.7h-0.7zM212.4 181.2h0.6v0.6h-0.6zM219.0 189.3h0.8v0.8h-0.8zM221.8 187.4h0.9v0.9h-0.9zM217.0 182.9h0.9v0.9h-0.9zM219.2 184.5h1.4v1.4h-1.4zM220.6 199.9h1.0v1.0h-1.0zM213.6 199.9h0.6v0.6h-0.6zM209.2 200.5h1.3v1.3h-1.3zM212.8 198.7h1.4v1.4h-1.4zM217.3 194.3h1.0v1.0h-1.0zM219.2 197.2h1.4v1.4h-1.4zM210.0 196.4h1.2v1.2h-1.2zM211.7 197.9h1.2v1.2h-1.2zM211.3 215.6h0.9v0.9h-0.9zM215.9 215.4h0.6v0.6h-0.6zM219.2 206.4h1.1v1.1h-1.1zM212.5 217.9h1.0v1.0h-1.0zM216.9 207.6h0.7v0.7h-0.7zM214.9 203.8h1.4v1.4h-1.4zM218.7 215.7h1.1v1.1h-1.1zM216.0 210.2h0.7v0.7h-0.7zM217.7 206.8h0.8v0.8h-0.8zM213.5 204.0h1.0v1.0h-1.0zM210.2 214.7h1.3v1.3h-1.3zM209.2 207.9h0.6v0.6h-0.6zM210.5 218.1h0.9v0.9h-0.9zM207.8 211.8h1.3v1.3h-1.3zM217.3 210.2h0.8v0.8h-0.8zM209.0 212.2h0.7v0.7h-0.7zM213.4 214.3h1.4v1.4h-1.4zM210.8 216.6h0.6v0.6h-0.6zM227.8 164.6h1.0v1.0h-1.0zM229.2 163.8h1.0v1.0h-1.0zM220.8 155.0h1.4v1.4h-1.4zM221.3 163.2h1.2v1.2h-1.2zM223.2 158.4h1.4v1.4h-1.4zM226.5 158.9h1.0v1.0h-1.0zM228.3 163.3h0.8v0.8h-0.8zM223.8 155.6h0.6v0.6h-0.6zM225.9 164.2h0.7v0.7h-0.7zM224.9 162.5h0.7v0.7h-0.7zM230.4 163.1h1.5v1.5h-1.5zM225.8 159.8h1.1v1.1h-1.1zM228.2 163.0h1.3v1.3h-1.3zM195.2 225.4h0.8v0.8h-0.8zM129.4 84.9h1.2v1.2h-1.2zM129.7 91.8h1.2v1.2h-1.2zM129.1 95.1h1.2v1.2h-1.2zM128.3 98.7h1.2v1.2h-1.2zM132.1 103.7h1.2v1.2h-1.2zM131.3 108.4h1.2v1.2h-1.2zM131.9 112.6h1.2v1.2h-1.2zM130.5 120.6h1.2v1.2h-1.2zM154.8 85.6h1.2v1.2h-1.2zM157.3 88.0h1.2v1.2h-1.2zM157.4 90.1h1.2v1.2h-1.2zM154.7 96.6h1.2v1.2h-1.2zM156.5 104.3h1.2v1.2h-1.2zM153.7 108.8h1.2v1.2h-1.2zM154.5 112.4h1.2v1.2h-1.2zM158.2 122.1h1.2v1.2h-1.2z" fill="#a04f16"/><path d="M100.6 81.3h1.4v1.4h-1.4zM107.2 79.9h0.8v0.8h-0.8zM93.8 89.3h0.8v0.8h-0.8zM98.1 85.5h1.0v1.0h-1.0zM100.8 81.9h1.3v1.3h-1.3zM104.1 83.8h1.1v1.1h-1.1zM105.8 84.5h1.1v1.1h-1.1zM95.9 84.3h0.9v0.9h-0.9zM104.3 86.3h0.7v0.7h-0.7zM102.8 82.0h0.6v0.6h-0.6zM103.6 83.4h1.0v1.0h-1.0zM112.6 87.1h1.1v1.1h-1.1zM112.0 85.2h1.0v1.0h-1.0zM109.4 88.4h0.6v0.6h-0.6zM112.4 85.9h0.7v0.7h-0.7zM107.4 89.2h1.0v1.0h-1.0zM108.7 88.2h1.4v1.4h-1.4zM84.9 113.9h1.3v1.3h-1.3zM74.0 113.1h1.2v1.2h-1.2zM86.7 106.2h0.6v0.6h-0.6zM93.6 105.1h1.4v1.4h-1.4zM87.5 109.8h1.3v1.3h-1.3zM71.7 113.4h0.7v0.7h-0.7zM83.9 108.9h1.5v1.5h-1.5zM72.4 111.0h1.2v1.2h-1.2zM71.7 112.5h1.5v1.5h-1.5zM84.9 107.8h1.3v1.3h-1.3zM92.0 104.6h1.0v1.0h-1.0zM89.3 100.9h1.3v1.3h-1.3zM89.0 102.3h1.2v1.2h-1.2zM88.3 106.1h1.3v1.3h-1.3zM83.7 112.6h1.4v1.4h-1.4zM71.7 105.8h1.3v1.3h-1.3zM78.3 126.8h0.8v0.8h-0.8zM80.2 124.6h1.3v1.3h-1.3zM74.8 120.4h0.7v0.7h-0.7zM79.2 126.6h0.9v0.9h-0.9zM76.3 117.5h0.9v0.9h-0.9zM66.7 148.4h1.1v1.1h-1.1zM67.8 148.0h1.4v1.4h-1.4zM57.4 148.4h1.2v1.2h-1.2zM66.9 145.6h1.4v1.4h-1.4zM123.0 131.3h1.4v1.4h-1.4zM124.3 129.4h1.5v1.5h-1.5zM118.2 128.0h1.4v1.4h-1.4zM118.9 124.2h1.1v1.1h-1.1zM118.5 126.1h1.1v1.1h-1.1zM125.6 129.0h0.7v0.7h-0.7zM124.5 138.2h1.4v1.4h-1.4zM111.4 138.1h0.9v0.9h-0.9zM120.5 127.2h1.4v1.4h-1.4zM124.4 136.3h1.2v1.2h-1.2zM114.4 132.7h1.1v1.1h-1.1zM110.7 125.7h0.6v0.6h-0.6zM123.8 138.5h1.1v1.1h-1.1zM111.5 126.8h0.6v0.6h-0.6zM110.3 128.1h1.3v1.3h-1.3zM124.2 136.7h1.1v1.1h-1.1zM110.6 154.5h0.8v0.8h-0.8zM109.0 154.5h1.1v1.1h-1.1zM106.2 152.7h0.7v0.7h-0.7zM99.3 151.0h0.8v0.8h-0.8zM99.2 148.2h1.0v1.0h-1.0zM106.3 153.4h1.1v1.1h-1.1zM98.5 143.1h1.1v1.1h-1.1zM103.1 145.5h1.4v1.4h-1.4zM108.6 154.1h0.8v0.8h-0.8zM132.1 105.4h0.7v0.7h-0.7zM132.2 87.9h0.8v0.8h-0.8zM124.3 104.3h1.0v1.0h-1.0zM124.2 86.0h1.2v1.2h-1.2zM126.7 88.6h1.4v1.4h-1.4zM134.5 103.5h0.7v0.7h-0.7zM132.8 84.9h1.4v1.4h-1.4zM131.6 93.5h1.2v1.2h-1.2zM123.9 107.1h1.4v1.4h-1.4zM123.6 113.7h1.2v1.2h-1.2zM136.3 103.4h1.1v1.1h-1.1zM132.9 105.2h0.7v0.7h-0.7zM132.6 90.0h1.3v1.3h-1.3zM138.1 103.6h0.9v0.9h-0.9zM134.8 103.6h1.3v1.3h-1.3zM134.2 84.8h1.0v1.0h-1.0zM132.9 90.1h0.9v0.9h-0.9zM129.1 100.7h1.2v1.2h-1.2zM129.7 84.5h0.6v0.6h-0.6zM139.2 120.5h1.1v1.1h-1.1zM135.6 125.6h0.9v0.9h-0.9zM135.6 124.5h0.8v0.8h-0.8zM129.2 121.6h0.6v0.6h-0.6zM137.7 123.8h0.7v0.7h-0.7zM138.4 122.1h1.3v1.3h-1.3zM139.0 122.8h0.6v0.6h-0.6zM130.9 123.2h0.7v0.7h-0.7zM138.8 120.0h1.3v1.3h-1.3zM129.1 117.6h0.9v0.9h-0.9zM128.4 124.0h1.4v1.4h-1.4zM136.2 125.6h1.0v1.0h-1.0zM155.3 118.8h0.9v0.9h-0.9zM157.9 107.6h1.4v1.4h-1.4zM158.2 95.1h1.4v1.4h-1.4zM159.5 118.0h0.6v0.6h-0.6zM157.6 116.3h1.3v1.3h-1.3zM156.6 111.3h0.8v0.8h-0.8zM156.7 109.3h0.9v0.9h-0.9zM155.5 114.3h1.5v1.5h-1.5zM154.5 92.2h0.7v0.7h-0.7zM158.7 96.1h0.8v0.8h-0.8zM157.5 93.0h0.7v0.7h-0.7zM158.6 116.0h0.8v0.8h-0.8zM153.6 115.6h0.8v0.8h-0.8zM168.2 84.6h0.8v0.8h-0.8zM180.1 80.3h1.1v1.1h-1.1zM189.0 76.1h0.7v0.7h-0.7zM182.3 76.2h1.4v1.4h-1.4zM188.3 78.0h0.6v0.6h-0.6zM184.3 82.8h0.7v0.7h-0.7zM187.8 78.4h1.0v1.0h-1.0zM189.5 87.2h1.0v1.0h-1.0zM186.4 80.8h1.2v1.2h-1.2zM185.2 87.9h0.8v0.8h-0.8zM183.6 83.9h1.0v1.0h-1.0zM189.8 91.1h0.6v0.6h-0.6zM165.9 86.3h0.8v0.8h-0.8zM181.4 78.5h1.2v1.2h-1.2zM176.6 87.4h0.7v0.7h-0.7zM190.1 82.0h0.9v0.9h-0.9zM179.1 88.6h0.9v0.9h-0.9zM211.7 103.5h1.5v1.5h-1.5zM203.0 107.5h1.1v1.1h-1.1zM198.4 102.3h0.8v0.8h-0.8zM198.7 96.7h1.2v1.2h-1.2zM187.2 120.0h0.9v0.9h-0.9zM184.4 105.3h1.2v1.2h-1.2zM177.9 115.4h0.7v0.7h-0.7zM185.1 117.6h0.7v0.7h-0.7zM188.0 110.9h1.3v1.3h-1.3zM189.9 117.1h1.0v1.0h-1.0zM184.2 110.1h0.7v0.7h-0.7zM179.6 108.9h1.5v1.5h-1.5zM176.8 104.6h0.6v0.6h-0.6zM181.9 103.2h1.2v1.2h-1.2zM182.9 110.1h0.8v0.8h-0.8zM194.3 115.2h0.9v0.9h-0.9zM182.0 110.9h1.4v1.4h-1.4zM182.1 106.8h1.1v1.1h-1.1zM193.2 117.0h1.0v1.0h-1.0zM186.1 119.5h0.7v0.7h-0.7zM180.9 108.2h0.7v0.7h-0.7zM189.0 114.2h0.8v0.8h-0.8zM175.4 112.7h1.1v1.1h-1.1zM181.0 107.0h0.9v0.9h-0.9zM175.9 111.1h0.6v0.6h-0.6zM181.4 109.6h1.2v1.2h-1.2zM173.0 133.2h1.0v1.0h-1.0zM174.0 133.7h1.2v1.2h-1.2zM172.0 136.6h0.8v0.8h-0.8zM173.3 139.2h1.3v1.3h-1.3zM195.3 140.8h1.1v1.1h-1.1zM200.1 146.6h0.9v0.9h-0.9zM197.8 146.4h0.8v0.8h-0.8zM200.8 145.1h0.7v0.7h-0.7zM192.2 140.8h1.0v1.0h-1.0zM190.5 146.0h0.8v0.8h-0.8zM193.2 143.5h1.3v1.3h-1.3zM220.4 109.7h0.9v0.9h-0.9zM226.3 108.6h0.9v0.9h-0.9zM221.8 112.3h0.8v0.8h-0.8zM225.1 108.9h1.2v1.2h-1.2zM231.3 112.1h1.5v1.5h-1.5zM231.0 109.6h1.5v1.5h-1.5zM230.8 111.5h1.5v1.5h-1.5zM228.5 109.0h1.3v1.3h-1.3zM226.8 110.9h1.3v1.3h-1.3zM231.9 110.9h1.3v1.3h-1.3zM218.1 118.7h0.6v0.6h-0.6zM217.9 124.2h1.5v1.5h-1.5zM221.7 123.6h1.1v1.1h-1.1zM220.6 137.5h1.4v1.4h-1.4zM219.6 133.0h1.0v1.0h-1.0zM219.1 137.3h1.3v1.3h-1.3zM221.6 134.4h1.3v1.3h-1.3zM218.6 137.1h1.2v1.2h-1.2zM219.8 134.9h0.9v0.9h-0.9zM219.2 136.2h1.3v1.3h-1.3zM231.5 148.8h1.5v1.5h-1.5zM238.4 148.2h1.3v1.3h-1.3zM233.9 151.2h1.0v1.0h-1.0zM236.2 147.5h1.1v1.1h-1.1zM240.7 153.2h1.4v1.4h-1.4zM236.7 144.1h0.9v0.9h-0.9zM239.9 148.0h0.6v0.6h-0.6zM232.5 148.0h1.4v1.4h-1.4zM231.7 151.8h1.5v1.5h-1.5zM234.4 148.5h0.9v0.9h-0.9zM236.7 149.6h0.8v0.8h-0.8zM225.7 146.5h0.7v0.7h-0.7zM60.8 185.1h1.1v1.1h-1.1zM61.1 184.7h1.3v1.3h-1.3zM71.3 186.0h1.4v1.4h-1.4zM69.6 188.8h0.8v0.8h-0.8zM67.4 187.2h0.9v0.9h-0.9zM72.9 186.9h1.2v1.2h-1.2zM60.6 183.1h0.7v0.7h-0.7zM70.9 184.3h0.9v0.9h-0.9zM88.2 200.3h0.8v0.8h-0.8zM91.8 198.4h1.4v1.4h-1.4zM92.0 199.2h0.9v0.9h-0.9zM91.7 201.5h1.3v1.3h-1.3zM85.3 203.2h1.4v1.4h-1.4zM90.1 201.2h1.3v1.3h-1.3zM94.3 197.2h1.0v1.0h-1.0zM87.8 198.9h0.9v0.9h-0.9zM89.9 196.8h1.2v1.2h-1.2zM86.4 205.0h1.0v1.0h-1.0zM88.5 199.1h0.9v0.9h-0.9zM89.3 198.9h0.6v0.6h-0.6zM87.0 205.7h0.9v0.9h-0.9zM83.5 203.3h0.9v0.9h-0.9zM85.5 198.1h1.2v1.2h-1.2zM87.2 197.5h0.7v0.7h-0.7zM86.4 201.7h0.7v0.7h-0.7zM87.7 201.6h1.3v1.3h-1.3zM78.6 207.2h1.1v1.1h-1.1zM90.9 199.3h1.4v1.4h-1.4zM100.1 232.6h1.2v1.2h-1.2zM102.4 232.4h1.3v1.3h-1.3zM93.9 234.4h1.3v1.3h-1.3zM98.6 226.1h0.6v0.6h-0.6zM96.4 234.1h0.9v0.9h-0.9zM93.2 233.0h0.8v0.8h-0.8zM102.2 233.8h0.7v0.7h-0.7zM100.8 220.8h1.4v1.4h-1.4zM97.3 226.7h0.7v0.7h-0.7zM98.5 234.4h0.9v0.9h-0.9zM98.7 220.5h0.9v0.9h-0.9zM108.3 183.8h0.8v0.8h-0.8zM109.6 182.8h0.9v0.9h-0.9zM106.2 180.4h1.0v1.0h-1.0zM107.1 184.1h0.7v0.7h-0.7zM108.0 185.9h0.8v0.8h-0.8zM106.2 181.0h1.3v1.3h-1.3zM110.3 173.3h1.2v1.2h-1.2zM110.4 178.1h1.3v1.3h-1.3zM114.5 175.6h0.9v0.9h-0.9zM106.0 182.0h1.3v1.3h-1.3zM107.3 173.9h1.0v1.0h-1.0zM108.4 182.7h1.2v1.2h-1.2zM106.7 175.5h0.9v0.9h-0.9zM106.7 167.0h1.1v1.1h-1.1zM104.5 169.5h1.4v1.4h-1.4zM99.3 171.4h1.0v1.0h-1.0zM103.1 169.4h1.0v1.0h-1.0zM108.7 167.7h0.6v0.6h-0.6zM105.8 167.4h0.9v0.9h-0.9zM104.4 169.0h0.9v0.9h-0.9zM116.1 205.2h1.2v1.2h-1.2zM128.4 190.6h0.9v0.9h-0.9zM127.6 192.6h1.3v1.3h-1.3zM126.7 207.1h1.0v1.0h-1.0zM125.4 205.2h1.2v1.2h-1.2zM127.4 191.3h1.3v1.3h-1.3zM122.4 202.3h1.1v1.1h-1.1zM117.2 206.6h1.3v1.3h-1.3zM123.5 199.5h1.0v1.0h-1.0zM121.5 206.5h0.9v0.9h-0.9zM123.6 200.8h1.2v1.2h-1.2zM126.6 208.1h0.8v0.8h-0.8zM130.1 192.2h0.7v0.7h-0.7zM127.4 190.5h1.4v1.4h-1.4zM155.4 203.6h1.3v1.3h-1.3zM157.0 199.3h1.4v1.4h-1.4zM149.8 195.9h0.7v0.7h-0.7zM157.8 203.8h1.1v1.1h-1.1zM151.9 198.6h1.1v1.1h-1.1zM149.6 201.7h0.8v0.8h-0.8zM152.2 202.2h1.5v1.5h-1.5zM160.3 205.2h0.8v0.8h-0.8zM151.6 195.3h1.2v1.2h-1.2zM152.5 195.6h0.7v0.7h-0.7zM163.2 202.9h0.8v0.8h-0.8zM152.2 197.4h0.7v0.7h-0.7zM158.9 205.4h1.5v1.5h-1.5zM190.0 180.5h0.7v0.7h-0.7zM183.3 186.7h1.2v1.2h-1.2zM186.1 181.5h1.4v1.4h-1.4zM180.1 178.3h1.3v1.3h-1.3zM185.7 180.1h1.0v1.0h-1.0zM186.9 183.4h1.4v1.4h-1.4zM183.4 179.7h0.9v0.9h-0.9zM179.7 189.7h1.2v1.2h-1.2zM184.7 188.1h1.2v1.2h-1.2zM186.2 181.4h1.0v1.0h-1.0zM134.6 243.8h0.9v0.9h-0.9zM133.0 238.7h1.2v1.2h-1.2zM142.6 243.4h1.0v1.0h-1.0zM141.2 242.9h0.9v0.9h-0.9zM150.9 247.6h0.8v0.8h-0.8zM139.9 244.6h0.8v0.8h-0.8zM133.8 239.3h1.3v1.3h-1.3zM135.6 247.1h0.7v0.7h-0.7zM140.9 237.7h1.4v1.4h-1.4zM134.3 239.4h0.9v0.9h-0.9zM137.2 241.7h0.6v0.6h-0.6zM134.5 238.5h0.8v0.8h-0.8zM160.6 245.6h0.8v0.8h-0.8zM158.3 244.6h1.5v1.5h-1.5zM161.3 241.7h1.2v1.2h-1.2zM160.1 243.7h1.0v1.0h-1.0zM169.5 235.7h1.0v1.0h-1.0zM171.0 237.0h1.2v1.2h-1.2zM172.2 236.2h1.1v1.1h-1.1zM121.8 235.0h0.6v0.6h-0.6zM119.4 230.1h1.3v1.3h-1.3zM121.3 235.3h1.2v1.2h-1.2zM121.5 235.5h0.8v0.8h-0.8zM180.3 180.5h0.8v0.8h-0.8zM186.1 179.9h1.0v1.0h-1.0zM187.0 176.8h1.3v1.3h-1.3zM185.3 180.5h1.1v1.1h-1.1zM177.7 176.1h0.9v0.9h-0.9zM187.2 183.7h1.5v1.5h-1.5zM183.5 181.8h1.4v1.4h-1.4zM185.4 184.0h0.7v0.7h-0.7zM182.7 180.6h0.9v0.9h-0.9zM186.7 182.2h0.7v0.7h-0.7zM191.7 189.7h1.0v1.0h-1.0zM189.8 188.8h0.8v0.8h-0.8zM191.2 186.9h1.1v1.1h-1.1zM200.1 163.4h1.1v1.1h-1.1zM198.1 167.6h0.7v0.7h-0.7zM199.7 163.3h0.8v0.8h-0.8zM199.0 170.7h1.0v1.0h-1.0zM198.7 165.1h0.6v0.6h-0.6zM198.8 165.5h1.0v1.0h-1.0zM196.7 164.6h1.3v1.3h-1.3zM211.9 183.8h1.1v1.1h-1.1zM222.7 186.3h1.4v1.4h-1.4zM220.6 184.6h1.1v1.1h-1.1zM211.7 185.6h1.1v1.1h-1.1zM218.1 186.2h1.0v1.0h-1.0zM218.1 187.8h1.1v1.1h-1.1zM210.2 190.4h0.9v0.9h-0.9zM212.7 184.7h1.5v1.5h-1.5zM215.9 186.9h0.7v0.7h-0.7zM219.7 181.7h1.2v1.2h-1.2zM217.3 182.3h1.5v1.5h-1.5zM225.2 189.5h1.0v1.0h-1.0zM206.0 179.6h1.1v1.1h-1.1zM211.3 184.2h1.1v1.1h-1.1zM225.2 188.9h1.3v1.3h-1.3zM217.2 189.1h1.1v1.1h-1.1zM216.4 180.8h0.8v0.8h-0.8zM210.6 199.8h0.7v0.7h-0.7zM217.7 200.9h1.4v1.4h-1.4zM211.2 197.3h0.9v0.9h-0.9zM210.3 199.8h0.7v0.7h-0.7zM210.8 198.3h1.2v1.2h-1.2zM211.4 199.4h0.7v0.7h-0.7zM212.0 216.8h1.4v1.4h-1.4zM204.6 210.7h0.9v0.9h-0.9zM209.0 216.0h0.8v0.8h-0.8zM221.8 213.5h1.1v1.1h-1.1zM215.4 217.3h1.4v1.4h-1.4zM218.4 214.9h1.2v1.2h-1.2zM217.3 214.9h0.7v0.7h-0.7zM208.8 211.9h1.1v1.1h-1.1zM214.2 214.7h0.7v0.7h-0.7zM211.5 212.8h0.7v0.7h-0.7zM213.6 213.2h1.3v1.3h-1.3zM215.1 210.1h0.6v0.6h-0.6zM205.6 209.6h0.9v0.9h-0.9zM219.3 215.8h1.2v1.2h-1.2zM206.2 208.6h1.4v1.4h-1.4zM209.7 214.3h1.3v1.3h-1.3zM211.0 218.3h0.8v0.8h-0.8zM224.5 160.3h1.4v1.4h-1.4zM235.2 165.2h1.4v1.4h-1.4zM233.1 165.6h1.4v1.4h-1.4zM230.8 155.1h1.0v1.0h-1.0zM226.3 155.4h1.4v1.4h-1.4zM224.5 161.3h1.1v1.1h-1.1zM221.0 161.5h1.0v1.0h-1.0zM223.2 160.0h1.1v1.1h-1.1zM224.6 159.5h0.8v0.8h-0.8zM222.8 157.8h0.6v0.6h-0.6zM225.2 159.1h1.5v1.5h-1.5zM225.0 161.9h0.7v0.7h-0.7zM224.0 160.3h1.1v1.1h-1.1zM222.4 159.7h1.0v1.0h-1.0zM223.9 156.0h1.4v1.4h-1.4zM227.3 156.8h0.9v0.9h-0.9zM229.6 162.5h1.1v1.1h-1.1zM195.6 224.5h0.8v0.8h-0.8zM197.1 229.0h0.9v0.9h-0.9zM198.8 223.0h1.3v1.3h-1.3zM199.7 228.2h0.6v0.6h-0.6zM194.1 225.4h0.8v0.8h-0.8zM194.2 225.2h1.4v1.4h-1.4zM198.6 228.2h1.0v1.0h-1.0z" fill="#e59545"/></g><circle cx="78.2" cy="170" r="18.3" fill="url(#sph)" stroke="#333" stroke-width="1.2"/><text x="78.8" y="171.8" text-anchor="middle" font-family="Liberation Serif, serif" font-size="14.5" fill="#111">&#916;<tspan font-style="italic">&#936;</tspan></text><path d="M82,82.6 L146.5,82.6" stroke="#111" stroke-width="1.5" fill="none"/><path d="M82.5,78.2 L82.5,87" stroke="#111" stroke-width="1.6"/><path d="M116,93.5 L132,93.5 Q147.5,94 147.5,112 L147.5,138" stroke="#111" stroke-width="1.6" fill="none"/><path d="M143.5,136 L151.5,136 L147.5,146 Z" fill="#111"/><path d="M159.5,147 L159.5,108 Q159.5,91.5 176,91.5 L197,91.5" stroke="#111" stroke-width="1.6" fill="none"/><path d="M196,87.5 L196,95.5 L206,91.5 Z" fill="#111"/><path d="M182,156 C212,157 235,166 235,196 L235,213" stroke="#111" stroke-width="1.6" fill="none"/><path d="M231,211 L239,211 L235,222 Z" fill="#111"/><path d="M110.5,46 Q150,78 182,50" stroke="#5e5e5e" stroke-width="1.7" fill="none"/><path d="M187.8,45.6 L178.5,48.8 L181.6,51.2 L183.4,54.8 Z" fill="#5c5c5c"/><text x="84.3" y="44.3" font-size="14.5" text-anchor="start" >ATP</text><text x="189.8" y="44.3" font-size="14.5" text-anchor="start" >ADP + P<tspan font-size="10" dy="3.5">i</tspan></text><text x="29.4" y="86.2" font-size="14.5" text-anchor="start" >Inactive</text><text x="209.7" y="80.2" font-size="14.5" text-anchor="start" >Transprotein</text><text x="209.7" y="94.4" font-size="14.5" text-anchor="start" >leak</text><text x="148.5" y="160.4" font-size="14.5" text-anchor="middle" >Proton-</text><text x="148.5" y="173.1" font-size="14.5" text-anchor="middle" >pumping</text><text x="235.7" y="238.3" font-size="14.5" text-anchor="middle" >Membrane</text><text x="235.7" y="252" font-size="14.5" text-anchor="middle" >leak</text><defs><filter id="hblur" x="-5%" y="-5%" width="110%" height="110%"><feGaussianBlur stdDeviation="0.7"/></filter><linearGradient id="cbar" x1="0" y1="0" x2="0" y2="1"><stop offset="0" stop-color="#e62a2a"/><stop offset="0.12" stop-color="#ec4a25"/><stop offset="0.24" stop-color="#f37a20"/><stop offset="0.34" stop-color="#f9a51a"/><stop offset="0.45" stop-color="#ffd61a"/><stop offset="0.55" stop-color="#f8e31f"/><stop offset="0.7" stop-color="#f3e440"/><stop offset="0.85" stop-color="#f7ec72"/><stop offset="1" stop-color="#fdf5a0"/></linearGradient></defs><rect x="361" y="68.5" width="7" height="123" fill="#c7bfb9"/><g filter="url(#hblur)"><rect x="417" y="124" width="4" height="4" fill="#fff9d1"/><rect x="417" y="128" width="4" height="4" fill="#fff191"/><rect x="417" y="132" width="4" height="4" fill="#ffe523"/><rect x="417" y="136" width="4" height="4" fill="#e8322a"/><rect x="417" y="140" width="4" height="4" fill="#e62c29"/><rect x="417" y="144" width="4" height="4" fill="#e52a28"/><rect x="417" y="148" width="4" height="4" fill="#e52a28"/><rect x="417" y="152" width="4" height="4" fill="#e62c29"/><rect x="417" y="156" width="4" height="4" fill="#fedd1a"/><rect x="417" y="160" width="4" height="4" fill="#ffef7e"/><rect x="417" y="164" width="4" height="4" fill="#e72e29"/><rect x="421" y="112" width="4" height="4" fill="#fff8c7"/><rect x="421" y="116" width="4" height="4" fill="#ffed69"/><rect x="421" y="120" width="4" height="4" fill="#f47722"/><rect x="421" y="124" width="4" height="4" fill="#e62c29"/><rect x="421" y="128" width="4" height="4" fill="#e52a28"/><rect x="421" y="132" width="4" height="4" fill="#e62c29"/><rect x="421" y="136" width="4" height="4" fill="#e82f2a"/><rect x="421" y="140" width="4" height="4" fill="#fcbf1b"/><rect x="421" y="144" width="4" height="4" fill="#ffec61"/><rect x="421" y="148" width="4" height="4" fill="#fffad5"/><rect x="425" y="104" width="4" height="4" fill="#fffbdc"/><rect x="425" y="108" width="4" height="4" fill="#fff39d"/><rect x="425" y="112" width="4" height="4" fill="#fdcd1b"/><rect x="425" y="116" width="4" height="4" fill="#e72f2a"/><rect x="425" y="120" width="4" height="4" fill="#e52a28"/><rect x="425" y="124" width="4" height="4" fill="#e62c29"/><rect x="425" y="128" width="4" height="4" fill="#f26923"/><rect x="425" y="132" width="4" height="4" fill="#ffe947"/><rect x="425" y="136" width="4" height="4" fill="#fff6b9"/><rect x="425" y="140" width="4" height="4" fill="#fffce4"/><rect x="429" y="100" width="4" height="4" fill="#fffbe0"/><rect x="429" y="104" width="4" height="4" fill="#fff088"/><rect x="429" y="108" width="4" height="4" fill="#fbb51c"/><rect x="429" y="112" width="4" height="4" fill="#e72d29"/><rect x="429" y="116" width="4" height="4" fill="#e52a28"/><rect x="429" y="120" width="4" height="4" fill="#e62d29"/><rect x="429" y="124" width="4" height="4" fill="#f68620"/><rect x="429" y="128" width="4" height="4" fill="#ffeb57"/><rect x="429" y="132" width="4" height="4" fill="#fff7c2"/><rect x="429" y="136" width="4" height="4" fill="#fffdee"/><rect x="433" y="100" width="4" height="4" fill="#fff295"/><rect x="433" y="104" width="4" height="4" fill="#fdc61b"/><rect x="433" y="108" width="4" height="4" fill="#e72e29"/><rect x="433" y="112" width="4" height="4" fill="#e52a28"/><rect x="433" y="116" width="4" height="4" fill="#e62c29"/><rect x="433" y="120" width="4" height="4" fill="#ec4a27"/><rect x="433" y="124" width="4" height="4" fill="#ffe41a"/><rect x="433" y="128" width="4" height="4" fill="#fff6bb"/><rect x="433" y="132" width="4" height="4" fill="#fffce9"/><rect x="437" y="96" width="4" height="4" fill="#fffad6"/><rect x="437" y="100" width="4" height="4" fill="#ffe733"/><rect x="437" y="104" width="4" height="4" fill="#e72f2a"/><rect x="437" y="108" width="4" height="4" fill="#e52a28"/><rect x="437" y="112" width="4" height="4" fill="#e52a28"/><rect x="437" y="116" width="4" height="4" fill="#e72e29"/><rect x="437" y="120" width="4" height="4" fill="#fcbb1c"/><rect x="437" y="124" width="4" height="4" fill="#fff4aa"/><rect x="437" y="128" width="4" height="4" fill="#fff9d1"/><rect x="437" y="132" width="4" height="4" fill="#fffce9"/><rect x="441" y="96" width="4" height="4" fill="#fff6b6"/><rect x="441" y="100" width="4" height="4" fill="#f9a01e"/><rect x="441" y="104" width="4" height="4" fill="#e62d29"/><rect x="441" y="108" width="4" height="4" fill="#e52a28"/><rect x="441" y="112" width="4" height="4" fill="#e62c29"/><rect x="441" y="116" width="4" height="4" fill="#f16424"/><rect x="441" y="120" width="4" height="4" fill="#ffe520"/><rect x="441" y="124" width="4" height="4" fill="#fff7c2"/><rect x="441" y="128" width="4" height="4" fill="#fffdeb"/><rect x="445" y="92" width="4" height="4" fill="#fffcea"/><rect x="445" y="96" width="4" height="4" fill="#fff3a3"/><rect x="445" y="100" width="4" height="4" fill="#e82f2a"/><rect x="445" y="104" width="4" height="4" fill="#e62b28"/><rect x="445" y="108" width="4" height="4" fill="#e52a28"/><rect x="445" y="112" width="4" height="4" fill="#e72d29"/><rect x="445" y="116" width="4" height="4" fill="#faa71d"/><rect x="445" y="120" width="4" height="4" fill="#fff190"/><rect x="445" y="124" width="4" height="4" fill="#fff8c8"/><rect x="445" y="128" width="4" height="4" fill="#fffded"/><rect x="449" y="92" width="4" height="4" fill="#fffbe2"/><rect x="449" y="96" width="4" height="4" fill="#ffeb5a"/><rect x="449" y="100" width="4" height="4" fill="#e72d29"/><rect x="449" y="104" width="4" height="4" fill="#e62b28"/><rect x="449" y="108" width="4" height="4" fill="#e52a28"/><rect x="449" y="112" width="4" height="4" fill="#e72f2a"/><rect x="449" y="116" width="4" height="4" fill="#fcc11b"/><rect x="449" y="120" width="4" height="4" fill="#fff5b0"/><rect x="449" y="124" width="4" height="4" fill="#fffce6"/><rect x="449" y="128" width="4" height="4" fill="#fffded"/><rect x="453" y="92" width="4" height="4" fill="#fffbdf"/><rect x="453" y="96" width="4" height="4" fill="#fdcd1b"/><rect x="453" y="100" width="4" height="4" fill="#e62c29"/><rect x="453" y="104" width="4" height="4" fill="#e52b28"/><rect x="453" y="108" width="4" height="4" fill="#e52a28"/><rect x="453" y="112" width="4" height="4" fill="#e8302a"/><rect x="453" y="116" width="4" height="4" fill="#fed31b"/><rect x="453" y="120" width="4" height="4" fill="#fff6b7"/><rect x="453" y="124" width="4" height="4" fill="#fffce8"/><rect x="457" y="92" width="4" height="4" fill="#fffbe0"/><rect x="457" y="96" width="4" height="4" fill="#f8971f"/><rect x="457" y="100" width="4" height="4" fill="#e62c29"/><rect x="457" y="104" width="4" height="4" fill="#e52a28"/><rect x="457" y="108" width="4" height="4" fill="#e52a28"/><rect x="457" y="112" width="4" height="4" fill="#ef5a25"/><rect x="457" y="116" width="4" height="4" fill="#ffe522"/><rect x="457" y="120" width="4" height="4" fill="#fff7bd"/><rect x="457" y="124" width="4" height="4" fill="#fffcea"/><rect x="461" y="92" width="4" height="4" fill="#fffbe1"/><rect x="461" y="96" width="4" height="4" fill="#f16524"/><rect x="461" y="100" width="4" height="4" fill="#e62c29"/><rect x="461" y="104" width="4" height="4" fill="#e52a28"/><rect x="461" y="108" width="4" height="4" fill="#e52b28"/><rect x="461" y="112" width="4" height="4" fill="#f37522"/><rect x="461" y="116" width="4" height="4" fill="#ffe738"/><rect x="461" y="120" width="4" height="4" fill="#fff8ca"/><rect x="461" y="124" width="4" height="4" fill="#fffdeb"/><rect x="465" y="96" width="4" height="4" fill="#fff4a7"/><rect x="465" y="100" width="4" height="4" fill="#e72e29"/><rect x="465" y="104" width="4" height="4" fill="#e52a28"/><rect x="465" y="108" width="4" height="4" fill="#e52b28"/><rect x="465" y="112" width="4" height="4" fill="#fcc11b"/><rect x="465" y="116" width="4" height="4" fill="#fff6b8"/><rect x="465" y="120" width="4" height="4" fill="#fffdec"/><rect x="469" y="108" width="4" height="4" fill="#f47b21"/><rect x="469" y="112" width="4" height="4" fill="#e52a28"/><rect x="469" y="116" width="4" height="4" fill="#e72e29"/><rect x="469" y="120" width="4" height="4" fill="#feda1a"/><rect x="469" y="124" width="4" height="4" fill="#ffef7d"/><rect x="469" y="128" width="4" height="4" fill="#fff9cc"/><rect x="473" y="112" width="4" height="4" fill="#fff6bb"/><rect x="473" y="116" width="4" height="4" fill="#e72e29"/><rect x="473" y="120" width="4" height="4" fill="#e52a28"/><rect x="473" y="124" width="4" height="4" fill="#ed4c27"/><rect x="473" y="128" width="4" height="4" fill="#fedd1a"/><rect x="473" y="132" width="4" height="4" fill="#ffe948"/><rect x="473" y="136" width="4" height="4" fill="#fff39b"/><rect x="473" y="140" width="4" height="4" fill="#fff9ce"/><rect x="473" y="144" width="4" height="4" fill="#fffded"/><rect x="477" y="116" width="4" height="4" fill="#fffce8"/><rect x="477" y="120" width="4" height="4" fill="#fdc41b"/><rect x="477" y="124" width="4" height="4" fill="#e52a28"/><rect x="477" y="128" width="4" height="4" fill="#e62c29"/><rect x="477" y="132" width="4" height="4" fill="#fbb31c"/><rect x="477" y="136" width="4" height="4" fill="#ffe41b"/><rect x="477" y="140" width="4" height="4" fill="#ffe738"/><rect x="477" y="144" width="4" height="4" fill="#ffed68"/><rect x="477" y="148" width="4" height="4" fill="#fff6b7"/><rect x="477" y="152" width="4" height="4" fill="#fffce4"/><rect x="477" y="156" width="4" height="4" fill="#fffdec"/><rect x="481" y="124" width="4" height="4" fill="#fff6bb"/><rect x="481" y="128" width="4" height="4" fill="#e72e29"/><rect x="481" y="132" width="4" height="4" fill="#e52a28"/><rect x="481" y="136" width="4" height="4" fill="#eb4128"/><rect x="481" y="140" width="4" height="4" fill="#fed81a"/><rect x="481" y="144" width="4" height="4" fill="#ffe21a"/><rect x="481" y="148" width="4" height="4" fill="#ffe51f"/><rect x="481" y="152" width="4" height="4" fill="#ffec60"/><rect x="481" y="156" width="4" height="4" fill="#fff8c9"/><rect x="481" y="160" width="4" height="4" fill="#fffce7"/><rect x="485" y="128" width="4" height="4" fill="#fffad6"/><rect x="485" y="132" width="4" height="4" fill="#f47921"/><rect x="485" y="136" width="4" height="4" fill="#e52a28"/><rect x="485" y="140" width="4" height="4" fill="#e72d29"/><rect x="485" y="144" width="4" height="4" fill="#fcbc1c"/><rect x="485" y="148" width="4" height="4" fill="#fdce1b"/><rect x="485" y="152" width="4" height="4" fill="#fed31b"/><rect x="485" y="156" width="4" height="4" fill="#ffe01a"/><rect x="485" y="160" width="4" height="4" fill="#fff7c1"/><rect x="489" y="132" width="4" height="4" fill="#fffada"/><rect x="489" y="136" width="4" height="4" fill="#fed21b"/><rect x="489" y="140" width="4" height="4" fill="#e52a28"/><rect x="489" y="144" width="4" height="4" fill="#e52a28"/><rect x="489" y="148" width="4" height="4" fill="#f89c1e"/><rect x="489" y="152" width="4" height="4" fill="#faa71d"/><rect x="489" y="156" width="4" height="4" fill="#f78f1f"/><rect x="489" y="160" width="4" height="4" fill="#ffea54"/><rect x="493" y="136" width="4" height="4" fill="#fffce2"/><rect x="493" y="140" width="4" height="4" fill="#ffe943"/><rect x="493" y="144" width="4" height="4" fill="#e52a28"/><rect x="493" y="148" width="4" height="4" fill="#e52a28"/><rect x="493" y="152" width="4" height="4" fill="#f7901f"/><rect x="493" y="156" width="4" height="4" fill="#f05e24"/><rect x="493" y="160" width="4" height="4" fill="#fdc61b"/><rect x="497" y="140" width="4" height="4" fill="#fffce7"/><rect x="497" y="144" width="4" height="4" fill="#ffde1a"/><rect x="497" y="148" width="4" height="4" fill="#e52a28"/><rect x="497" y="152" width="4" height="4" fill="#e72e29"/><rect x="497" y="156" width="4" height="4" fill="#ed4b27"/><rect x="497" y="160" width="4" height="4" fill="#fbb11c"/><rect x="501" y="144" width="4" height="4" fill="#fffce7"/><rect x="501" y="148" width="4" height="4" fill="#f47c21"/><rect x="501" y="152" width="4" height="4" fill="#e52a28"/><rect x="501" y="156" width="4" height="4" fill="#e8302a"/><rect x="501" y="160" width="4" height="4" fill="#f99e1e"/><rect x="505" y="144" width="4" height="4" fill="#fffdee"/><rect x="505" y="148" width="4" height="4" fill="#fffad3"/><rect x="505" y="152" width="4" height="4" fill="#e62c29"/><rect x="505" y="156" width="4" height="4" fill="#e52a28"/><rect x="505" y="160" width="4" height="4" fill="#f37522"/><rect x="509" y="148" width="4" height="4" fill="#fffded"/><rect x="509" y="152" width="4" height="4" fill="#fbb61c"/><rect x="509" y="156" width="4" height="4" fill="#e52a28"/><rect x="509" y="160" width="4" height="4" fill="#ef5825"/><rect x="513" y="140" width="4" height="4" fill="#fffce9"/><rect x="513" y="144" width="4" height="4" fill="#ffef80"/><rect x="513" y="148" width="4" height="4" fill="#fcc21b"/><rect x="513" y="152" width="4" height="4" fill="#f9a01e"/><rect x="513" y="156" width="4" height="4" fill="#e52a28"/><rect x="513" y="160" width="4" height="4" fill="#e72f2a"/><rect x="517" y="112" width="4" height="4" fill="#fffce9"/><rect x="517" y="116" width="4" height="4" fill="#fff8c8"/><rect x="517" y="120" width="4" height="4" fill="#fff5af"/><rect x="517" y="124" width="4" height="4" fill="#fdcd1b"/><rect x="517" y="128" width="4" height="4" fill="#e72e29"/><rect x="517" y="132" width="4" height="4" fill="#e52a28"/><rect x="517" y="136" width="4" height="4" fill="#e52b28"/><rect x="517" y="140" width="4" height="4" fill="#e72e29"/><rect x="517" y="144" width="4" height="4" fill="#f7901f"/><rect x="517" y="148" width="4" height="4" fill="#fff299"/><rect x="517" y="152" width="4" height="4" fill="#fff9cd"/><rect x="521" y="104" width="4" height="4" fill="#fffdee"/><rect x="521" y="108" width="4" height="4" fill="#fff6ba"/><rect x="521" y="112" width="4" height="4" fill="#fff5af"/><rect x="521" y="116" width="4" height="4" fill="#fcb81c"/><rect x="521" y="120" width="4" height="4" fill="#e72d29"/><rect x="521" y="124" width="4" height="4" fill="#e52a28"/><rect x="521" y="128" width="4" height="4" fill="#e72d29"/><rect x="521" y="132" width="4" height="4" fill="#fbb21c"/><rect x="521" y="136" width="4" height="4" fill="#fff3a2"/><rect x="521" y="140" width="4" height="4" fill="#fffce7"/><rect x="525" y="100" width="4" height="4" fill="#fffce7"/><rect x="525" y="104" width="4" height="4" fill="#fff6b6"/><rect x="525" y="108" width="4" height="4" fill="#ffef77"/><rect x="525" y="112" width="4" height="4" fill="#e8322a"/><rect x="525" y="116" width="4" height="4" fill="#e52b28"/><rect x="525" y="120" width="4" height="4" fill="#e52a28"/><rect x="525" y="124" width="4" height="4" fill="#ec4527"/><rect x="525" y="128" width="4" height="4" fill="#ffe83e"/><rect x="525" y="132" width="4" height="4" fill="#fff7c0"/><rect x="525" y="136" width="4" height="4" fill="#fffcea"/><rect x="529" y="100" width="4" height="4" fill="#fff7bf"/><rect x="529" y="104" width="4" height="4" fill="#fff294"/><rect x="529" y="108" width="4" height="4" fill="#ec4827"/><rect x="529" y="112" width="4" height="4" fill="#e62b28"/><rect x="529" y="116" width="4" height="4" fill="#e52a28"/><rect x="529" y="120" width="4" height="4" fill="#e8302a"/><rect x="529" y="124" width="4" height="4" fill="#ffe732"/><rect x="529" y="128" width="4" height="4" fill="#fff6b8"/><rect x="529" y="132" width="4" height="4" fill="#fffdec"/><rect x="533" y="96" width="4" height="4" fill="#fffbda"/><rect x="533" y="100" width="4" height="4" fill="#fff8c6"/><rect x="533" y="104" width="4" height="4" fill="#faa61d"/><rect x="533" y="108" width="4" height="4" fill="#e62d29"/><rect x="533" y="112" width="4" height="4" fill="#e52a28"/><rect x="533" y="116" width="4" height="4" fill="#e62d29"/><rect x="533" y="120" width="4" height="4" fill="#fed11b"/><rect x="533" y="124" width="4" height="4" fill="#fff086"/><rect x="533" y="128" width="4" height="4" fill="#fffded"/><rect x="533" y="132" width="4" height="4" fill="#fffdee"/><rect x="537" y="96" width="4" height="4" fill="#fffad3"/><rect x="537" y="100" width="4" height="4" fill="#ffeb5a"/><rect x="537" y="104" width="4" height="4" fill="#e72e29"/><rect x="537" y="108" width="4" height="4" fill="#e52b28"/><rect x="537" y="112" width="4" height="4" fill="#e52a28"/><rect x="537" y="116" width="4" height="4" fill="#ea3b29"/><rect x="537" y="120" width="4" height="4" fill="#ffe520"/><rect x="537" y="124" width="4" height="4" fill="#fffad6"/><rect x="537" y="128" width="4" height="4" fill="#fffdee"/><rect x="541" y="96" width="4" height="4" fill="#fff8ca"/><rect x="541" y="100" width="4" height="4" fill="#fbad1c"/><rect x="541" y="104" width="4" height="4" fill="#e62c29"/><rect x="541" y="108" width="4" height="4" fill="#e52a28"/><rect x="541" y="112" width="4" height="4" fill="#e62c29"/><rect x="541" y="116" width="4" height="4" fill="#fbb61c"/><rect x="541" y="120" width="4" height="4" fill="#ffec5f"/><rect x="541" y="124" width="4" height="4" fill="#fffdec"/><rect x="545" y="92" width="4" height="4" fill="#fffded"/><rect x="545" y="96" width="4" height="4" fill="#fff6b8"/><rect x="545" y="100" width="4" height="4" fill="#e8302a"/><rect x="545" y="104" width="4" height="4" fill="#e62c29"/><rect x="545" y="108" width="4" height="4" fill="#e52a28"/><rect x="545" y="112" width="4" height="4" fill="#e72e29"/><rect x="545" y="116" width="4" height="4" fill="#ffde1a"/><rect x="545" y="120" width="4" height="4" fill="#fff29a"/><rect x="545" y="124" width="4" height="4" fill="#fffdee"/><rect x="549" y="92" width="4" height="4" fill="#fffcea"/><rect x="549" y="96" width="4" height="4" fill="#fff18b"/><rect x="549" y="100" width="4" height="4" fill="#e72e29"/><rect x="549" y="104" width="4" height="4" fill="#e62c29"/><rect x="549" y="108" width="4" height="4" fill="#e52a28"/><rect x="549" y="112" width="4" height="4" fill="#e72f2a"/><rect x="549" y="116" width="4" height="4" fill="#ffe83d"/><rect x="549" y="120" width="4" height="4" fill="#fff5af"/><rect x="553" y="92" width="4" height="4" fill="#fffcea"/><rect x="553" y="96" width="4" height="4" fill="#ffe83a"/><rect x="553" y="100" width="4" height="4" fill="#e72d29"/><rect x="553" y="104" width="4" height="4" fill="#e62b28"/><rect x="553" y="108" width="4" height="4" fill="#e52a28"/><rect x="553" y="112" width="4" height="4" fill="#e8302a"/><rect x="553" y="116" width="4" height="4" fill="#ffea51"/><rect x="553" y="120" width="4" height="4" fill="#fff8c6"/><rect x="553" y="124" width="4" height="4" fill="#fffdea"/><rect x="557" y="92" width="4" height="4" fill="#fffce4"/><rect x="557" y="96" width="4" height="4" fill="#fdcf1b"/><rect x="557" y="100" width="4" height="4" fill="#e62d29"/><rect x="557" y="104" width="4" height="4" fill="#e52b28"/><rect x="557" y="108" width="4" height="4" fill="#e52a28"/><rect x="557" y="112" width="4" height="4" fill="#eb4328"/><rect x="557" y="116" width="4" height="4" fill="#ffed6d"/><rect x="557" y="120" width="4" height="4" fill="#fff8c5"/><rect x="561" y="92" width="4" height="4" fill="#fffce4"/><rect x="561" y="96" width="4" height="4" fill="#fcb81c"/><rect x="561" y="100" width="4" height="4" fill="#e62d29"/><rect x="561" y="104" width="4" height="4" fill="#e52b28"/><rect x="561" y="108" width="4" height="4" fill="#e52a28"/><rect x="561" y="112" width="4" height="4" fill="#ef5925"/><rect x="561" y="116" width="4" height="4" fill="#ffed6e"/><rect x="561" y="120" width="4" height="4" fill="#fff9d2"/><rect x="565" y="92" width="4" height="4" fill="#fffbe1"/><rect x="565" y="96" width="4" height="4" fill="#f8991e"/><rect x="565" y="100" width="4" height="4" fill="#e62d29"/><rect x="565" y="104" width="4" height="4" fill="#e52a28"/><rect x="565" y="108" width="4" height="4" fill="#e52a28"/><rect x="565" y="112" width="4" height="4" fill="#f26d23"/><rect x="565" y="116" width="4" height="4" fill="#fff18d"/><rect x="565" y="120" width="4" height="4" fill="#fff9cc"/><rect x="569" y="92" width="4" height="4" fill="#fffbdf"/><rect x="569" y="96" width="4" height="4" fill="#f58221"/><rect x="569" y="100" width="4" height="4" fill="#e62d29"/><rect x="569" y="104" width="4" height="4" fill="#e52a28"/><rect x="569" y="108" width="4" height="4" fill="#e52a28"/><rect x="569" y="112" width="4" height="4" fill="#f47622"/><rect x="569" y="116" width="4" height="4" fill="#fff18f"/><rect x="569" y="120" width="4" height="4" fill="#fff9d0"/><rect x="573" y="92" width="4" height="4" fill="#fffbdc"/><rect x="573" y="96" width="4" height="4" fill="#f47a21"/><rect x="573" y="100" width="4" height="4" fill="#e62d29"/><rect x="573" y="104" width="4" height="4" fill="#e52a28"/><rect x="573" y="108" width="4" height="4" fill="#e52a28"/><rect x="573" y="112" width="4" height="4" fill="#f57f21"/><rect x="573" y="116" width="4" height="4" fill="#fff39d"/><rect x="573" y="120" width="4" height="4" fill="#fff9cd"/><rect x="577" y="92" width="4" height="4" fill="#fffbdf"/><rect x="577" y="96" width="4" height="4" fill="#f37222"/><rect x="577" y="100" width="4" height="4" fill="#e62d29"/><rect x="577" y="104" width="4" height="4" fill="#e52a28"/><rect x="577" y="108" width="4" height="4" fill="#e52a28"/><rect x="577" y="112" width="4" height="4" fill="#f78d1f"/><rect x="577" y="116" width="4" height="4" fill="#fff29b"/><rect x="577" y="120" width="4" height="4" fill="#fffad5"/><rect x="581" y="92" width="4" height="4" fill="#fffad3"/><rect x="581" y="96" width="4" height="4" fill="#f37522"/><rect x="581" y="100" width="4" height="4" fill="#e62d29"/><rect x="581" y="104" width="4" height="4" fill="#e52a28"/><rect x="581" y="108" width="4" height="4" fill="#e52a28"/><rect x="581" y="112" width="4" height="4" fill="#f7941f"/><rect x="581" y="116" width="4" height="4" fill="#fff088"/><rect x="581" y="120" width="4" height="4" fill="#fffad9"/><rect x="585" y="92" width="4" height="4" fill="#fffce5"/><rect x="585" y="96" width="4" height="4" fill="#faa71d"/><rect x="585" y="100" width="4" height="4" fill="#e72e29"/><rect x="585" y="104" width="4" height="4" fill="#e52a28"/><rect x="585" y="108" width="4" height="4" fill="#e52b28"/><rect x="585" y="112" width="4" height="4" fill="#ee5526"/><rect x="585" y="116" width="4" height="4" fill="#fcba1c"/><rect x="585" y="120" width="4" height="4" fill="#fed71b"/><rect x="585" y="124" width="4" height="4" fill="#ffe41d"/><rect x="585" y="128" width="4" height="4" fill="#ffe83a"/><rect x="585" y="132" width="4" height="4" fill="#ffeb56"/><rect x="585" y="136" width="4" height="4" fill="#fff083"/><rect x="585" y="140" width="4" height="4" fill="#fff4a8"/><rect x="585" y="144" width="4" height="4" fill="#fff8c3"/><rect x="585" y="148" width="4" height="4" fill="#fffad8"/><rect x="585" y="152" width="4" height="4" fill="#fffce7"/><rect x="585" y="164" width="4" height="4" fill="#ed4f26"/><rect x="589" y="120" width="4" height="4" fill="#fffdea"/><rect x="589" y="124" width="4" height="4" fill="#fffad8"/><rect x="589" y="128" width="4" height="4" fill="#fff7c1"/><rect x="589" y="132" width="4" height="4" fill="#fff39e"/><rect x="589" y="136" width="4" height="4" fill="#ffec65"/><rect x="589" y="140" width="4" height="4" fill="#ffe62f"/><rect x="589" y="144" width="4" height="4" fill="#fed71a"/><rect x="589" y="148" width="4" height="4" fill="#fdc71b"/><rect x="589" y="152" width="4" height="4" fill="#fbad1c"/><rect x="589" y="156" width="4" height="4" fill="#f58420"/><rect x="589" y="160" width="4" height="4" fill="#f05c25"/><rect x="589" y="164" width="4" height="4" fill="#e52a28"/><rect x="593" y="148" width="4" height="4" fill="#fffce3"/><rect x="593" y="152" width="4" height="4" fill="#fff9d0"/><rect x="593" y="156" width="4" height="4" fill="#fff4a4"/><rect x="593" y="160" width="4" height="4" fill="#fed41b"/><rect x="593" y="164" width="4" height="4" fill="#e52a28"/><rect x="597" y="156" width="4" height="4" fill="#fffce5"/><rect x="597" y="160" width="4" height="4" fill="#fff6b4"/><rect x="597" y="164" width="4" height="4" fill="#e52a28"/><rect x="601" y="160" width="4" height="4" fill="#fffbdb"/><rect x="601" y="164" width="4" height="4" fill="#e52a28"/><rect x="605" y="164" width="4" height="4" fill="#e52a28"/><rect x="609" y="164" width="4" height="4" fill="#e52a28"/><rect x="613" y="164" width="4" height="4" fill="#e52a28"/><rect x="617" y="164" width="4" height="4" fill="#e52a28"/><rect x="621" y="164" width="4" height="4" fill="#e52a28"/><rect x="625" y="164" width="4" height="4" fill="#e52a28"/><rect x="629" y="164" width="4" height="4" fill="#e52a28"/><rect x="633" y="164" width="4" height="4" fill="#e52a28"/><rect x="637" y="164" width="4" height="4" fill="#e52a28"/><rect x="641" y="164" width="4" height="4" fill="#e52a28"/><rect x="645" y="164" width="4" height="4" fill="#e52a28"/><rect x="649" y="164" width="4" height="4" fill="#e52a28"/><rect x="653" y="164" width="4" height="4" fill="#e52a28"/><rect x="657" y="164" width="4" height="4" fill="#e52a28"/><rect x="661" y="164" width="4" height="4" fill="#e52a28"/><rect x="665" y="164" width="4" height="4" fill="#e52a28"/><rect x="669" y="164" width="4" height="4" fill="#e52a28"/><rect x="673" y="164" width="4" height="4" fill="#e52a28"/><rect x="677" y="164" width="4" height="4" fill="#e52a28"/><rect x="681" y="164" width="4" height="4" fill="#e52a28"/><rect x="685" y="164" width="4" height="4" fill="#e52a28"/><rect x="689" y="164" width="4" height="4" fill="#e52a28"/></g><rect x="361" y="165.3" width="57" height="3.6" fill="#e52a28"/><rect x="587.5" y="165.3" width="104.5" height="3.6" fill="#e52a28"/><path fill="#000" d="M368.0 173.2h1.3v1.3h-1.3zM368.6 170.4h1.3v1.3h-1.3zM369.2 172.5h1.3v1.3h-1.3zM369.8 170.9h1.3v1.3h-1.3zM370.4 173.6h1.3v1.3h-1.3zM371.0 169.4h1.3v1.3h-1.3zM371.6 170.8h1.3v1.3h-1.3zM372.2 172.8h1.3v1.3h-1.3zM372.8 173.2h1.3v1.3h-1.3zM373.4 173.5h1.3v1.3h-1.3zM374.0 171.5h1.3v1.3h-1.3zM374.6 170.8h1.3v1.3h-1.3zM375.2 174.3h1.3v1.3h-1.3zM375.8 172.4h1.3v1.3h-1.3zM376.4 169.5h1.3v1.3h-1.3zM377.0 170.1h1.3v1.3h-1.3zM377.6 177.7h1.3v1.3h-1.3zM378.2 170.2h1.3v1.3h-1.3zM378.8 171.8h1.3v1.3h-1.3zM379.4 173.0h1.3v1.3h-1.3zM380.0 169.5h1.3v1.3h-1.3zM380.6 169.7h1.3v1.3h-1.3zM381.2 170.3h1.3v1.3h-1.3zM381.8 169.4h1.3v1.3h-1.3zM382.4 170.1h1.3v1.3h-1.3zM383.0 171.5h1.3v1.3h-1.3zM383.6 172.8h1.3v1.3h-1.3zM384.2 169.9h1.3v1.3h-1.3zM384.8 175.1h1.3v1.3h-1.3zM385.4 171.5h1.3v1.3h-1.3zM386.0 173.9h1.3v1.3h-1.3zM386.6 169.8h1.3v1.3h-1.3zM387.2 174.1h1.3v1.3h-1.3zM387.8 169.2h1.3v1.3h-1.3zM388.4 171.8h1.3v1.3h-1.3zM389.0 169.9h1.3v1.3h-1.3zM389.6 180.1h1.3v1.3h-1.3zM390.2 169.4h1.3v1.3h-1.3zM390.8 172.0h1.3v1.3h-1.3zM391.4 173.6h1.3v1.3h-1.3zM392.0 170.2h1.3v1.3h-1.3zM392.6 171.4h1.3v1.3h-1.3zM393.2 169.5h1.3v1.3h-1.3zM393.8 170.4h1.3v1.3h-1.3zM394.4 169.5h1.3v1.3h-1.3zM395.0 172.5h1.3v1.3h-1.3zM395.6 171.1h1.3v1.3h-1.3zM396.2 171.9h1.3v1.3h-1.3zM396.8 175.4h1.3v1.3h-1.3zM397.4 170.9h1.3v1.3h-1.3zM398.0 171.5h1.3v1.3h-1.3zM398.6 169.2h1.3v1.3h-1.3zM399.2 172.3h1.3v1.3h-1.3zM399.8 171.2h1.3v1.3h-1.3zM400.4 172.5h1.3v1.3h-1.3zM401.0 169.6h1.3v1.3h-1.3zM401.6 173.4h1.3v1.3h-1.3zM402.2 171.3h1.3v1.3h-1.3zM402.8 169.7h1.3v1.3h-1.3zM403.4 171.8h1.3v1.3h-1.3zM404.0 171.7h1.3v1.3h-1.3zM404.6 170.7h1.3v1.3h-1.3zM405.2 174.6h1.3v1.3h-1.3zM405.8 170.4h1.3v1.3h-1.3zM406.4 171.0h1.3v1.3h-1.3zM407.0 170.9h1.3v1.3h-1.3zM407.6 170.1h1.3v1.3h-1.3zM408.2 169.9h1.3v1.3h-1.3zM408.8 169.8h1.3v1.3h-1.3zM409.4 171.2h1.3v1.3h-1.3zM410.0 172.5h1.3v1.3h-1.3zM410.6 170.5h1.3v1.3h-1.3zM411.2 171.1h1.3v1.3h-1.3zM411.8 174.2h1.3v1.3h-1.3zM412.4 172.4h1.3v1.3h-1.3zM413.0 172.7h1.3v1.3h-1.3zM413.6 171.8h1.3v1.3h-1.3zM414.2 171.5h1.3v1.3h-1.3zM414.8 169.8h1.3v1.3h-1.3zM415.4 171.7h1.3v1.3h-1.3zM416.0 175.1h1.3v1.3h-1.3zM416.6 170.3h1.3v1.3h-1.3zM418.0 158.2h1.3v1.3h-1.3zM418.6 155.3h1.3v1.3h-1.3zM419.2 148.2h1.3v1.3h-1.3zM419.8 145.5h1.3v1.3h-1.3zM420.4 142.2h1.3v1.3h-1.3zM421.0 135.7h1.3v1.3h-1.3zM421.6 139.2h1.3v1.3h-1.3zM422.2 135.1h1.3v1.3h-1.3zM422.8 129.3h1.3v1.3h-1.3zM423.4 129.1h1.3v1.3h-1.3zM424.0 126.7h1.3v1.3h-1.3zM424.6 123.6h1.3v1.3h-1.3zM425.2 123.8h1.3v1.3h-1.3zM425.8 123.4h1.3v1.3h-1.3zM426.4 123.7h1.3v1.3h-1.3zM427.0 122.2h1.3v1.3h-1.3zM427.6 120.2h1.3v1.3h-1.3zM428.2 121.8h1.3v1.3h-1.3zM428.8 117.2h1.3v1.3h-1.3zM429.4 119.3h1.3v1.3h-1.3zM430.0 119.1h1.3v1.3h-1.3zM430.6 115.8h1.3v1.3h-1.3zM431.2 112.3h1.3v1.3h-1.3zM431.8 113.2h1.3v1.3h-1.3zM432.4 114.8h1.3v1.3h-1.3zM433.0 114.8h1.3v1.3h-1.3zM433.6 116.2h1.3v1.3h-1.3zM434.2 111.2h1.3v1.3h-1.3zM434.8 112.5h1.3v1.3h-1.3zM435.4 113.3h1.3v1.3h-1.3zM436.0 111.4h1.3v1.3h-1.3zM436.6 106.9h1.3v1.3h-1.3zM437.2 112.2h1.3v1.3h-1.3zM437.8 114.4h1.3v1.3h-1.3zM438.4 111.6h1.3v1.3h-1.3zM439.0 107.7h1.3v1.3h-1.3zM439.6 108.2h1.3v1.3h-1.3zM440.2 108.9h1.3v1.3h-1.3zM440.8 112.7h1.3v1.3h-1.3zM441.4 109.1h1.3v1.3h-1.3zM442.0 107.9h1.3v1.3h-1.3zM442.6 110.3h1.3v1.3h-1.3zM443.2 107.1h1.3v1.3h-1.3zM443.8 110.4h1.3v1.3h-1.3zM444.4 105.5h1.3v1.3h-1.3zM445.0 105.7h1.3v1.3h-1.3zM445.6 107.6h1.3v1.3h-1.3zM446.2 108.6h1.3v1.3h-1.3zM446.8 107.0h1.3v1.3h-1.3zM447.4 106.1h1.3v1.3h-1.3zM448.0 102.1h1.3v1.3h-1.3zM448.6 103.8h1.3v1.3h-1.3zM449.2 103.8h1.3v1.3h-1.3zM449.8 103.7h1.3v1.3h-1.3zM450.4 105.4h1.3v1.3h-1.3zM451.0 103.5h1.3v1.3h-1.3zM451.6 105.3h1.3v1.3h-1.3zM452.2 104.0h1.3v1.3h-1.3zM452.8 103.1h1.3v1.3h-1.3zM453.4 103.8h1.3v1.3h-1.3zM454.0 104.3h1.3v1.3h-1.3zM454.6 105.0h1.3v1.3h-1.3zM455.2 102.5h1.3v1.3h-1.3zM455.8 102.8h1.3v1.3h-1.3zM456.4 100.7h1.3v1.3h-1.3zM457.0 106.0h1.3v1.3h-1.3zM457.6 105.6h1.3v1.3h-1.3zM458.2 102.6h1.3v1.3h-1.3zM458.8 101.9h1.3v1.3h-1.3zM459.4 100.5h1.3v1.3h-1.3zM460.0 102.9h1.3v1.3h-1.3zM460.6 102.9h1.3v1.3h-1.3zM461.2 106.3h1.3v1.3h-1.3zM461.8 102.8h1.3v1.3h-1.3zM462.4 100.8h1.3v1.3h-1.3zM463.0 97.7h1.3v1.3h-1.3zM463.6 104.6h1.3v1.3h-1.3zM464.2 102.3h1.3v1.3h-1.3zM464.8 99.0h1.3v1.3h-1.3zM465.5 102.9h1.3v1.3h-1.3zM466.1 101.2h1.3v1.3h-1.3zM466.7 111.9h1.3v1.3h-1.3zM467.3 109.2h1.3v1.3h-1.3zM467.9 109.8h1.3v1.3h-1.3zM468.5 109.5h1.3v1.3h-1.3zM469.1 107.1h1.3v1.3h-1.3zM469.7 111.7h1.3v1.3h-1.3zM470.3 110.2h1.3v1.3h-1.3zM470.9 115.1h1.3v1.3h-1.3zM471.5 111.2h1.3v1.3h-1.3zM472.1 114.5h1.3v1.3h-1.3zM472.7 119.3h1.3v1.3h-1.3zM473.3 121.1h1.3v1.3h-1.3zM473.9 116.9h1.3v1.3h-1.3zM474.5 117.2h1.3v1.3h-1.3zM475.1 122.5h1.3v1.3h-1.3zM475.7 123.4h1.3v1.3h-1.3zM476.3 121.1h1.3v1.3h-1.3zM476.9 122.6h1.3v1.3h-1.3zM477.5 123.5h1.3v1.3h-1.3zM478.1 123.6h1.3v1.3h-1.3zM478.7 125.4h1.3v1.3h-1.3zM479.3 129.9h1.3v1.3h-1.3zM479.9 129.8h1.3v1.3h-1.3zM480.5 133.2h1.3v1.3h-1.3zM481.1 130.3h1.3v1.3h-1.3zM481.7 131.1h1.3v1.3h-1.3zM482.3 130.4h1.3v1.3h-1.3zM482.9 132.7h1.3v1.3h-1.3zM483.5 131.4h1.3v1.3h-1.3zM484.1 131.3h1.3v1.3h-1.3zM484.7 136.6h1.3v1.3h-1.3zM485.3 138.7h1.3v1.3h-1.3zM485.9 138.4h1.3v1.3h-1.3zM486.5 140.1h1.3v1.3h-1.3zM487.1 139.0h1.3v1.3h-1.3zM487.7 138.0h1.3v1.3h-1.3zM488.3 140.3h1.3v1.3h-1.3zM488.9 140.3h1.3v1.3h-1.3zM489.5 139.7h1.3v1.3h-1.3zM490.1 139.5h1.3v1.3h-1.3zM490.7 140.7h1.3v1.3h-1.3zM491.3 144.1h1.3v1.3h-1.3zM491.9 145.0h1.3v1.3h-1.3zM492.5 144.4h1.3v1.3h-1.3zM493.1 148.3h1.3v1.3h-1.3zM493.7 146.6h1.3v1.3h-1.3zM494.3 147.8h1.3v1.3h-1.3zM494.9 149.4h1.3v1.3h-1.3zM495.5 146.3h1.3v1.3h-1.3zM496.1 144.7h1.3v1.3h-1.3zM496.7 150.1h1.3v1.3h-1.3zM497.3 148.0h1.3v1.3h-1.3zM497.9 152.1h1.3v1.3h-1.3zM498.5 150.8h1.3v1.3h-1.3zM499.1 152.5h1.3v1.3h-1.3zM499.7 152.6h1.3v1.3h-1.3zM500.3 148.0h1.3v1.3h-1.3zM500.9 153.5h1.3v1.3h-1.3zM501.5 151.5h1.3v1.3h-1.3zM502.1 151.7h1.3v1.3h-1.3zM502.7 152.6h1.3v1.3h-1.3zM503.3 155.1h1.3v1.3h-1.3zM503.9 155.6h1.3v1.3h-1.3zM504.5 156.1h1.3v1.3h-1.3zM505.1 151.6h1.3v1.3h-1.3zM505.7 153.8h1.3v1.3h-1.3zM506.3 150.9h1.3v1.3h-1.3zM506.9 155.3h1.3v1.3h-1.3zM507.5 156.9h1.3v1.3h-1.3zM508.1 154.7h1.3v1.3h-1.3zM508.7 156.8h1.3v1.3h-1.3zM509.3 157.1h1.3v1.3h-1.3zM509.9 158.8h1.3v1.3h-1.3zM510.5 155.8h1.3v1.3h-1.3zM511.1 156.1h1.3v1.3h-1.3zM511.7 156.5h1.3v1.3h-1.3zM512.3 161.4h1.3v1.3h-1.3zM512.9 160.6h1.3v1.3h-1.3zM513.5 158.8h1.3v1.3h-1.3zM514.1 159.8h1.3v1.3h-1.3zM514.7 159.9h1.3v1.3h-1.3zM515.5 158.8h1.3v1.3h-1.3zM516.1 153.0h1.3v1.3h-1.3zM516.7 148.0h1.3v1.3h-1.3zM517.3 142.1h1.3v1.3h-1.3zM517.9 139.0h1.3v1.3h-1.3zM518.5 139.0h1.3v1.3h-1.3zM519.1 135.4h1.3v1.3h-1.3zM519.7 132.9h1.3v1.3h-1.3zM520.3 130.8h1.3v1.3h-1.3zM520.9 129.7h1.3v1.3h-1.3zM521.5 128.6h1.3v1.3h-1.3zM522.1 125.2h1.3v1.3h-1.3zM522.7 125.2h1.3v1.3h-1.3zM523.3 123.6h1.3v1.3h-1.3zM523.9 120.7h1.3v1.3h-1.3zM524.5 119.9h1.3v1.3h-1.3zM525.1 118.7h1.3v1.3h-1.3zM525.7 117.9h1.3v1.3h-1.3zM526.3 120.6h1.3v1.3h-1.3zM526.9 114.0h1.3v1.3h-1.3zM527.5 117.0h1.3v1.3h-1.3zM528.1 115.7h1.3v1.3h-1.3zM528.7 114.9h1.3v1.3h-1.3zM529.3 115.5h1.3v1.3h-1.3zM529.9 116.6h1.3v1.3h-1.3zM530.5 114.0h1.3v1.3h-1.3zM531.1 113.2h1.3v1.3h-1.3zM531.7 112.0h1.3v1.3h-1.3zM532.3 112.6h1.3v1.3h-1.3zM532.9 114.1h1.3v1.3h-1.3zM533.5 111.4h1.3v1.3h-1.3zM534.1 109.7h1.3v1.3h-1.3zM534.7 109.1h1.3v1.3h-1.3zM535.3 109.1h1.3v1.3h-1.3zM535.9 108.2h1.3v1.3h-1.3zM536.5 112.3h1.3v1.3h-1.3zM537.1 110.6h1.3v1.3h-1.3zM537.7 109.2h1.3v1.3h-1.3zM538.3 111.9h1.3v1.3h-1.3zM538.9 107.8h1.3v1.3h-1.3zM539.5 110.0h1.3v1.3h-1.3zM540.1 109.7h1.3v1.3h-1.3zM540.7 105.1h1.3v1.3h-1.3zM541.3 104.8h1.3v1.3h-1.3zM541.9 105.6h1.3v1.3h-1.3zM542.5 108.5h1.3v1.3h-1.3zM543.1 108.9h1.3v1.3h-1.3zM543.7 104.0h1.3v1.3h-1.3zM544.3 107.8h1.3v1.3h-1.3zM544.9 105.1h1.3v1.3h-1.3zM545.5 105.0h1.3v1.3h-1.3zM546.1 104.6h1.3v1.3h-1.3zM546.7 104.9h1.3v1.3h-1.3zM547.3 102.1h1.3v1.3h-1.3zM547.9 103.5h1.3v1.3h-1.3zM548.5 103.0h1.3v1.3h-1.3zM549.1 106.0h1.3v1.3h-1.3zM549.7 108.7h1.3v1.3h-1.3zM550.3 109.8h1.3v1.3h-1.3zM550.9 104.1h1.3v1.3h-1.3zM551.5 101.5h1.3v1.3h-1.3zM552.1 103.8h1.3v1.3h-1.3zM552.7 102.7h1.3v1.3h-1.3zM553.3 107.9h1.3v1.3h-1.3zM553.9 105.2h1.3v1.3h-1.3zM554.5 102.8h1.3v1.3h-1.3zM555.1 105.7h1.3v1.3h-1.3zM555.7 104.8h1.3v1.3h-1.3zM556.3 100.8h1.3v1.3h-1.3zM556.9 102.7h1.3v1.3h-1.3zM557.5 103.1h1.3v1.3h-1.3zM558.1 103.5h1.3v1.3h-1.3zM558.7 103.6h1.3v1.3h-1.3zM559.3 102.6h1.3v1.3h-1.3zM559.9 103.4h1.3v1.3h-1.3zM560.5 101.9h1.3v1.3h-1.3zM561.1 101.3h1.3v1.3h-1.3zM561.7 105.6h1.3v1.3h-1.3zM562.3 103.5h1.3v1.3h-1.3zM562.9 103.7h1.3v1.3h-1.3zM563.5 100.0h1.3v1.3h-1.3zM564.1 102.5h1.3v1.3h-1.3zM564.7 104.3h1.3v1.3h-1.3zM565.3 100.5h1.3v1.3h-1.3zM565.9 104.8h1.3v1.3h-1.3zM566.5 102.1h1.3v1.3h-1.3zM567.1 103.5h1.3v1.3h-1.3zM567.7 102.5h1.3v1.3h-1.3zM568.3 103.2h1.3v1.3h-1.3zM568.9 104.9h1.3v1.3h-1.3zM569.5 102.0h1.3v1.3h-1.3zM570.1 105.5h1.3v1.3h-1.3zM570.7 101.3h1.3v1.3h-1.3zM571.3 101.0h1.3v1.3h-1.3zM571.9 104.0h1.3v1.3h-1.3zM572.5 100.8h1.3v1.3h-1.3zM573.1 102.0h1.3v1.3h-1.3zM573.7 104.3h1.3v1.3h-1.3zM574.3 104.8h1.3v1.3h-1.3zM574.9 99.4h1.3v1.3h-1.3zM575.5 103.5h1.3v1.3h-1.3zM576.1 106.0h1.3v1.3h-1.3zM576.7 104.8h1.3v1.3h-1.3zM577.3 102.2h1.3v1.3h-1.3zM577.9 101.5h1.3v1.3h-1.3zM578.5 102.0h1.3v1.3h-1.3zM579.1 100.5h1.3v1.3h-1.3zM579.7 102.1h1.3v1.3h-1.3zM580.3 102.2h1.3v1.3h-1.3zM580.9 102.3h1.3v1.3h-1.3zM581.5 104.6h1.3v1.3h-1.3zM582.1 102.1h1.3v1.3h-1.3zM582.7 99.9h1.3v1.3h-1.3zM583.3 104.4h1.3v1.3h-1.3zM583.9 100.5h1.3v1.3h-1.3zM584.5 101.6h1.3v1.3h-1.3zM585.1 102.2h1.3v1.3h-1.3zM585.7 101.8h1.3v1.3h-1.3zM586.3 100.6h1.3v1.3h-1.3zM586.9 102.0h1.3v1.3h-1.3zM588.0 171.8h1.3v1.3h-1.3zM588.8 165.1h1.3v1.3h-1.3zM589.6 166.3h1.3v1.3h-1.3zM590.4 169.3h1.3v1.3h-1.3zM591.2 168.4h1.3v1.3h-1.3zM592.0 168.4h1.3v1.3h-1.3zM592.8 168.7h1.3v1.3h-1.3zM593.6 161.9h1.3v1.3h-1.3zM594.4 164.5h1.3v1.3h-1.3zM595.2 166.9h1.3v1.3h-1.3zM596.0 167.8h1.3v1.3h-1.3zM596.8 169.7h1.3v1.3h-1.3zM597.6 167.7h1.3v1.3h-1.3zM598.4 166.0h1.3v1.3h-1.3zM599.2 166.7h1.3v1.3h-1.3zM600.0 166.1h1.3v1.3h-1.3zM600.8 167.2h1.3v1.3h-1.3zM601.6 168.2h1.3v1.3h-1.3zM602.4 165.8h1.3v1.3h-1.3zM603.2 164.6h1.3v1.3h-1.3zM604.0 164.5h1.3v1.3h-1.3zM604.8 169.2h1.3v1.3h-1.3zM605.6 169.7h1.3v1.3h-1.3zM606.4 169.0h1.3v1.3h-1.3zM607.2 168.7h1.3v1.3h-1.3zM608.0 168.6h1.3v1.3h-1.3zM608.8 166.6h1.3v1.3h-1.3zM609.6 168.2h1.3v1.3h-1.3zM610.4 164.1h1.3v1.3h-1.3zM611.2 166.1h1.3v1.3h-1.3zM612.0 164.8h1.3v1.3h-1.3zM612.8 168.3h1.3v1.3h-1.3zM613.6 165.2h1.3v1.3h-1.3zM614.4 166.3h1.3v1.3h-1.3zM615.2 167.6h1.3v1.3h-1.3zM616.0 169.9h1.3v1.3h-1.3zM616.8 164.7h1.3v1.3h-1.3zM617.6 164.3h1.3v1.3h-1.3zM618.4 168.6h1.3v1.3h-1.3zM619.2 163.9h1.3v1.3h-1.3zM620.0 167.7h1.3v1.3h-1.3zM620.8 165.2h1.3v1.3h-1.3zM621.6 166.3h1.3v1.3h-1.3zM622.4 162.2h1.3v1.3h-1.3zM623.2 168.3h1.3v1.3h-1.3zM624.0 165.4h1.3v1.3h-1.3zM624.8 164.4h1.3v1.3h-1.3zM625.6 171.6h1.3v1.3h-1.3zM626.4 168.3h1.3v1.3h-1.3zM627.2 175.0h1.3v1.3h-1.3zM628.0 167.6h1.3v1.3h-1.3zM628.8 165.8h1.3v1.3h-1.3zM629.6 166.9h1.3v1.3h-1.3zM630.4 170.5h1.3v1.3h-1.3zM631.2 166.5h1.3v1.3h-1.3zM632.0 167.7h1.3v1.3h-1.3zM632.8 167.8h1.3v1.3h-1.3zM633.6 164.4h1.3v1.3h-1.3zM634.4 166.9h1.3v1.3h-1.3zM635.2 165.4h1.3v1.3h-1.3zM636.0 163.6h1.3v1.3h-1.3zM636.8 168.7h1.3v1.3h-1.3zM637.6 168.2h1.3v1.3h-1.3zM638.4 166.8h1.3v1.3h-1.3zM639.2 164.4h1.3v1.3h-1.3zM640.0 161.8h1.3v1.3h-1.3zM640.8 167.8h1.3v1.3h-1.3zM641.6 166.4h1.3v1.3h-1.3zM642.4 162.6h1.3v1.3h-1.3zM643.2 166.5h1.3v1.3h-1.3zM644.0 162.9h1.3v1.3h-1.3zM644.8 166.5h1.3v1.3h-1.3zM645.6 166.9h1.3v1.3h-1.3zM646.4 167.5h1.3v1.3h-1.3zM647.2 167.1h1.3v1.3h-1.3zM648.0 167.0h1.3v1.3h-1.3zM648.8 163.9h1.3v1.3h-1.3zM649.6 165.7h1.3v1.3h-1.3zM650.4 165.4h1.3v1.3h-1.3zM651.2 166.0h1.3v1.3h-1.3zM652.0 167.2h1.3v1.3h-1.3zM652.8 168.1h1.3v1.3h-1.3zM653.6 170.5h1.3v1.3h-1.3zM654.4 160.4h1.3v1.3h-1.3zM655.2 167.6h1.3v1.3h-1.3zM656.0 166.1h1.3v1.3h-1.3zM656.8 172.1h1.3v1.3h-1.3zM657.6 168.8h1.3v1.3h-1.3zM658.4 162.6h1.3v1.3h-1.3zM659.2 167.6h1.3v1.3h-1.3zM660.0 165.4h1.3v1.3h-1.3zM660.8 169.0h1.3v1.3h-1.3zM661.6 164.1h1.3v1.3h-1.3zM662.4 166.4h1.3v1.3h-1.3zM663.2 166.3h1.3v1.3h-1.3zM664.0 166.4h1.3v1.3h-1.3zM664.8 165.2h1.3v1.3h-1.3zM665.6 162.2h1.3v1.3h-1.3zM666.4 167.7h1.3v1.3h-1.3zM667.2 169.0h1.3v1.3h-1.3zM668.0 166.4h1.3v1.3h-1.3zM668.8 164.2h1.3v1.3h-1.3zM669.6 167.1h1.3v1.3h-1.3zM670.4 168.0h1.3v1.3h-1.3zM671.2 166.2h1.3v1.3h-1.3zM672.0 166.6h1.3v1.3h-1.3zM672.8 170.0h1.3v1.3h-1.3zM673.6 163.9h1.3v1.3h-1.3zM674.4 165.3h1.3v1.3h-1.3zM675.2 162.0h1.3v1.3h-1.3zM676.0 164.9h1.3v1.3h-1.3zM676.8 164.8h1.3v1.3h-1.3zM677.6 164.3h1.3v1.3h-1.3zM678.4 164.9h1.3v1.3h-1.3zM679.2 170.9h1.3v1.3h-1.3zM680.0 166.1h1.3v1.3h-1.3zM680.8 166.3h1.3v1.3h-1.3zM681.6 171.9h1.3v1.3h-1.3zM682.4 166.5h1.3v1.3h-1.3zM683.2 162.4h1.3v1.3h-1.3zM684.0 167.6h1.3v1.3h-1.3zM684.8 164.4h1.3v1.3h-1.3zM685.6 170.5h1.3v1.3h-1.3zM686.4 163.6h1.3v1.3h-1.3zM687.2 165.2h1.3v1.3h-1.3zM688.0 162.7h1.3v1.3h-1.3zM688.8 166.8h1.3v1.3h-1.3zM689.6 164.2h1.3v1.3h-1.3zM690.4 166.4h1.3v1.3h-1.3z"/><path d="M361,167.1 L417.7,167.1 L417.7,167.1 L417.7,166.5 L417.7,165.7 L417.8,164.8 L417.8,163.8 L417.8,162.6 L417.8,161.5 L417.9,160.2 L417.9,159.0 L418.0,157.8 L418.0,156.6 L418.1,155.4 L418.2,154.4 L418.3,153.4 L418.4,152.5 L418.5,151.5 L418.6,150.6 L418.8,149.7 L418.9,148.8 L419.0,147.9 L419.2,147.0 L419.4,146.1 L419.5,145.1 L419.7,144.1 L419.9,143.1 L420.1,142.0 L420.3,140.8 L420.5,139.6 L420.8,138.3 L421.0,137.1 L421.2,135.8 L421.5,134.5 L421.8,133.3 L422.0,132.1 L422.3,131.0 L422.5,129.9 L422.8,129.0 L423.1,128.2 L423.3,127.4 L423.6,126.7 L423.8,126.1 L424.1,125.5 L424.3,125.0 L424.6,124.5 L424.9,124.0 L425.2,123.5 L425.5,123.0 L425.8,122.5 L426.2,121.9 L426.6,121.3 L427.0,120.7 L427.4,120.1 L427.8,119.5 L428.2,118.9 L428.7,118.3 L429.1,117.7 L429.6,117.1 L430.1,116.5 L430.7,115.9 L431.2,115.4 L431.8,114.8 L432.4,114.2 L433.0,113.7 L433.7,113.1 L434.3,112.5 L435.0,112.0 L435.7,111.4 L436.4,110.9 L437.2,110.4 L437.9,109.8 L438.7,109.3 L439.5,108.9 L440.3,108.4 L441.1,108.0 L442.0,107.5 L442.9,107.1 L443.8,106.7 L444.7,106.3 L445.6,105.9 L446.6,105.5 L447.6,105.2 L448.5,104.8 L449.6,104.5 L450.6,104.2 L451.6,103.9 L452.7,103.6 L453.9,103.4 L455.2,103.2 L456.5,102.9 L457.8,102.7 L459.1,102.6 L460.4,102.4 L461.6,102.3 L462.7,102.1 L463.7,102.0 L464.5,101.9 L465.2,101.8 L465.3,102.1 L465.5,102.6 L465.7,103.1 L465.9,103.6 L466.1,104.2 L466.3,104.9 L466.5,105.6 L466.8,106.3 L467.1,107.0 L467.4,107.7 L467.7,108.3 L468.0,109.0 L468.3,109.6 L468.6,110.3 L469.0,110.9 L469.3,111.5 L469.7,112.1 L470.0,112.8 L470.4,113.4 L470.9,114.1 L471.3,114.8 L471.8,115.6 L472.3,116.4 L472.8,117.3 L473.4,118.2 L474.0,119.2 L474.6,120.3 L475.3,121.4 L476.0,122.6 L476.7,123.7 L477.5,124.9 L478.2,126.1 L479.0,127.3 L479.7,128.5 L480.5,129.7 L481.3,130.8 L482.1,131.9 L482.9,133.1 L483.7,134.3 L484.6,135.5 L485.4,136.7 L486.3,137.9 L487.2,139.1 L488.0,140.2 L488.9,141.4 L489.8,142.4 L490.6,143.4 L491.5,144.4 L492.4,145.3 L493.2,146.2 L494.1,147.0 L494.9,147.7 L495.8,148.5 L496.6,149.2 L497.4,149.9 L498.3,150.5 L499.1,151.1 L500.0,151.7 L500.8,152.3 L501.7,152.9 L502.6,153.5 L503.5,154.0 L504.4,154.5 L505.4,155.0 L506.3,155.4 L507.2,155.9 L508.1,156.3 L509.0,156.6 L509.8,157.0 L510.6,157.4 L511.3,157.7 L511.9,158.0 L512.4,158.3 L512.9,158.5 L513.3,158.8 L513.7,159.0 L514.0,159.2 L514.2,159.4 L514.5,159.5 L514.7,159.7 L514.8,159.8 L515.0,159.9 L515.2,160.0 L515.3,160.1 L515.4,159.6 L515.4,159.0 L515.5,158.4 L515.6,157.6 L515.7,156.8 L515.8,155.9 L515.9,155.0 L516.0,154.0 L516.1,153.0 L516.2,152.0 L516.4,151.0 L516.5,150.0 L516.6,149.0 L516.8,147.9 L516.9,146.8 L517.0,145.6 L517.1,144.4 L517.3,143.2 L517.4,142.0 L517.6,140.8 L517.8,139.6 L518.0,138.4 L518.2,137.2 L518.5,136.0 L518.8,134.8 L519.2,133.7 L519.5,132.5 L519.9,131.2 L520.3,130.0 L520.8,128.9 L521.2,127.7 L521.7,126.5 L522.1,125.4 L522.6,124.4 L523.1,123.4 L523.6,122.4 L524.1,121.5 L524.6,120.7 L525.0,119.9 L525.5,119.2 L526.0,118.5 L526.5,117.8 L527.0,117.1 L527.6,116.5 L528.2,115.9 L528.9,115.2 L529.6,114.6 L530.4,113.9 L531.3,113.2 L532.2,112.5 L533.2,111.8 L534.3,111.0 L535.4,110.3 L536.6,109.6 L537.7,108.9 L539.0,108.3 L540.2,107.6 L541.5,107.0 L542.7,106.5 L544.0,106.0 L545.3,105.6 L546.5,105.2 L547.8,104.8 L549.1,104.5 L550.4,104.2 L551.7,104.0 L553.1,103.8 L554.5,103.6 L556.0,103.4 L557.6,103.2 L559.3,103.1 L561.0,102.9 L562.9,102.8 L565.1,102.7 L567.5,102.6 L570.0,102.5 L572.6,102.5 L575.2,102.5 L577.7,102.4 L580.1,102.4 L582.3,102.4 L584.2,102.4 L585.9,102.4 L587.2,102.4 L587.2,167.1 L692,167.1" stroke="#000" stroke-width="1.7" fill="none"/><rect x="361" y="198" width="331" height="14" fill="#bebebe"/><rect x="417.7" y="198" width="47.5" height="14" fill="#f05a60"/><rect x="515.3" y="198" width="71.9" height="14" fill="#f05a60"/><rect x="361" y="198" width="7" height="14" fill="#a29a94"/><rect x="361" y="191.5" width="7" height="6.5" fill="#e8e4e1"/><line x1="417.7" y1="68" x2="417.7" y2="212" stroke="#333" stroke-width="1" stroke-dasharray="1.5,1.5"/><line x1="465.2" y1="68" x2="465.2" y2="212" stroke="#333" stroke-width="1" stroke-dasharray="1.5,1.5"/><line x1="515.3" y1="68" x2="515.3" y2="212" stroke="#333" stroke-width="1" stroke-dasharray="1.5,1.5"/><line x1="587.2" y1="68" x2="587.2" y2="212" stroke="#333" stroke-width="1" stroke-dasharray="1.5,1.5"/><path d="M360.5,68.5 L360.5,212.5 M360,68.8 L364,68.8 M360,93.5 L364,93.5 M360,117.9 L364,117.9 M360,142.3 L364,142.3 M360,166.6 L364,166.6" stroke="#111" stroke-width="1.1" fill="none"/><path d="M360,191.2 L692,191.2" stroke="#111" stroke-width="1.4"/><path d="M360,212.2 L692,212.2" stroke="#111" stroke-width="1.4"/><path d="M427.0,212 L427.0,209 M427.0,191 L427.0,188 M493.2,212 L493.2,209 M493.2,191 L493.2,188 M559.4,212 L559.4,209 M559.4,191 L559.4,188 M625.6,212 L625.6,209 M625.6,191 L625.6,188" stroke="#111" stroke-width="1.1"/><text x="354" y="99.0" font-size="14" text-anchor="end" >15</text><text x="354" y="123.3" font-size="14" text-anchor="end" >10</text><text x="354" y="147.7" font-size="14" text-anchor="end" >5</text><text x="354" y="172.0" font-size="14" text-anchor="end" >0</text><text x="360.8" y="227.6" font-size="14" text-anchor="middle" >0</text><text x="427" y="227.6" font-size="14" text-anchor="middle" >5</text><text x="493.2" y="227.6" font-size="14" text-anchor="middle" >10</text><text x="559.4" y="227.6" font-size="14" text-anchor="middle" >15</text><text x="625.6" y="227.6" font-size="14" text-anchor="middle" >20</text><text x="691.8" y="227.6" font-size="14" text-anchor="middle" >25</text><text x="527.5" y="245" font-size="14" text-anchor="middle" >Time (min)</text><text x="362.5" y="61.7" font-size="14" text-anchor="middle" >ATP</text><text transform="translate(325.8,140) rotate(-90)" font-size="14.6" text-anchor="middle">Standardized intensity</text><circle cx="423.9" cy="56.4" r="4.7" fill="#000"/><text x="438.3" y="62.4" font-size="14" text-anchor="start" >Data</text><rect x="483.7" y="54.5" width="18.6" height="3.2" fill="#000"/><text x="510.8" y="62.4" font-size="14" text-anchor="start" >MAP</text><rect x="560.6" y="47.9" width="19.5" height="16.3" fill="#f05a64" stroke="#222" stroke-width="1.1"/><text x="589.5" y="62.4" font-size="14" text-anchor="start" ><tspan font-style="italic">t</tspan><tspan font-size="10.5" dy="4.5">on</tspan></text><rect x="620.9" y="47.9" width="19" height="16.3" fill="#bdbdbd" stroke="#222" stroke-width="1.1"/><text x="652" y="62.4" font-size="14" text-anchor="start" ><tspan font-style="italic">t</tspan><tspan font-size="10.5" dy="4.5">off</tspan></text><text x="489" y="87" font-size="14.5" text-anchor="middle" >Membrane leak</text><path d="M483.5,89.5 L477,110" stroke="#111" stroke-width="1.5"/><path d="M473,108 L480.5,110.5 L475.2,118 Z" fill="#111"/><text x="627.6" y="88.2" font-size="14.5" text-anchor="middle" >Transprotein leak</text><path d="M616,94.6 L596,123" stroke="#111" stroke-width="1.5"/><path d="M592.5,120 L598.8,124.5 L590.4,131 Z" fill="#111"/><rect x="698.3" y="69.5" width="21" height="143" fill="url(#cbar)" stroke="#222" stroke-width="1.1"/><text transform="translate(713.2,141.8) rotate(-90)" font-size="12.7" text-anchor="middle"><tspan font-style="italic">A posteriori</tspan> probability</text><text x="724.5" y="73.3" font-size="14" text-anchor="start" >1</text><text x="723.5" y="219" font-size="14" text-anchor="start" >0</text><text x="662" y="254.7" font-family="Liberation Serif, serif" font-weight="bold" font-size="21" fill="#a9a9a9"><tspan font-size="17" dy="0">&#169;</tspan><tspan letter-spacing="-0.4">nature</tspan></text></svg></body></html>
